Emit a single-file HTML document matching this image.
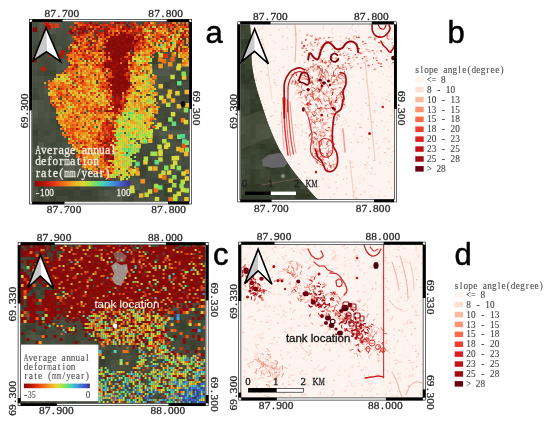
<!DOCTYPE html>
<html><head><meta charset="utf-8"><title>Figure</title>
<style>html,body{margin:0;padding:0;background:#fff;overflow:hidden;width:550px;height:425px;} svg{display:block}</style></head>
<body><svg width="550" height="425" viewBox="0 0 550 425">
<rect width="550" height="425" fill="#fff"/>
<filter id="blur" x="-5%" y="-5%" width="110%" height="110%"><feGaussianBlur stdDeviation="0.9"/></filter>
<clipPath id="ca"><rect x="32.1" y="22.0" width="157.2" height="179.5"/></clipPath>
<g clip-path="url(#ca)">
<rect x="32.1" y="22.0" width="157.2" height="179.5" fill="#474d3f"/>
<path stroke="#474d3f" stroke-width="6" d="M32.1 25h6M80.1 25h6M98.1 25h6M110.1 25h6M134.1 25h6M170.1 25h6M188.1 25h1.2M68.1 31h6M98.1 31h6M128.1 31h6M182.1 31h6M44.1 37h6M62.1 37h6M98.1 37h18M146.1 37h6M32.1 43h6M56.1 43h12M92.1 43h6M158.1 43h6M44.1 49h6M74.1 49h6M98.1 49h6M158.1 49h6M44.1 55h6M110.1 55h6M158.1 55h12M38.1 61h6M50.1 61h6M80.1 61h6M182.1 61h6M38.1 67h6M50.1 67h6M86.1 67h6M128.1 67h6M152.1 67h6M182.1 67h6M32.1 73h6M62.1 73h6M74.1 73h6M98.1 73h12M122.1 73h6M182.1 73h6M44.1 79h18M68.1 79h12M110.1 79h12M134.1 79h6M32.1 85h12M68.1 85h6M86.1 85h6M104.1 85h6M122.1 85h6M170.1 85h6M62.1 91h6M74.1 91h6M86.1 91h12M110.1 91h6M128.1 91h6M146.1 91h6M164.1 91h12M38.1 97h6M68.1 97h12M86.1 97h6M116.1 97h6M128.1 97h6M170.1 97h6M68.1 103h18M98.1 103h6M116.1 103h6M152.1 103h6M182.1 103h6M56.1 109h6M74.1 109h6M104.1 109h6M134.1 109h6M146.1 109h12M104.1 115h12M146.1 115h6M158.1 115h6M176.1 115h12M38.1 121h6M110.1 121h6M38.1 127h18M146.1 127h12M170.1 127h19.2M38.1 133h6M56.1 133h12M38.1 139h6M62.1 139h12M80.1 139h6M92.1 139h12M116.1 139h6M128.1 139h24M44.1 145h6M56.1 145h6M74.1 145h6M134.1 145h6M146.1 145h6M188.1 145h1.2M38.1 151h12M74.1 151h6M92.1 151h6M122.1 151h6M164.1 151h6M182.1 151h7.2M56.1 157h6M74.1 157h6M98.1 157h6M170.1 157h6M182.1 157h6M32.1 163h12M50.1 163h6M68.1 163h6M116.1 163h12M164.1 163h6M182.1 163h6M44.1 169h6M62.1 169h6M86.1 169h6M98.1 169h6M110.1 169h6M122.1 169h6M146.1 169h6M158.1 169h6M188.1 169h1.2M44.1 175h6M62.1 175h12M80.1 175h6M146.1 175h12M182.1 175h6M38.1 181h6M50.1 181h6M62.1 181h6M74.1 181h6M86.1 181h6M98.1 181h6M110.1 181h6M164.1 181h6M182.1 181h7.2M50.1 187h6M80.1 187h6M110.1 187h6M146.1 187h6M170.1 187h6M122.1 193h12M176.1 193h6M32.1 199h6M44.1 199h6M98.1 199h6M122.1 199h6M182.1 199h6" opacity="0.8"/>
<path stroke="#565c4e" stroke-width="6" d="M38.1 25h6M50.1 25h12M152.1 25h6M50.1 31h6M128.1 49h6M146.1 49h12M56.1 55h6M140.1 55h12M56.1 61h6M68.1 61h6M128.1 61h6M164.1 61h6M62.1 67h6M164.1 67h6M152.1 73h18M146.1 79h12M140.1 85h18M44.1 91h6M32.1 103h6M92.1 103h6M32.1 109h6M80.1 109h18M32.1 115h6M92.1 115h6M122.1 115h12M134.1 121h6M152.1 121h6M98.1 127h6M116.1 127h6M128.1 127h6M116.1 133h6M158.1 133h31.2M182.1 139h6M38.1 145h6M182.1 145h6M32.1 169h6M92.1 169h6M92.1 175h6M56.1 181h6M116.1 187h6M134.1 187h6M104.1 193h6M116.1 193h6M188.1 193h1.2M110.1 199h12" opacity="0.8"/>
<path stroke="#515749" stroke-width="6" d="M44.1 25h6M68.1 25h6M116.1 25h12M158.1 25h12M176.1 25h12M38.1 31h6M104.1 31h6M38.1 37h6M68.1 37h6M188.1 37h1.2M56.1 49h6M86.1 49h12M134.1 49h12M50.1 55h6M86.1 55h12M128.1 55h6M62.1 61h6M98.1 61h6M140.1 61h6M170.1 61h6M188.1 61h1.2M56.1 67h6M92.1 67h6M104.1 67h6M134.1 67h6M158.1 67h6M170.1 67h6M188.1 67h1.2M86.1 73h6M140.1 73h12M188.1 73h1.2M104.1 79h6M80.1 85h6M128.1 85h12M188.1 85h1.2M152.1 91h6M92.1 97h6M104.1 97h6M38.1 103h6M86.1 103h6M164.1 103h6M38.1 109h6M98.1 109h6M170.1 109h12M188.1 109h1.2M44.1 115h6M86.1 115h6M140.1 115h6M116.1 121h6M122.1 127h6M134.1 127h6M98.1 133h6M110.1 133h6M128.1 133h6M122.1 139h6M164.1 139h6M188.1 139h1.2M68.1 145h6M92.1 157h6M68.1 169h6M116.1 169h6M152.1 169h6M164.1 169h18M38.1 175h6M80.1 181h6M122.1 181h24M122.1 187h6M182.1 187h6M32.1 193h6M110.1 193h6M140.1 193h6M146.1 199h12M170.1 199h6" opacity="0.8"/>
<path stroke="#4c5244" stroke-width="6" d="M62.1 25h6M92.1 25h6M104.1 25h6M128.1 25h6M32.1 31h6M44.1 31h6M56.1 31h12M110.1 31h12M152.1 31h6M32.1 37h6M56.1 37h6M152.1 37h6M38.1 43h6M68.1 43h6M104.1 43h6M134.1 43h12M152.1 43h6M188.1 43h1.2M38.1 49h6M50.1 49h6M80.1 49h6M62.1 55h6M74.1 55h12M98.1 55h12M134.1 55h6M188.1 55h1.2M32.1 61h6M74.1 61h6M86.1 61h12M104.1 61h6M134.1 61h6M146.1 61h6M32.1 67h6M68.1 67h18M98.1 67h6M110.1 67h6M122.1 67h6M140.1 67h6M56.1 73h6M68.1 73h6M80.1 73h6M110.1 73h12M170.1 73h6M32.1 79h12M62.1 79h6M80.1 79h6M122.1 79h6M140.1 79h6M158.1 79h12M188.1 79h1.2M44.1 85h12M74.1 85h6M158.1 85h6M182.1 85h6M38.1 91h6M50.1 91h6M80.1 91h6M104.1 91h6M158.1 91h6M44.1 97h18M98.1 97h6M110.1 97h6M158.1 97h12M44.1 103h6M104.1 103h6M158.1 103h6M170.1 103h12M188.1 103h1.2M44.1 109h6M122.1 109h12M182.1 109h6M38.1 115h6M50.1 115h6M80.1 115h6M98.1 115h6M134.1 115h6M188.1 115h1.2M32.1 121h6M44.1 121h6M80.1 121h6M104.1 121h6M122.1 121h12M140.1 121h12M104.1 127h12M158.1 127h12M50.1 133h6M104.1 133h6M122.1 133h6M146.1 133h12M44.1 139h12M158.1 139h6M170.1 139h6M62.1 145h6M80.1 145h24M116.1 145h6M164.1 145h18M32.1 151h6M56.1 151h18M80.1 151h12M116.1 151h6M170.1 151h12M44.1 157h12M62.1 157h12M86.1 157h6M110.1 157h18M152.1 157h6M176.1 157h6M44.1 163h6M62.1 163h6M86.1 163h12M134.1 163h6M158.1 163h6M170.1 163h12M38.1 169h6M128.1 169h6M32.1 175h6M122.1 175h12M158.1 175h18M32.1 181h6M116.1 181h6M32.1 187h6M128.1 187h6M140.1 187h6M188.1 187h1.2M98.1 193h6M146.1 193h6M182.1 193h6M104.1 199h6M134.1 199h12M176.1 199h6M188.1 199h1.2" opacity="0.8"/>
<path stroke="#42483a" stroke-width="6" d="M74.1 25h6M86.1 25h6M74.1 31h6M134.1 31h6M146.1 31h6M158.1 31h24M188.1 31h1.2M50.1 37h6M74.1 37h12M116.1 37h6M158.1 37h6M176.1 37h6M44.1 43h12M74.1 43h12M110.1 43h12M146.1 43h6M62.1 49h12M104.1 49h12M170.1 49h18M32.1 55h12M68.1 55h6M122.1 55h6M170.1 55h18M44.1 61h6M158.1 61h6M44.1 67h6M116.1 67h6M146.1 67h6M176.1 67h6M38.1 73h6M92.1 73h6M128.1 73h12M86.1 79h6M98.1 79h6M128.1 79h6M176.1 79h6M56.1 85h6M32.1 91h6M56.1 91h6M68.1 91h6M98.1 91h6M116.1 91h6M134.1 91h12M176.1 91h13.2M62.1 97h6M122.1 97h6M146.1 97h6M176.1 97h6M62.1 103h6M122.1 103h12M50.1 109h6M116.1 109h6M140.1 109h6M158.1 109h12M116.1 115h6M164.1 115h12M50.1 121h6M68.1 121h12M86.1 121h18M158.1 121h6M176.1 121h6M188.1 121h1.2M32.1 127h6M74.1 127h24M140.1 127h6M44.1 133h6M92.1 133h6M134.1 133h6M32.1 139h6M56.1 139h6M104.1 139h12M152.1 139h6M176.1 139h6M32.1 145h6M50.1 145h6M122.1 145h6M140.1 145h6M152.1 145h12M50.1 151h6M110.1 151h6M128.1 151h36M80.1 157h6M104.1 157h6M134.1 157h6M146.1 157h6M158.1 157h12M188.1 157h1.2M56.1 163h6M80.1 163h6M98.1 163h6M128.1 163h6M152.1 163h6M80.1 169h6M134.1 169h6M182.1 169h6M50.1 175h12M74.1 175h6M86.1 175h6M110.1 175h12M134.1 175h6M176.1 175h6M188.1 175h1.2M44.1 181h6M92.1 181h6M146.1 181h6M170.1 181h12M44.1 187h6M56.1 187h6M68.1 187h6M86.1 187h24M152.1 187h12M176.1 187h6M74.1 193h6M92.1 193h6M134.1 193h6M152.1 193h12M170.1 193h6M56.1 199h12M158.1 199h6" opacity="0.8"/>
<path stroke="#383e30" stroke-width="6" d="M140.1 25h6M80.1 31h6M92.1 31h6M122.1 31h6M122.1 37h18M164.1 37h6M182.1 37h6M170.1 43h6M116.1 49h6M164.1 49h6M116.1 55h6M116.1 61h6M152.1 61h6M92.1 79h6M92.1 85h6M110.1 85h12M164.1 85h6M134.1 97h12M188.1 97h1.2M146.1 103h6M62.1 109h6M110.1 109h6M56.1 115h6M68.1 115h6M56.1 121h12M182.1 121h6M68.1 127h6M32.1 133h6M68.1 133h18M74.1 139h6M104.1 145h12M104.1 151h6M128.1 157h6M56.1 169h6M74.1 169h6M140.1 169h6M104.1 175h6M104.1 181h6M38.1 187h6M74.1 187h6M164.1 187h6M38.1 193h6M56.1 193h18M80.1 193h12M164.1 193h6M50.1 199h6M68.1 199h6" opacity="0.8"/>
<path stroke="#3d4335" stroke-width="6" d="M146.1 25h6M86.1 31h6M140.1 31h6M86.1 37h12M140.1 37h6M170.1 37h6M86.1 43h6M98.1 43h6M122.1 43h12M164.1 43h6M176.1 43h12M32.1 49h6M122.1 49h6M188.1 49h1.2M152.1 55h6M110.1 61h6M122.1 61h6M176.1 61h6M44.1 73h12M176.1 73h6M170.1 79h6M182.1 79h6M62.1 85h6M98.1 85h6M176.1 85h6M122.1 91h6M32.1 97h6M80.1 97h6M152.1 97h6M182.1 97h6M50.1 103h12M110.1 103h6M134.1 103h12M68.1 109h6M62.1 115h6M74.1 115h6M152.1 115h6M164.1 121h12M56.1 127h12M86.1 133h6M140.1 133h6M86.1 139h6M128.1 145h6M98.1 151h6M32.1 157h12M140.1 157h6M74.1 163h6M104.1 163h12M140.1 163h12M188.1 163h1.2M50.1 169h6M104.1 169h6M98.1 175h6M140.1 175h6M68.1 181h6M152.1 181h12M62.1 187h6M44.1 193h12M38.1 199h6M74.1 199h24M128.1 199h6M164.1 199h6" opacity="0.8"/>
<ellipse cx="75" cy="168" rx="16" ry="8" fill="#6a6e60" opacity="0.5" transform="rotate(-20 75 168)"/>

<path stroke="#c31b09" stroke-width="4.5" d="M44.3 24.25h4.5M71.3 63.85h4.5M41.2 69.05h4.5"/>
<path stroke="#e23a0f" stroke-width="4.5" d="M48.7 25.75h4.5M54.4 25.65h4.5"/>
<path stroke="#d8300d" stroke-width="4.5" d="M77.3 24.25h4.5M72.4 47.15h4.5M163.7 55.75h4.5"/>
<path stroke="#860908" stroke-width="4.5" d="M32.6 29.85h4.5M69.4 32.05h4.5"/>
<path stroke="#ab1308" stroke-width="4.5" d="M46.2 27.25h4.5M77.7 38.15h4.5"/>
<path stroke="#b81608" stroke-width="4.5" d="M60.2 52.25h4.5M58.3 56.05h4.5M67.7 75.05h4.5"/>
<path stroke="#eb5413" stroke-width="4.5" d="M150.2 50.55h4.5M184.8 50.95h4.5M181.6 145.75h4.5"/>
<path stroke="#ed6315" stroke-width="4.5" d="M152.1 50.35h4.5M170.3 59.35h4.5"/>
<path stroke="#ce260b" stroke-width="4.5" d="M48.7 54.65h4.5"/>
<path stroke="#e8c530" stroke-width="4.5" d="M158.7 55.25h4.5M184.7 64.35h4.5M181.9 77.45h4.5M158.4 86.25h4.5M166.6 96.35h4.5M176.7 106.25h4.5M158.5 176.05h4.5M168.5 180.75h4.5M184.2 199.25h4.5"/>
<path stroke="#f07f1a" stroke-width="4.5" d="M171.6 54.45h4.5M157.9 59.55h4.5M180.8 120.25h4.5M134.4 169.65h4.5"/>
<path stroke="#920c08" stroke-width="4.5" d="M32.3 60.25h4.5M65.1 79.65h4.5"/>
<path stroke="#ef7117" stroke-width="4.5" d="M161.8 61.35h4.5M152.3 77.25h4.5M131.8 141.05h4.5M162 177.45h4.5M153.7 190.25h4.5M168.3 199.25h4.5"/>
<path stroke="#9f0f08" stroke-width="4.5" d="M69.4 64.35h4.5"/>
<path stroke="#f09c22" stroke-width="4.5" d="M158.4 66.05h4.5M150.5 82.35h4.5M132 149.95h4.5M184.8 171.65h4.5"/>
<path stroke="#f08e1e" stroke-width="4.5" d="M167.9 64.25h4.5M181.9 64.35h4.5M140.4 181.15h4.5"/>
<path stroke="#e3d235" stroke-width="4.5" d="M176.9 65.75h4.5M175.2 93.25h4.5M157.2 124.65h4.5M183.7 122.05h4.5M163.9 146.65h4.5M158.3 153.95h4.5M143.2 162.35h4.5M184.8 178.45h4.5M167.6 189.95h4.5"/>
<path stroke="#c6dd3d" stroke-width="4.5" d="M147.8 70.55h4.5M170.3 76.95h4.5M149.8 110.75h4.5M154.6 126.95h4.5M148.2 136.35h4.5M157.3 146.75h4.5M158.2 159.55h4.5M170.4 166.75h4.5M161.2 172.65h4.5M130.3 190.95h4.5M180.5 190.05h4.5M144.4 194.85h4.5M173 196.55h4.5M154.8 199.25h4.5"/>
<path stroke="#d7da3a" stroke-width="4.5" d="M176.2 68.35h4.5M159 97.65h4.5M170.8 114.15h4.5M148.6 131.15h4.5M165.7 144.65h4.5M158.3 151.55h4.5M171.5 158.15h4.5M174.8 158.05h4.5M172.9 163.05h4.5M148.1 168.55h4.5M131.6 171.35h4.5M166.8 172.45h4.5M181.3 173.55h4.5M129.7 187.65h4.5M147.8 191.55h4.5M176.5 193.75h4.5"/>
<path stroke="#86e05c" stroke-width="4.5" d="M181.4 73.65h4.5M183.7 110.25h4.5M168.1 119.55h4.5M184.8 142.75h4.5M164 167.65h4.5M176.6 168.05h4.5M172.1 177.35h4.5"/>
<path stroke="#60db85" stroke-width="4.5" d="M177 83.25h4.5M171.7 123.65h4.5M182 141.45h4.5M135.2 163.95h4.5M154.5 162.35h4.5"/>
<path stroke="#edb82b" stroke-width="4.5" d="M167.7 91.85h4.5M184.5 91.95h4.5M184.5 105.25h4.5M140.1 141.15h4.5M147.9 140.85h4.5M136.4 146.15h4.5M176.1 148.95h4.5M183.9 153.95h4.5M138.9 195.55h4.5"/>
<path stroke="#f0ab26" stroke-width="4.5" d="M161.7 101.25h4.5M170.7 100.55h4.5M168.4 136.65h4.5M179.6 150.25h4.5M153.1 168.55h4.5M135.4 173.45h4.5"/>
<path stroke="#b4e042" stroke-width="4.5" d="M166 104.85h4.5M153.7 108.65h4.5M162.5 128.85h4.5M141.1 136.35h4.5M162.1 141.25h4.5M143.6 158.85h4.5M180.5 181.85h4.5M184.8 190.45h4.5M173 198.85h4.5"/>
<path stroke="#6fe069" stroke-width="4.5" d="M177 136.65h4.5M143.1 141.25h4.5M158 187.45h4.5"/>
<path stroke="#51d6a2" stroke-width="4.5" d="M180.6 136.35h4.5"/>
<path stroke="#9de04f" stroke-width="4.5" d="M134.9 150.15h4.5M184.8 149.75h4.5M150.3 153.65h4.5M153 153.65h4.5M153.9 186.05h4.5M172 185.35h4.5M179.3 185.95h4.5"/>
<path stroke="#f07f1a" stroke-width="2" d="M74.1 23h2M172.1 23h2M176.1 25h2M136.1 27h2M164.1 29h2M108.1 31h2M130.1 31h2M142.1 31h2M172.1 31h2M90.1 33h2M118.1 33h2M154.1 33h2M158.1 33h4M174.1 33h2M184.1 35h2M90.1 39h2M94.1 41h2M106.1 41h2M140.1 41h2M154.1 41h2M186.1 41h2M92.1 45h2M140.1 45h2M152.1 45h2M86.1 47h2M142.1 47h2M80.1 49h2M96.1 49h2M146.1 49h2M144.1 51h2M166.1 51h2M178.1 51h2M80.1 53h2M96.1 53h4M102.1 53h2M136.1 53h4M178.1 53h2M184.1 53h2M68.1 55h6M142.1 55h2M72.1 57h2M80.1 57h2M96.1 57h2M108.1 57h2M152.1 57h2M92.1 59h2M140.1 59h2M144.1 59h2M186.1 59h2M78.1 61h2M184.1 61h2M134.1 63h2M72.1 65h2M78.1 67h2M88.1 67h2M92.1 67h2M106.1 69h2M100.1 73h2M76.1 75h2M106.1 75h2M94.1 77h2M84.1 79h2M88.1 79h2M100.1 79h2M72.1 81h2M100.1 81h2M142.1 83h2M152.1 83h2M52.1 85h2M58.1 85h4M64.1 85h2M68.1 85h2M72.1 85h2M98.1 85h2M66.1 87h4M82.1 87h2M92.1 87h2M52.1 89h2M56.1 89h2M64.1 89h2M84.1 89h2M54.1 91h2M76.1 91h2M84.1 91h4M100.1 91h2M130.1 91h2M144.1 91h2M56.1 93h2M72.1 93h2M156.1 93h2M68.1 95h2M86.1 95h2M134.1 95h2M150.1 95h2M52.1 97h2M56.1 97h2M100.1 97h2M122.1 97h2M80.1 99h2M90.1 99h2M108.1 99h2M64.1 101h2M82.1 101h2M100.1 101h2M94.1 103h2M104.1 103h2M156.1 103h2M66.1 105h2M84.1 105h4M140.1 105h2M152.1 105h2M94.1 107h2M104.1 107h2M128.1 107h2M146.1 107h2M150.1 107h4M66.1 109h2M118.1 109h2M140.1 109h4M80.1 111h2M60.1 113h2M108.1 113h2M62.1 115h2M62.1 117h2M88.1 117h2M96.1 117h2M64.1 119h2M60.1 121h2M88.1 121h2M58.1 123h2M70.1 123h4M78.1 123h4M80.1 125h2M96.1 125h2M62.1 127h2M66.1 127h2M90.1 127h2M100.1 127h2M90.1 129h6M68.1 131h2M76.1 131h2M66.1 133h2M78.1 133h2M90.1 135h2M96.1 135h2M84.1 139h2M70.1 141h2M96.1 141h2M74.1 143h2M82.1 143h2M100.1 143h2M90.1 145h2M98.1 151h2M98.1 153h2M102.1 155h2M88.1 159h6M80.1 161h2M90.1 161h2M100.1 163h2M82.1 167h2M88.1 167h2M100.1 167h2M96.1 169h2M104.1 169h2M128.1 169h2M100.1 171h2M110.1 171h2M106.1 175h2"/>
<path stroke="#ef7117" stroke-width="2" d="M76.1 23h2M148.1 25h2M164.1 27h2M170.1 29h2M112.1 31h2M124.1 31h2M166.1 31h2M112.1 33h2M148.1 33h2M168.1 33h2M178.1 33h2M150.1 35h2M154.1 35h2M166.1 35h2M80.1 37h2M92.1 37h2M108.1 37h2M98.1 39h2M152.1 39h2M166.1 39h2M150.1 41h2M84.1 43h2M98.1 43h2M152.1 43h2M188.1 45h1.2M82.1 47h2M96.1 47h2M102.1 47h2M178.1 47h2M74.1 49h2M92.1 49h2M72.1 51h2M78.1 51h2M88.1 51h2M142.1 51h2M72.1 53h2M90.1 53h2M152.1 53h2M182.1 53h2M90.1 55h2M94.1 55h2M146.1 55h2M150.1 55h2M68.1 57h4M78.1 57h2M98.1 57h2M134.1 57h2M184.1 57h2M188.1 57h1.2M68.1 59h2M74.1 59h2M78.1 59h2M102.1 59h2M182.1 59h2M120.1 63h2M130.1 63h2M144.1 63h2M184.1 63h2M142.1 65h2M80.1 69h4M94.1 69h2M130.1 69h2M136.1 69h2M140.1 69h2M64.1 71h2M68.1 71h2M72.1 71h6M86.1 71h2M90.1 71h2M148.1 71h2M62.1 73h2M72.1 73h4M80.1 73h2M94.1 73h2M102.1 73h4M142.1 73h2M72.1 77h2M88.1 77h2M94.1 79h2M104.1 79h2M48.1 81h2M80.1 81h2M90.1 81h2M102.1 81h2M50.1 83h4M90.1 83h2M54.1 85h2M86.1 85h2M92.1 85h2M74.1 87h2M96.1 87h2M72.1 89h2M82.1 89h2M150.1 89h2M58.1 91h4M106.1 91h2M148.1 91h2M92.1 93h2M106.1 93h2M58.1 95h2M90.1 95h4M110.1 95h2M156.1 95h2M54.1 97h2M62.1 97h2M88.1 97h2M134.1 97h2M52.1 99h2M76.1 99h2M82.1 99h2M138.1 99h2M74.1 101h4M90.1 101h2M58.1 103h2M74.1 103h2M96.1 103h2M108.1 103h2M94.1 105h2M110.1 107h2M158.1 107h2M58.1 109h2M58.1 111h2M72.1 111h2M134.1 111h2M86.1 113h2M96.1 113h2M154.1 113h2M76.1 115h2M92.1 115h2M104.1 115h2M72.1 117h4M92.1 117h2M102.1 117h2M68.1 119h2M86.1 119h2M104.1 119h2M150.1 119h2M78.1 121h2M64.1 123h2M68.1 123h2M76.1 123h2M70.1 125h2M74.1 125h2M90.1 125h2M72.1 127h4M68.1 129h2M64.1 131h2M80.1 131h2M94.1 131h2M98.1 131h2M96.1 133h2M66.1 135h4M92.1 135h2M100.1 135h2M64.1 137h2M80.1 137h2M86.1 137h2M100.1 137h2M76.1 139h2M70.1 143h2M88.1 143h2M96.1 143h4M78.1 145h2M78.1 147h2M96.1 147h2M86.1 149h2M92.1 149h2M70.1 153h2M88.1 153h2M100.1 153h2M100.1 155h2M82.1 157h2M80.1 159h2M98.1 159h2M94.1 161h4M88.1 163h2M92.1 163h2M94.1 167h2M104.1 167h2M110.1 167h2M100.1 169h2M106.1 169h2M110.1 169h2M102.1 171h2M130.1 175h2"/>
<path stroke="#e23a0f" stroke-width="2" d="M78.1 23h2M82.1 23h2M110.1 23h2M146.1 23h2M82.1 25h4M88.1 25h2M100.1 25h2M120.1 25h4M136.1 25h2M140.1 25h2M174.1 25h2M182.1 25h2M70.1 27h2M74.1 27h2M94.1 27h2M138.1 27h4M162.1 27h2M114.1 29h2M154.1 29h2M76.1 31h2M88.1 31h2M118.1 31h2M188.1 31h1.2M88.1 33h2M92.1 33h2M108.1 33h2M128.1 33h2M138.1 33h2M156.1 33h2M170.1 33h2M182.1 33h2M76.1 35h2M92.1 35h2M110.1 35h2M144.1 35h2M156.1 35h2M160.1 35h2M84.1 37h2M90.1 37h2M186.1 37h2M136.1 39h2M140.1 39h2M144.1 39h2M170.1 39h2M82.1 41h2M102.1 41h2M156.1 41h2M166.1 41h2M72.1 43h2M86.1 43h2M140.1 43h2M144.1 43h2M84.1 45h2M80.1 47h2M134.1 47h2M182.1 49h2M96.1 51h2M134.1 51h2M138.1 51h2M184.1 51h2M84.1 53h2M104.1 53h2M78.1 55h2M86.1 55h2M92.1 55h2M82.1 57h6M90.1 57h2M74.1 61h2M94.1 63h2M98.1 63h2M132.1 63h2M92.1 65h2M132.1 69h2M90.1 73h2M72.1 75h2M126.1 75h2M82.1 77h2M112.1 77h2M72.1 79h2M66.1 81h2M106.1 85h2M48.1 87h2M104.1 87h2M60.1 89h2M128.1 89h2M98.1 91h2M102.1 91h2M58.1 93h4M78.1 93h2M126.1 93h2M140.1 93h2M56.1 95h2M60.1 95h2M126.1 95h2M50.1 97h2M74.1 97h2M70.1 101h2M92.1 101h2M96.1 105h2M56.1 107h2M62.1 107h2M84.1 107h2M154.1 107h2M82.1 109h2M86.1 109h2M96.1 109h2M122.1 109h2M92.1 111h4M120.1 113h2M108.1 115h2M120.1 115h2M112.1 117h2M74.1 119h2M108.1 121h2M112.1 123h2M84.1 125h2M102.1 125h4M106.1 127h2M72.1 129h2M104.1 131h2M88.1 133h2M108.1 133h2M102.1 135h2M72.1 139h2M108.1 139h2M88.1 141h2M116.1 141h2M72.1 143h2M92.1 145h2M94.1 151h4M100.1 151h2M96.1 153h2M106.1 161h2M82.1 163h2M112.1 169h2M92.1 173h2M104.1 173h2M108.1 179h2"/>
<path stroke="#ce260b" stroke-width="2" d="M86.1 23h2M92.1 23h2M96.1 23h2M132.1 23h2M164.1 23h2M102.1 25h2M110.1 25h2M130.1 25h2M110.1 27h2M118.1 27h2M186.1 27h2M72.1 29h2M100.1 29h2M118.1 29h4M138.1 31h2M84.1 33h2M144.1 33h2M80.1 35h4M108.1 35h2M76.1 37h2M164.1 37h2M184.1 37h2M94.1 39h2M94.1 43h2M136.1 43h4M178.1 43h2M94.1 45h2M170.1 45h2M148.1 47h2M180.1 47h2M76.1 53h2M150.1 53h2M130.1 55h2M88.1 57h2M66.1 59h2M94.1 59h2M120.1 59h2M110.1 61h2M102.1 63h2M70.1 65h2M128.1 65h2M144.1 65h2M130.1 67h2M124.1 69h2M104.1 71h2M80.1 77h2M126.1 79h2M74.1 81h2M44.1 87h2M54.1 87h2M106.1 87h4M66.1 91h2M90.1 93h2M108.1 93h2M96.1 97h2M110.1 99h2M60.1 103h2M86.1 103h2M122.1 103h2M122.1 105h2M94.1 113h2M70.1 117h2M114.1 117h2M102.1 123h2M112.1 125h2M102.1 127h2M108.1 127h4M106.1 129h4M98.1 133h2M112.1 135h2M68.1 137h2M108.1 137h4M104.1 141h2M114.1 141h2M84.1 143h2M102.1 145h2M106.1 145h2M108.1 147h2M80.1 149h2M102.1 149h4M110.1 149h2M106.1 151h2M80.1 163h2M106.1 163h2M110.1 173h2"/>
<path stroke="#860908" stroke-width="2" d="M90.1 23h2M118.1 23h2M96.1 25h2M126.1 25h2M132.1 25h2M128.1 27h2M80.1 29h2M84.1 29h2M88.1 29h2M122.1 29h2M82.1 31h2M78.1 33h2M104.1 33h2M120.1 33h2M124.1 33h2M106.1 35h2M120.1 35h6M128.1 35h2M118.1 37h2M122.1 37h4M128.1 37h6M180.1 37h2M114.1 39h2M120.1 39h2M126.1 39h8M138.1 39h2M104.1 41h2M108.1 41h2M112.1 41h4M118.1 41h2M124.1 41h8M134.1 41h4M106.1 43h4M112.1 43h6M120.1 43h4M126.1 43h2M130.1 43h2M134.1 43h2M106.1 45h10M120.1 45h4M106.1 47h4M112.1 47h2M116.1 47h4M124.1 47h2M132.1 47h2M106.1 49h2M110.1 49h14M126.1 49h4M132.1 49h2M100.1 51h2M106.1 51h4M114.1 51h6M124.1 51h4M132.1 51h2M106.1 53h2M110.1 53h2M114.1 53h2M118.1 53h8M130.1 53h2M106.1 55h2M112.1 55h8M122.1 55h2M132.1 55h2M110.1 57h12M130.1 57h2M70.1 59h2M112.1 59h4M118.1 59h2M122.1 59h4M118.1 61h4M126.1 61h2M104.1 63h2M110.1 63h2M114.1 63h2M124.1 63h4M104.1 65h6M118.1 65h2M122.1 65h6M104.1 67h8M120.1 67h2M124.1 67h4M116.1 69h2M120.1 69h4M108.1 71h2M118.1 71h4M126.1 71h2M118.1 73h2M122.1 73h2M116.1 75h4M106.1 77h2M116.1 77h10M114.1 79h2M118.1 79h8M108.1 81h2M112.1 81h2M116.1 81h4M122.1 81h6M110.1 83h4M116.1 83h14M108.1 85h2M118.1 85h2M124.1 85h6M114.1 87h2M118.1 87h2M124.1 87h2M110.1 89h2M114.1 89h2M118.1 89h2M126.1 89h2M116.1 91h2M122.1 91h2M112.1 93h2M116.1 93h2M120.1 93h2M124.1 93h2M114.1 95h2M120.1 97h2M118.1 105h2M120.1 107h2M106.1 111h2M116.1 111h2M110.1 139h2M108.1 151h2M108.1 155h2M112.1 159h2"/>
<path stroke="#c31b09" stroke-width="2" d="M104.1 23h2M120.1 23h2M170.1 23h2M90.1 25h2M108.1 25h2M114.1 25h2M146.1 25h2M160.1 25h2M166.1 25h2M92.1 27h2M112.1 27h2M124.1 27h2M168.1 27h2M126.1 29h2M134.1 29h2M80.1 31h2M96.1 31h2M132.1 31h2M68.1 33h2M76.1 33h2M98.1 33h4M130.1 33h4M172.1 33h2M132.1 35h2M78.1 37h2M126.1 37h2M138.1 37h2M156.1 39h2M164.1 39h2M90.1 41h2M96.1 41h2M138.1 41h2M104.1 43h2M142.1 43h2M102.1 45h2M134.1 45h2M148.1 45h2M88.1 47h2M138.1 47h2M144.1 47h2M88.1 49h2M136.1 49h4M152.1 51h2M176.1 51h2M68.1 53h2M88.1 53h2M92.1 57h2M128.1 57h2M90.1 59h2M106.1 59h2M128.1 59h2M92.1 61h2M74.1 65h4M102.1 65h2M128.1 75h2M126.1 77h2M128.1 79h2M82.1 81h2M106.1 89h2M108.1 91h2M98.1 95h2M106.1 97h2M116.1 99h2M88.1 129h2M102.1 129h2M110.1 129h2M104.1 137h2M112.1 137h2M96.1 139h4M104.1 139h2M114.1 139h2M98.1 141h2M98.1 145h2M114.1 145h2M84.1 147h2M110.1 147h2M106.1 149h2M110.1 151h2M104.1 153h2M80.1 157h2M100.1 157h2M104.1 157h2M108.1 173h2"/>
<path stroke="#ed6315" stroke-width="2" d="M112.1 23h2M182.1 23h2M78.1 25h4M164.1 25h2M186.1 25h2M98.1 27h2M170.1 27h2M182.1 27h2M74.1 29h2M166.1 29h2M176.1 29h2M142.1 33h2M146.1 33h2M86.1 35h6M162.1 35h2M180.1 35h2M82.1 37h2M86.1 37h2M98.1 37h2M148.1 37h2M166.1 37h2M74.1 39h4M88.1 39h2M104.1 39h2M150.1 39h2M162.1 39h2M176.1 41h2M182.1 41h2M188.1 41h1.2M78.1 43h2M102.1 43h2M146.1 43h2M158.1 43h2M82.1 45h2M68.1 47h2M98.1 47h2M104.1 47h2M144.1 49h2M148.1 49h2M156.1 49h2M160.1 49h2M82.1 51h2M182.1 51h2M88.1 55h2M102.1 55h2M128.1 55h2M104.1 57h2M126.1 57h2M74.1 63h2M88.1 63h2M80.1 65h4M94.1 65h2M134.1 65h2M136.1 67h2M76.1 69h2M84.1 69h2M100.1 69h2M100.1 71h2M108.1 73h2M136.1 73h2M88.1 75h2M78.1 79h2M82.1 79h2M90.1 79h2M74.1 83h2M84.1 83h2M98.1 83h2M106.1 83h2M50.1 85h2M90.1 85h2M100.1 85h2M62.1 87h4M80.1 87h2M74.1 89h2M102.1 89h2M108.1 89h2M130.1 89h2M80.1 91h2M126.1 91h2M66.1 93h2M82.1 93h2M152.1 93h2M64.1 95h2M106.1 95h2M66.1 97h2M136.1 97h2M144.1 97h2M62.1 101h2M84.1 101h2M122.1 101h2M138.1 101h2M72.1 103h2M76.1 103h4M88.1 103h2M52.1 105h2M62.1 105h2M70.1 105h2M58.1 107h4M78.1 107h6M90.1 107h2M76.1 109h4M90.1 109h2M82.1 111h2M102.1 111h2M154.1 111h2M98.1 113h2M102.1 113h2M68.1 115h2M96.1 115h2M56.1 117h2M68.1 117h2M90.1 119h2M94.1 119h2M100.1 119h2M64.1 121h2M104.1 121h2M90.1 123h2M66.1 125h2M92.1 125h2M100.1 125h2M70.1 127h2M74.1 129h2M74.1 131h2M84.1 131h4M94.1 133h2M102.1 133h2M106.1 133h2M62.1 135h4M70.1 137h2M94.1 137h2M78.1 139h2M102.1 139h2M94.1 141h2M78.1 143h2M92.1 143h2M76.1 145h2M84.1 145h2M94.1 145h2M72.1 147h2M76.1 147h2M78.1 149h2M94.1 149h2M86.1 151h2M92.1 151h2M116.1 151h2M76.1 155h2M84.1 155h2M90.1 155h2M76.1 157h2M102.1 159h2M84.1 163h2M98.1 163h2M104.1 163h2M82.1 165h2M92.1 165h2M98.1 165h4M84.1 169h2M92.1 169h2M98.1 173h2M102.1 175h2"/>
<path stroke="#920c08" stroke-width="2" d="M114.1 23h4M148.1 23h2M184.1 25h2M84.1 27h2M100.1 27h2M128.1 29h2M74.1 31h2M106.1 31h2M82.1 33h2M110.1 33h2M116.1 33h2M134.1 35h2M142.1 35h2M182.1 35h2M110.1 37h8M120.1 37h2M108.1 39h6M116.1 39h4M122.1 39h4M142.1 39h2M110.1 41h2M116.1 41h2M120.1 41h2M132.1 41h2M74.1 43h2M90.1 43h2M110.1 43h2M118.1 43h2M124.1 43h2M128.1 43h2M104.1 45h2M116.1 45h4M126.1 45h4M132.1 45h2M110.1 47h2M114.1 47h2M120.1 47h4M126.1 47h6M104.1 49h2M108.1 49h2M124.1 49h2M130.1 49h2M84.1 51h2M98.1 51h2M110.1 51h2M120.1 51h4M128.1 51h2M112.1 53h2M116.1 53h2M104.1 55h2M120.1 55h2M124.1 55h2M106.1 57h2M122.1 57h2M116.1 59h2M106.1 61h4M112.1 61h6M108.1 63h2M112.1 63h2M118.1 63h2M122.1 63h2M110.1 65h4M116.1 67h4M122.1 67h2M102.1 69h2M110.1 69h6M118.1 69h2M112.1 71h2M122.1 71h4M112.1 73h6M120.1 73h2M124.1 73h2M112.1 75h4M120.1 75h4M114.1 77h2M128.1 77h2M108.1 79h2M112.1 79h2M116.1 79h2M110.1 81h2M114.1 81h2M120.1 81h2M114.1 83h2M134.1 83h2M112.1 85h6M120.1 85h4M110.1 87h4M116.1 87h2M120.1 87h4M126.1 87h2M116.1 89h2M120.1 89h4M114.1 91h2M118.1 91h4M124.1 91h2M114.1 93h2M118.1 93h2M118.1 95h4M114.1 97h2M120.1 99h2M126.1 101h2M114.1 105h2M114.1 107h6M120.1 109h2M100.1 141h2M106.1 155h2M112.1 157h2M110.1 159h2M108.1 165h2"/>
<path stroke="#ab1308" stroke-width="2" d="M122.1 23h2M94.1 25h2M82.1 29h2M90.1 29h2M98.1 29h2M106.1 29h4M132.1 29h2M152.1 29h2M172.1 29h2M170.1 31h2M184.1 31h2M80.1 33h2M122.1 33h2M130.1 35h2M104.1 37h2M136.1 37h2M80.1 39h2M76.1 45h2M86.1 45h2M94.1 49h2M70.1 51h2M180.1 51h2M84.1 59h2M130.1 59h2M100.1 61h2M96.1 65h2M102.1 87h2M116.1 95h2M112.1 99h2M118.1 99h2M112.1 101h2M118.1 101h2M114.1 103h6M110.1 105h4M114.1 109h2M108.1 111h2M112.1 111h4M114.1 113h2M106.1 121h2M106.1 125h2M112.1 127h2M112.1 129h2M98.1 135h2M106.1 141h4M112.1 143h2M100.1 145h2M106.1 147h2M112.1 149h2M104.1 151h2M106.1 153h2M110.1 153h4M108.1 157h4M110.1 163h2"/>
<path stroke="#9f0f08" stroke-width="2" d="M124.1 23h2M128.1 23h2M74.1 25h2M172.1 25h2M122.1 27h2M126.1 27h2M144.1 27h2M76.1 29h4M104.1 29h2M104.1 31h2M126.1 31h2M96.1 33h2M114.1 33h2M74.1 35h2M104.1 35h2M114.1 35h2M126.1 35h2M96.1 37h2M178.1 39h2M122.1 41h2M180.1 41h2M76.1 43h2M124.1 45h2M130.1 45h2M90.1 49h2M176.1 49h2M104.1 51h2M112.1 51h2M108.1 55h4M126.1 55h2M124.1 61h2M130.1 61h2M106.1 63h2M116.1 63h2M114.1 65h4M120.1 65h2M130.1 65h2M112.1 67h4M126.1 69h2M114.1 71h4M104.1 75h2M110.1 79h2M106.1 81h2M128.1 87h2M112.1 89h2M124.1 89h2M112.1 91h2M112.1 95h2M118.1 97h2M114.1 99h2M114.1 101h2M110.1 103h2M116.1 105h2M112.1 109h2M110.1 111h2M118.1 113h2M104.1 143h2M108.1 145h2M104.1 147h2M104.1 155h2M106.1 157h2M108.1 163h2"/>
<path stroke="#e94611" stroke-width="2" d="M134.1 23h2M154.1 23h2M106.1 25h2M150.1 25h2M168.1 25h2M78.1 27h2M96.1 27h2M176.1 27h2M184.1 27h2M110.1 29h4M136.1 29h2M148.1 29h2M128.1 31h2M186.1 31h2M84.1 35h2M96.1 35h2M100.1 35h2M140.1 35h2M158.1 35h2M186.1 35h2M106.1 37h2M156.1 37h4M174.1 37h2M82.1 39h2M102.1 39h2M134.1 39h2M158.1 39h2M188.1 39h1.2M76.1 41h2M144.1 41h2M168.1 41h2M178.1 41h2M176.1 43h2M180.1 43h4M88.1 45h2M146.1 45h2M182.1 45h2M136.1 47h2M166.1 47h2M68.1 49h2M84.1 49h2M100.1 49h2M134.1 49h2M186.1 49h2M76.1 51h2M162.1 51h2M70.1 53h2M82.1 53h2M124.1 57h2M96.1 59h2M84.1 65h2M132.1 65h2M98.1 67h2M132.1 67h2M66.1 69h2M70.1 69h2M92.1 69h2M108.1 69h2M66.1 71h2M80.1 71h2M126.1 73h2M108.1 75h4M98.1 77h2M110.1 77h2M80.1 79h2M98.1 79h2M102.1 79h2M82.1 83h2M108.1 83h2M76.1 85h2M102.1 85h2M58.1 87h2M100.1 87h2M50.1 89h2M62.1 89h2M70.1 89h2M88.1 89h2M82.1 91h2M94.1 93h2M104.1 93h2M110.1 93h2M62.1 95h2M70.1 95h2M64.1 97h2M68.1 97h2M80.1 97h2M124.1 97h2M50.1 99h2M72.1 99h2M122.1 99h2M72.1 101h2M64.1 103h2M60.1 105h2M86.1 107h2M102.1 107h2M98.1 109h2M106.1 109h2M76.1 111h2M88.1 111h4M118.1 111h2M82.1 113h2M94.1 117h2M78.1 119h2M92.1 119h2M66.1 121h2M98.1 121h2M94.1 123h2M114.1 123h2M108.1 125h4M92.1 127h2M104.1 127h2M62.1 129h2M66.1 129h2M70.1 129h2M78.1 129h2M66.1 131h2M72.1 131h2M90.1 131h2M68.1 133h2M90.1 133h4M100.1 133h2M72.1 135h2M78.1 135h2M108.1 135h2M106.1 137h2M112.1 139h2M82.1 141h2M86.1 147h2M100.1 147h2M72.1 149h2M98.1 149h4M108.1 149h2M88.1 151h2M102.1 151h2M100.1 161h2M96.1 165h2M104.1 165h2M96.1 171h2M108.1 171h2M104.1 177h4"/>
<path stroke="#d8300d" stroke-width="2" d="M144.1 23h2M160.1 23h2M104.1 25h2M134.1 25h2M144.1 25h2M158.1 25h2M162.1 25h2M170.1 25h2M178.1 25h2M86.1 27h4M102.1 27h2M108.1 27h2M132.1 27h2M86.1 29h2M102.1 29h2M130.1 29h2M150.1 29h2M160.1 29h2M72.1 31h2M110.1 31h2M134.1 31h4M154.1 31h2M102.1 33h2M126.1 33h2M150.1 33h2M164.1 33h2M168.1 35h2M142.1 41h2M152.1 41h2M88.1 43h2M96.1 43h2M132.1 43h2M162.1 43h2M92.1 47h2M86.1 49h2M140.1 49h2M174.1 49h2M94.1 51h2M154.1 51h2M126.1 53h2M84.1 55h2M98.1 55h4M86.1 59h2M110.1 59h2M82.1 61h2M104.1 61h2M98.1 65h4M74.1 67h2M100.1 67h2M104.1 69h2M110.1 71h2M128.1 73h2M124.1 75h2M128.1 81h2M80.1 83h2M100.1 83h2M104.1 83h2M76.1 87h2M66.1 89h2M68.1 93h2M66.1 99h2M84.1 99h2M108.1 101h2M120.1 101h2M112.1 103h2M120.1 103h2M54.1 105h2M106.1 105h2M54.1 107h2M100.1 107h2M106.1 107h2M122.1 107h4M104.1 109h2M100.1 111h2M72.1 113h2M80.1 113h2M100.1 113h2M116.1 113h2M106.1 119h2M84.1 123h2M104.1 123h2M76.1 125h2M102.1 131h2M110.1 131h2M104.1 133h2M112.1 133h4M104.1 135h2M72.1 137h2M98.1 137h2M92.1 139h2M102.1 141h2M108.1 143h4M112.1 145h2M82.1 147h2M94.1 147h2M98.1 147h2M96.1 149h2M108.1 153h2M110.1 155h2M108.1 169h2M98.1 171h2M104.1 171h2M102.1 173h2"/>
<path stroke="#edb82b" stroke-width="2" d="M150.1 23h2M154.1 27h2M156.1 29h2M186.1 29h2M116.1 31h2M160.1 31h2M160.1 39h2M180.1 39h2M170.1 41h2M164.1 43h2M70.1 45h2M78.1 45h2M156.1 47h2M164.1 47h2M184.1 47h2M166.1 49h2M170.1 49h2M146.1 51h2M150.1 51h2M164.1 51h2M100.1 53h2M142.1 53h2M180.1 53h2M96.1 55h2M188.1 55h1.2M94.1 57h2M182.1 57h2M98.1 59h2M98.1 61h2M136.1 63h2M138.1 65h2M142.1 67h2M146.1 67h2M148.1 69h4M78.1 71h2M84.1 71h2M134.1 71h2M144.1 71h2M60.1 75h6M68.1 75h2M82.1 75h2M132.1 75h2M60.1 81h2M104.1 81h2M136.1 81h2M148.1 81h2M58.1 83h2M64.1 83h2M94.1 83h2M132.1 83h2M94.1 85h2M134.1 85h2M146.1 85h2M130.1 87h2M146.1 87h2M150.1 87h2M54.1 89h2M144.1 89h2M148.1 89h2M70.1 91h2M96.1 91h2M146.1 91h2M74.1 93h2M98.1 93h2M144.1 93h2M48.1 95h2M76.1 95h2M154.1 95h2M78.1 97h2M64.1 99h2M92.1 99h2M132.1 99h2M142.1 99h2M148.1 99h2M58.1 101h2M140.1 101h2M154.1 101h2M66.1 103h2M136.1 103h2M152.1 103h2M76.1 105h2M128.1 105h2M72.1 107h4M112.1 107h2M68.1 109h2M66.1 111h2M128.1 111h2M138.1 111h2M76.1 113h2M88.1 113h2M92.1 113h2M134.1 113h2M140.1 113h2M148.1 113h2M94.1 115h2M106.1 115h2M112.1 115h2M108.1 117h2M118.1 117h2M144.1 117h2M60.1 119h4M88.1 119h2M122.1 119h2M148.1 119h2M80.1 121h2M86.1 121h2M90.1 121h2M142.1 121h2M146.1 121h2M82.1 123h2M100.1 123h2M146.1 123h6M62.1 125h4M98.1 127h2M124.1 127h4M64.1 129h2M88.1 131h2M92.1 131h2M96.1 131h2M138.1 131h2M86.1 133h2M138.1 133h2M84.1 135h2M94.1 135h2M124.1 135h2M76.1 137h2M120.1 137h2M124.1 137h2M80.1 139h2M138.1 139h2M126.1 141h2M94.1 143h2M82.1 145h2M80.1 147h2M114.1 147h2M74.1 149h2M118.1 149h2M78.1 153h2M114.1 153h2M114.1 157h2M124.1 157h2M94.1 159h2M122.1 161h2M126.1 161h2M96.1 163h2M122.1 163h2M118.1 165h2M106.1 167h4M120.1 167h2M124.1 167h2M90.1 169h2M130.1 171h2M124.1 173h2M112.1 177h2M120.1 181h2"/>
<path stroke="#f09c22" stroke-width="2" d="M152.1 23h2M90.1 27h2M120.1 27h2M142.1 27h2M148.1 27h2M162.1 29h2M144.1 31h2M158.1 31h2M182.1 31h2M170.1 35h2M150.1 37h2M176.1 37h4M84.1 39h2M100.1 39h2M78.1 41h2M84.1 41h2M162.1 41h2M82.1 43h2M168.1 43h2M186.1 43h2M74.1 45h2M162.1 45h2M154.1 47h2M158.1 47h2M174.1 47h2M182.1 47h2M186.1 47h2M154.1 49h2M188.1 49h1.2M86.1 51h2M148.1 51h2M156.1 51h2M78.1 53h2M92.1 53h2M134.1 53h2M144.1 53h2M148.1 53h2M186.1 53h2M182.1 55h4M76.1 57h2M100.1 57h2M138.1 57h2M82.1 59h2M68.1 61h2M80.1 61h2M94.1 61h2M146.1 61h2M100.1 63h2M144.1 67h2M78.1 69h2M86.1 69h2M88.1 71h2M94.1 71h2M86.1 73h2M96.1 73h2M138.1 73h2M58.1 75h2M66.1 75h2M100.1 75h4M134.1 75h2M140.1 75h4M64.1 77h2M92.1 77h2M96.1 77h2M148.1 77h2M96.1 79h2M132.1 79h2M68.1 81h2M78.1 81h2M84.1 81h2M138.1 81h2M44.1 83h2M86.1 83h4M136.1 83h2M56.1 85h2M78.1 85h4M132.1 85h2M136.1 85h2M140.1 85h2M150.1 85h2M50.1 87h2M90.1 87h2M134.1 87h2M148.1 87h2M68.1 89h2M64.1 91h2M88.1 91h2M110.1 91h2M52.1 93h4M86.1 93h2M100.1 93h2M146.1 93h2M104.1 97h2M128.1 97h2M138.1 97h2M74.1 99h2M134.1 99h2M54.1 101h4M88.1 101h2M132.1 101h2M70.1 103h2M84.1 103h2M90.1 103h2M102.1 103h2M126.1 103h2M138.1 103h2M138.1 105h2M88.1 107h2M62.1 109h2M70.1 109h2M74.1 109h2M84.1 109h2M92.1 109h2M102.1 109h2M152.1 109h2M68.1 111h2M78.1 111h2M84.1 111h2M124.1 111h2M140.1 111h4M64.1 113h2M70.1 113h2M74.1 113h2M138.1 113h2M142.1 113h4M156.1 113h2M58.1 115h2M72.1 115h2M82.1 115h2M102.1 115h2M144.1 115h2M90.1 117h2M152.1 117h2M72.1 119h2M146.1 119h2M154.1 119h2M62.1 121h2M68.1 121h4M130.1 121h2M144.1 121h2M148.1 121h2M60.1 123h2M66.1 123h2M88.1 123h2M82.1 125h2M146.1 125h2M128.1 127h2M146.1 127h2M60.1 129h2M82.1 129h2M100.1 131h2M62.1 133h2M76.1 133h2M82.1 135h2M136.1 135h2M78.1 137h2M88.1 137h2M102.1 137h2M70.1 139h2M82.1 139h2M100.1 139h2M76.1 141h2M92.1 141h2M68.1 143h2M86.1 145h2M116.1 145h2M114.1 151h2M80.1 153h2M86.1 153h2M92.1 153h2M102.1 153h2M96.1 155h2M84.1 157h2M116.1 157h2M112.1 161h2M94.1 163h2M112.1 163h2M88.1 165h4M102.1 165h2M110.1 165h2M90.1 167h2M98.1 167h2M94.1 169h2M130.1 169h2M112.1 173h2M118.1 175h2M108.1 177h2"/>
<path stroke="#f08e1e" stroke-width="2" d="M174.1 23h2M178.1 23h2M186.1 23h2M178.1 27h2M146.1 29h2M174.1 29h2M184.1 29h2M92.1 31h2M162.1 31h2M174.1 31h2M178.1 31h2M138.1 35h2M152.1 35h2M164.1 35h2M188.1 35h1.2M74.1 37h2M146.1 39h2M154.1 39h2M174.1 39h2M146.1 41h2M148.1 43h2M166.1 43h2M100.1 45h2M144.1 45h2M76.1 47h2M152.1 47h2M170.1 47h2M76.1 49h2M150.1 49h2M74.1 53h2M94.1 53h2M140.1 55h2M148.1 55h2M180.1 55h2M186.1 55h2M144.1 57h2M180.1 57h2M72.1 59h2M76.1 59h2M108.1 59h2M148.1 59h2M128.1 61h2M188.1 61h1.2M76.1 63h4M84.1 63h2M90.1 63h2M146.1 63h2M186.1 63h2M78.1 65h2M90.1 65h2M136.1 65h2M148.1 65h2M70.1 67h2M84.1 67h2M140.1 67h2M150.1 67h2M88.1 69h2M98.1 69h2M134.1 69h2M144.1 69h2M82.1 71h2M92.1 71h2M84.1 73h2M88.1 73h2M98.1 73h2M144.1 73h2M74.1 75h2M78.1 75h2M86.1 75h2M90.1 75h2M96.1 75h2M130.1 75h2M138.1 75h2M56.1 77h2M84.1 77h2M130.1 77h2M76.1 79h2M86.1 79h2M52.1 81h2M58.1 81h2M98.1 81h2M150.1 81h2M54.1 83h4M138.1 83h2M66.1 85h2M88.1 85h2M110.1 85h2M70.1 87h2M86.1 87h2M86.1 89h2M90.1 89h2M94.1 89h2M128.1 91h2M134.1 91h2M62.1 93h4M74.1 95h2M128.1 95h2M70.1 97h2M84.1 97h2M126.1 97h2M152.1 97h2M54.1 99h2M62.1 99h2M68.1 99h4M104.1 99h2M152.1 99h2M50.1 101h2M60.1 101h2M80.1 101h2M86.1 101h2M98.1 101h2M130.1 101h2M54.1 103h2M82.1 103h2M100.1 103h2M134.1 103h2M140.1 103h2M144.1 103h2M80.1 105h2M88.1 105h2M92.1 105h2M98.1 105h2M126.1 105h2M134.1 105h2M146.1 105h2M150.1 105h2M64.1 107h2M76.1 107h2M98.1 107h2M140.1 107h2M56.1 109h2M60.1 109h2M144.1 109h2M154.1 109h2M56.1 111h2M62.1 111h2M96.1 111h2M122.1 111h2M152.1 111h2M156.1 111h2M112.1 113h2M66.1 115h2M78.1 115h2M98.1 115h4M110.1 115h2M58.1 117h2M80.1 117h4M98.1 117h4M110.1 117h2M150.1 117h2M66.1 119h2M76.1 119h2M80.1 119h2M102.1 119h2M58.1 121h2M82.1 121h4M100.1 121h2M62.1 123h2M74.1 123h2M98.1 123h2M116.1 123h2M68.1 125h2M78.1 125h2M64.1 127h2M76.1 127h6M84.1 127h4M96.1 129h2M78.1 131h2M80.1 133h6M132.1 133h2M70.1 135h2M74.1 135h2M86.1 135h2M92.1 137h2M88.1 139h2M86.1 141h2M90.1 143h2M88.1 145h2M88.1 147h4M112.1 147h2M90.1 149h2M80.1 151h4M90.1 151h2M82.1 153h2M122.1 153h2M82.1 155h2M86.1 155h2M78.1 157h2M88.1 157h6M98.1 157h2M100.1 159h2M98.1 161h2M102.1 161h2M86.1 163h2M84.1 165h4M86.1 167h2M92.1 167h2M128.1 167h2M92.1 171h2M112.1 171h2M106.1 173h2M104.1 175h2M108.1 175h2"/>
<path stroke="#b81608" stroke-width="2" d="M86.1 25h2M92.1 25h2M80.1 27h4M106.1 27h2M114.1 27h2M150.1 27h2M156.1 27h2M188.1 27h1.2M96.1 29h2M124.1 29h2M138.1 29h4M90.1 31h2M94.1 31h2M120.1 31h2M140.1 31h2M106.1 33h2M136.1 33h2M184.1 33h2M98.1 35h2M118.1 35h2M100.1 37h2M140.1 37h4M160.1 37h2M182.1 37h2M92.1 39h2M106.1 39h2M74.1 41h2M80.1 43h2M136.1 45h2M142.1 45h2M176.1 45h2M94.1 47h2M150.1 47h2M78.1 49h2M74.1 51h2M80.1 51h2M82.1 55h2M126.1 59h2M122.1 61h2M72.1 69h2M102.1 71h2M128.1 71h2M130.1 85h2M72.1 87h2M132.1 87h2M128.1 93h2M124.1 95h2M116.1 97h2M58.1 99h2M124.1 99h2M116.1 101h2M124.1 101h2M120.1 105h2M108.1 107h2M94.1 109h2M100.1 109h2M116.1 109h2M98.1 119h2M114.1 119h2M106.1 123h4M76.1 129h2M108.1 131h2M110.1 133h2M110.1 135h2M106.1 139h2M110.1 141h2M80.1 143h2M102.1 143h2M80.1 155h2M104.1 159h2M108.1 159h2M104.1 161h2M112.1 165h2"/>
<path stroke="#eb5413" stroke-width="2" d="M116.1 25h2M152.1 25h4M116.1 27h2M146.1 27h2M158.1 27h2M172.1 27h2M180.1 27h2M94.1 29h2M116.1 29h2M142.1 29h2M158.1 29h2M178.1 29h2M114.1 31h2M122.1 31h2M102.1 35h2M112.1 35h2M116.1 35h2M136.1 35h2M146.1 35h2M174.1 35h2M72.1 37h2M102.1 37h2M134.1 37h2M154.1 37h2M78.1 39h2M168.1 39h2M80.1 41h2M86.1 41h2M100.1 41h2M72.1 45h2M80.1 45h2M98.1 45h2M138.1 45h2M166.1 45h2M90.1 47h2M140.1 47h2M168.1 47h2M72.1 49h2M82.1 49h2M98.1 49h2M142.1 49h2M90.1 51h2M102.1 51h2M136.1 51h2M158.1 51h2M108.1 53h2M66.1 55h2M74.1 55h4M80.1 55h2M134.1 55h2M144.1 55h2M74.1 57h2M102.1 57h2M88.1 59h2M104.1 59h2M72.1 61h2M76.1 61h2M90.1 61h2M96.1 61h2M86.1 63h2M182.1 63h2M146.1 65h2M72.1 67h2M94.1 67h4M102.1 67h2M138.1 67h2M68.1 69h2M74.1 69h2M128.1 69h2M138.1 69h2M70.1 71h2M138.1 71h2M66.1 73h2M70.1 73h2M92.1 73h2M110.1 73h2M134.1 73h2M140.1 73h2M80.1 75h2M98.1 75h2M68.1 77h4M78.1 77h2M86.1 77h2M104.1 77h2M108.1 77h2M70.1 79h2M74.1 79h2M106.1 79h2M76.1 81h2M48.1 83h2M60.1 83h4M78.1 83h2M102.1 83h2M62.1 85h2M70.1 85h2M82.1 85h4M104.1 85h2M52.1 87h2M60.1 87h2M98.1 87h2M100.1 89h2M104.1 89h2M134.1 89h2M56.1 91h2M78.1 91h2M84.1 93h2M130.1 93h2M122.1 95h2M58.1 97h2M72.1 97h2M108.1 97h4M106.1 99h2M68.1 101h2M50.1 103h2M56.1 103h2M80.1 103h2M74.1 105h2M78.1 105h2M92.1 107h2M96.1 107h2M144.1 107h2M72.1 109h2M120.1 111h2M90.1 113h2M106.1 113h2M110.1 113h2M74.1 115h2M86.1 115h2M114.1 115h4M78.1 117h2M84.1 117h2M96.1 119h2M110.1 119h2M116.1 119h2M152.1 119h2M72.1 121h4M112.1 121h2M150.1 121h2M72.1 125h2M116.1 125h2M150.1 125h2M88.1 127h2M116.1 127h2M152.1 127h4M100.1 129h2M104.1 129h2M148.1 129h2M70.1 131h2M82.1 131h2M106.1 131h2M70.1 133h4M74.1 137h2M90.1 137h2M96.1 137h2M114.1 137h2M74.1 139h2M94.1 139h2M68.1 141h2M74.1 141h2M78.1 141h4M84.1 141h2M86.1 143h2M74.1 145h2M96.1 145h2M104.1 145h2M92.1 147h2M102.1 147h2M82.1 149h4M84.1 153h2M78.1 155h2M102.1 157h2M82.1 159h2M82.1 161h2M86.1 161h4M92.1 161h2M102.1 163h2M106.1 165h2M102.1 169h2M94.1 171h2M118.1 177h2"/>
<path stroke="#9de04f" stroke-width="2" d="M152.1 27h2M144.1 29h2M146.1 31h2M172.1 35h2M158.1 53h2M74.1 85h2M144.1 87h2M152.1 91h2M150.1 101h2M98.1 103h2M142.1 103h2M68.1 107h2M126.1 109h2M60.1 111h2M138.1 115h2M130.1 117h2M126.1 119h2M138.1 119h2M122.1 121h2M126.1 125h2M138.1 125h2M94.1 127h2M120.1 129h2M142.1 131h2M118.1 133h2M136.1 133h2M148.1 133h2M116.1 135h2M132.1 135h2M138.1 135h2M128.1 137h2M114.1 143h4M122.1 143h2M128.1 145h2M134.1 147h2M126.1 151h2M130.1 151h2M132.1 153h2M96.1 157h2M126.1 157h2M134.1 157h2M122.1 159h2M130.1 159h2M116.1 161h2M124.1 163h2M124.1 165h2M128.1 165h2M134.1 167h2M126.1 169h2M116.1 175h2M114.1 177h2M124.1 177h2"/>
<path stroke="#c6dd3d" stroke-width="2" d="M160.1 27h2M180.1 31h2M166.1 33h2M178.1 35h2M172.1 39h2M148.1 41h2M146.1 47h2M172.1 47h2M84.1 61h2M136.1 61h2M182.1 61h2M150.1 65h2M142.1 69h2M66.1 77h2M136.1 77h2M58.1 79h2M64.1 79h2M144.1 79h2M70.1 81h2M92.1 83h2M132.1 93h4M72.1 95h2M136.1 95h2M98.1 97h2M152.1 101h2M70.1 107h2M150.1 109h2M130.1 111h2M126.1 113h2M146.1 113h2M60.1 115h2M118.1 115h2M126.1 115h2M142.1 115h2M150.1 115h2M122.1 117h6M132.1 117h4M120.1 119h2M136.1 119h2M96.1 121h2M118.1 121h2M134.1 121h2M138.1 121h2M122.1 123h2M152.1 123h2M88.1 125h2M122.1 125h2M128.1 125h4M144.1 125h2M134.1 127h2M148.1 127h2M126.1 129h2M130.1 129h2M138.1 129h2M142.1 129h2M128.1 131h2M140.1 131h2M148.1 131h2M126.1 133h2M142.1 133h2M146.1 133h2M150.1 133h2M122.1 135h2M130.1 135h2M146.1 135h2M150.1 135h2M118.1 137h2M132.1 137h2M138.1 137h4M136.1 139h2M144.1 139h2M136.1 145h4M118.1 147h4M76.1 149h2M118.1 151h4M124.1 153h2M118.1 155h4M108.1 161h2M130.1 161h2M114.1 163h4M120.1 165h2M112.1 167h2M118.1 171h2M120.1 173h2M110.1 175h4M126.1 175h2M110.1 177h2M122.1 179h2"/>
<path stroke="#e3d235" stroke-width="2" d="M180.1 29h2M156.1 31h2M176.1 35h2M144.1 37h2M168.1 37h2M172.1 37h2M168.1 45h2M162.1 49h4M170.1 51h2M188.1 51h1.2M174.1 53h2M132.1 57h2M140.1 57h2M146.1 57h2M132.1 59h6M144.1 61h2M148.1 61h2M150.1 71h2M84.1 75h2M144.1 75h2M60.1 77h4M100.1 77h2M134.1 77h2M138.1 77h4M144.1 77h2M56.1 79h2M62.1 79h2M56.1 81h2M62.1 81h4M88.1 81h2M92.1 81h2M134.1 81h2M144.1 81h2M146.1 83h2M96.1 85h2M144.1 85h2M78.1 87h2M136.1 87h2M140.1 87h2M154.1 89h2M50.1 91h2M92.1 91h2M76.1 93h2M80.1 93h2M88.1 93h2M148.1 93h2M54.1 95h2M88.1 95h2M96.1 95h2M132.1 95h2M142.1 95h2M102.1 97h2M146.1 97h2M56.1 99h2M88.1 99h2M130.1 99h2M144.1 99h4M154.1 99h2M94.1 101h2M102.1 101h2M62.1 103h2M128.1 103h2M146.1 103h2M58.1 105h2M136.1 105h2M108.1 109h4M134.1 109h2M148.1 111h2M78.1 113h2M150.1 113h2M136.1 115h2M148.1 117h2M82.1 119h2M134.1 119h2M120.1 121h2M124.1 123h2M128.1 123h2M132.1 125h2M148.1 125h2M118.1 127h2M130.1 127h4M146.1 129h2M118.1 131h4M124.1 131h2M134.1 131h2M146.1 131h2M122.1 133h2M134.1 133h2M88.1 135h2M134.1 135h2M82.1 137h2M148.1 137h2M116.1 139h2M122.1 139h2M112.1 141h2M120.1 141h2M132.1 141h2M120.1 143h2M126.1 143h2M132.1 143h2M72.1 145h2M120.1 145h2M116.1 147h2M120.1 149h2M112.1 151h2M98.1 155h2M122.1 157h2M118.1 159h2M110.1 161h2M120.1 161h2M128.1 161h2M120.1 163h2M126.1 163h2M114.1 165h4M130.1 165h2M122.1 167h2M88.1 169h2M116.1 169h2M120.1 169h6M114.1 171h2M114.1 173h2M118.1 173h2M124.1 175h2M120.1 179h2"/>
<path stroke="#f0ab26" stroke-width="2" d="M188.1 29h1.2M150.1 31h2M164.1 31h2M186.1 33h2M186.1 39h2M92.1 41h2M98.1 41h2M172.1 41h2M100.1 43h2M150.1 43h2M156.1 43h2M160.1 43h2M96.1 45h2M172.1 45h2M180.1 45h2M72.1 47h2M84.1 47h2M178.1 49h2M140.1 51h2M128.1 53h2M146.1 53h2M142.1 57h2M186.1 57h2M146.1 59h2M70.1 61h2M102.1 61h2M132.1 61h2M186.1 61h2M70.1 63h2M80.1 63h2M96.1 63h2M142.1 63h2M88.1 65h2M68.1 67h2M82.1 67h2M86.1 67h2M128.1 67h2M134.1 67h2M90.1 69h2M96.1 69h2M146.1 69h2M136.1 71h2M68.1 73h2M82.1 73h2M132.1 73h2M148.1 73h2M70.1 75h2M92.1 75h2M148.1 75h2M74.1 77h2M90.1 77h2M102.1 77h2M138.1 79h2M148.1 79h4M54.1 81h2M146.1 81h2M70.1 83h2M76.1 83h2M140.1 83h2M48.1 85h2M138.1 85h2M56.1 87h2M84.1 87h2M88.1 87h2M142.1 87h2M48.1 89h2M76.1 89h2M98.1 89h2M132.1 89h2M152.1 89h2M52.1 91h2M62.1 91h2M72.1 91h4M132.1 91h2M142.1 91h2M122.1 93h2M138.1 93h2M142.1 93h2M154.1 93h2M50.1 95h4M78.1 95h4M104.1 95h2M108.1 95h2M130.1 95h2M140.1 95h2M86.1 97h2M92.1 97h2M130.1 97h4M150.1 97h2M78.1 99h2M94.1 99h2M98.1 99h4M104.1 101h2M110.1 101h2M146.1 101h2M92.1 103h2M106.1 103h2M132.1 103h2M56.1 105h2M64.1 105h2M104.1 105h2M124.1 105h2M132.1 105h2M144.1 105h2M66.1 107h2M134.1 107h4M142.1 107h2M156.1 107h2M64.1 109h2M80.1 109h2M88.1 109h2M130.1 109h2M74.1 111h2M126.1 111h2M56.1 113h2M68.1 113h2M104.1 113h2M136.1 113h2M64.1 115h2M70.1 115h2M80.1 115h2M84.1 115h2M88.1 115h2M66.1 117h2M86.1 117h2M104.1 117h2M120.1 117h2M56.1 119h4M70.1 119h2M84.1 119h2M92.1 121h2M110.1 121h2M114.1 121h2M126.1 121h2M132.1 121h2M86.1 123h2M132.1 123h6M60.1 125h2M86.1 125h2M94.1 125h2M124.1 125h2M114.1 127h2M80.1 129h2M86.1 129h2M116.1 129h2M140.1 129h2M112.1 131h4M74.1 133h2M80.1 135h2M72.1 141h2M90.1 141h2M128.1 143h2M80.1 145h2M74.1 147h2M126.1 147h2M76.1 151h2M84.1 151h2M120.1 153h2M88.1 155h2M94.1 155h2M116.1 155h2M84.1 159h4M114.1 159h4M84.1 161h2M118.1 161h2M90.1 163h2M102.1 167h2M114.1 167h2M114.1 169h2M106.1 171h2M88.1 173h2M96.1 173h2M128.1 175h2"/>
<path stroke="#d7da3a" stroke-width="2" d="M148.1 31h2M162.1 33h2M148.1 35h2M146.1 37h2M176.1 39h2M158.1 41h2M174.1 43h2M150.1 45h2M156.1 45h2M174.1 45h2M74.1 47h2M172.1 49h2M140.1 53h2M178.1 55h2M138.1 59h2M184.1 59h2M138.1 61h4M82.1 63h2M90.1 67h2M96.1 71h2M130.1 71h2M140.1 71h2M142.1 77h2M68.1 79h2M136.1 79h2M140.1 79h2M142.1 85h2M96.1 89h2M138.1 89h4M68.1 91h2M94.1 91h2M140.1 91h2M48.1 93h2M96.1 93h2M82.1 95h2M96.1 99h2M128.1 99h2M106.1 101h2M128.1 101h2M142.1 101h2M154.1 105h2M132.1 107h2M138.1 109h2M148.1 109h2M70.1 111h2M130.1 115h2M148.1 115h2M60.1 117h2M116.1 117h2M132.1 119h2M136.1 121h2M140.1 121h2M92.1 123h2M120.1 123h2M126.1 123h2M140.1 123h2M120.1 125h2M134.1 125h2M142.1 125h2M98.1 129h2M128.1 129h2M136.1 131h2M144.1 131h2M150.1 131h2M140.1 135h2M122.1 137h2M126.1 137h2M130.1 137h2M134.1 137h2M120.1 139h2M124.1 139h2M118.1 141h2M124.1 141h2M140.1 141h2M130.1 143h2M110.1 145h2M122.1 145h2M132.1 147h2M136.1 147h2M114.1 149h4M78.1 151h2M116.1 153h2M134.1 153h2M130.1 155h2M118.1 157h2M128.1 157h2M120.1 159h2M124.1 159h2M114.1 161h2M122.1 173h2M126.1 173h2M130.1 173h2M126.1 179h2"/>
<path stroke="#e8c530" stroke-width="2" d="M174.1 41h2M162.1 47h2M158.1 49h2M86.1 53h2M136.1 55h2M178.1 57h2M88.1 61h2M72.1 63h2M92.1 63h2M128.1 63h2M138.1 63h4M80.1 67h2M148.1 67h2M98.1 71h2M106.1 71h2M132.1 71h2M78.1 73h2M150.1 73h2M56.1 75h2M132.1 77h2M146.1 77h2M54.1 79h2M66.1 79h2M92.1 79h2M130.1 79h2M134.1 79h2M142.1 79h2M86.1 81h2M94.1 81h2M130.1 81h4M140.1 81h2M66.1 83h4M144.1 83h2M94.1 87h2M138.1 87h2M152.1 87h2M78.1 89h4M92.1 89h2M136.1 89h2M142.1 89h2M146.1 89h2M90.1 91h2M50.1 93h2M70.1 93h2M102.1 93h2M136.1 93h2M150.1 93h2M84.1 95h2M94.1 95h2M100.1 95h4M138.1 95h2M144.1 95h2M76.1 97h2M82.1 97h2M90.1 97h2M94.1 97h2M86.1 99h2M102.1 99h2M126.1 99h2M136.1 99h2M140.1 99h2M52.1 101h2M66.1 101h2M96.1 101h2M136.1 101h2M130.1 103h2M68.1 105h2M72.1 105h2M82.1 105h2M90.1 105h2M100.1 105h4M108.1 105h2M130.1 105h2M142.1 105h2M148.1 105h2M130.1 107h2M138.1 107h2M124.1 109h2M128.1 109h2M150.1 111h2M66.1 113h2M90.1 115h2M146.1 115h2M152.1 115h2M64.1 117h2M106.1 117h2M138.1 117h2M146.1 117h2M142.1 119h4M76.1 121h2M102.1 121h2M128.1 121h2M96.1 123h2M130.1 123h2M142.1 123h2M98.1 125h2M118.1 125h2M136.1 125h2M140.1 125h2M68.1 127h2M120.1 127h2M136.1 127h4M142.1 127h4M84.1 129h2M124.1 129h2M144.1 129h2M122.1 131h2M126.1 131h2M130.1 131h2M130.1 133h2M144.1 133h2M76.1 135h2M120.1 135h2M84.1 137h2M86.1 139h2M90.1 139h2M126.1 139h2M140.1 139h2M122.1 141h2M130.1 141h2M124.1 143h2M126.1 145h2M122.1 147h2M88.1 149h2M134.1 149h2M94.1 153h2M118.1 153h2M92.1 155h2M86.1 157h2M94.1 157h2M120.1 157h2M126.1 159h2M118.1 163h2M94.1 165h2M126.1 165h2M84.1 167h2M116.1 167h4M120.1 171h4M128.1 171h2M100.1 173h2M116.1 173h2M132.1 173h2M120.1 177h2"/>
<path stroke="#51d6a2" stroke-width="2" d="M172.1 43h2M160.1 45h2M136.1 149h2M124.1 155h2"/>
<path stroke="#86e05c" stroke-width="2" d="M164.1 45h2M142.1 61h2M146.1 75h2M150.1 91h2M152.1 95h2M148.1 101h2M132.1 109h2M128.1 115h2M128.1 117h2M108.1 119h2M140.1 119h2M128.1 133h2M114.1 135h2M126.1 135h2M142.1 135h4M146.1 137h2M134.1 141h2M136.1 143h2M124.1 145h2M130.1 147h2M126.1 149h2M130.1 149h4M132.1 151h2M128.1 153h4M96.1 159h2M124.1 161h2M132.1 161h2M130.1 163h2M116.1 171h2M114.1 175h2"/>
<path stroke="#6fe069" stroke-width="2" d="M160.1 47h2M146.1 79h2M136.1 109h2M122.1 113h2M130.1 113h4M140.1 115h2M136.1 117h2M122.1 129h2M120.1 133h2M118.1 135h2M128.1 135h2M136.1 137h2M118.1 139h2M128.1 141h2M124.1 149h2M124.1 151h2"/>
<path stroke="#b4e042" stroke-width="2" d="M136.1 57h2M148.1 57h2M142.1 59h2M150.1 59h2M150.1 61h2M152.1 75h2M60.1 79h2M148.1 85h2M104.1 91h2M142.1 97h2M148.1 97h2M150.1 99h2M144.1 101h2M68.1 103h2M148.1 103h4M126.1 107h2M132.1 111h2M144.1 111h2M58.1 113h2M62.1 113h2M124.1 113h2M122.1 115h2M132.1 115h4M140.1 117h4M118.1 119h2M124.1 119h2M130.1 119h2M118.1 123h2M138.1 123h2M114.1 125h2M140.1 127h2M118.1 129h2M132.1 129h2M136.1 129h2M116.1 131h2M132.1 131h2M116.1 133h2M140.1 133h2M148.1 135h2M116.1 137h2M142.1 137h2M68.1 139h2M128.1 139h2M118.1 143h2M118.1 145h2M132.1 145h4M124.1 147h2M128.1 147h2M122.1 151h2M114.1 155h2M122.1 155h2M128.1 159h2M134.1 161h2M128.1 163h2M122.1 165h2M126.1 167h2M124.1 171h2M122.1 175h2M132.1 175h2M122.1 177h2M128.1 177h2"/>
<path stroke="#60db85" stroke-width="2" d="M148.1 83h2M128.1 113h2M116.1 121h2M124.1 121h2M134.1 129h2M132.1 139h2M122.1 149h2M128.1 149h2M126.1 155h4"/>
<path stroke="#41d0be" stroke-width="2" d="M130.1 145h2M128.1 151h2"/>
<ellipse cx="183" cy="104" rx="2.5" ry="3" fill="#111"/>
</g>
<linearGradient id="ga" x1="0" x2="1" y1="0" y2="0"><stop offset="0.0" stop-color="#860908"/><stop offset="0.12" stop-color="#c01808"/><stop offset="0.22" stop-color="#e84010"/><stop offset="0.32" stop-color="#f07818"/><stop offset="0.42" stop-color="#f0b028"/><stop offset="0.5" stop-color="#e0d838"/><stop offset="0.56" stop-color="#b8e040"/><stop offset="0.64" stop-color="#70e068"/><stop offset="0.72" stop-color="#40d0c0"/><stop offset="0.8" stop-color="#40a0e0"/><stop offset="0.9" stop-color="#4060d0"/><stop offset="1.0" stop-color="#403088"/></linearGradient>
<rect x="34.6" y="181" width="95.6" height="5.4" fill="url(#ga)"/>
<text x="35.16 40.96 46.89 53.37 58.49 64.16 70.09 77.08 81.69 87.36 93.16 98.96 104.89 111.71" y="153.8" font-family="'Liberation Serif', serif" font-size="12.2" fill="#ecebe4" stroke="#ecebe4" stroke-width="0.3"><tspan textLength="5.68" lengthAdjust="spacingAndGlyphs">A</tspan><tspan textLength="5.68" lengthAdjust="spacingAndGlyphs">v</tspan>era<tspan textLength="5.68" lengthAdjust="spacingAndGlyphs">g</tspan>e a<tspan textLength="5.68" lengthAdjust="spacingAndGlyphs">n</tspan><tspan textLength="5.68" lengthAdjust="spacingAndGlyphs">n</tspan><tspan textLength="5.68" lengthAdjust="spacingAndGlyphs">u</tspan>al</text>
<text x="35.16 41.09 47.57 52.56 59.17 64.16 70.09 76.91 82.71 87.36 93.16" y="164.8" font-family="'Liberation Serif', serif" font-size="12.2" fill="#ecebe4" stroke="#ecebe4" stroke-width="0.3"><tspan textLength="5.68" lengthAdjust="spacingAndGlyphs">d</tspan>ef<tspan textLength="5.68" lengthAdjust="spacingAndGlyphs">o</tspan>r<tspan textLength="5.68" lengthAdjust="spacingAndGlyphs">m</tspan>ati<tspan textLength="5.68" lengthAdjust="spacingAndGlyphs">o</tspan><tspan textLength="5.68" lengthAdjust="spacingAndGlyphs">n</tspan></text>
<text x="35.97 41.09 47.91 52.69 59.17 64.16 69.96 76.91 81.56 87.49 93.29 99.77 105.57" y="176.5" font-family="'Liberation Serif', serif" font-size="12.2" fill="#ecebe4" stroke="#ecebe4" stroke-width="0.3">rate(<tspan textLength="5.68" lengthAdjust="spacingAndGlyphs">m</tspan><tspan textLength="5.68" lengthAdjust="spacingAndGlyphs">m</tspan>/<tspan textLength="5.68" lengthAdjust="spacingAndGlyphs">y</tspan>ear)</text>
<text x="35.69 39.95 44.65 49.35" y="196" font-family="'Liberation Serif', serif" font-size="11.2" fill="#ecebe4" stroke="#ecebe4" stroke-width="0.3">-<tspan textLength="4.61" lengthAdjust="spacingAndGlyphs">1</tspan><tspan textLength="4.61" lengthAdjust="spacingAndGlyphs">0</tspan><tspan textLength="4.61" lengthAdjust="spacingAndGlyphs">0</tspan></text>
<text x="116.55 121.25 125.95" y="196" font-family="'Liberation Serif', serif" font-size="11.2" fill="#ecebe4" stroke="#ecebe4" stroke-width="0.3"><tspan textLength="4.61" lengthAdjust="spacingAndGlyphs">1</tspan><tspan textLength="4.61" lengthAdjust="spacingAndGlyphs">0</tspan><tspan textLength="4.61" lengthAdjust="spacingAndGlyphs">0</tspan></text>
<clipPath id="cb"><rect x="240.2" y="24.3" width="153.8" height="175.2"/></clipPath>
<clipPath id="cbw"><path d="M250,24.3C250.2,27.1 251.0,34.6 251.3,41C251.6,47.4 251.1,55.5 251.8,62.8C252.5,70.1 253.9,77.3 255.7,84.6C257.4,91.9 260.0,99.4 262.3,106.5C264.6,113.6 266.6,120.1 269.5,127.3C272.4,134.5 275.5,142.2 279.6,149.7C283.7,157.1 288.4,164.6 294,172C299.6,179.4 308.9,189.8 313,194.4C317.1,199.0 317.6,198.7 318.5,199.5 L240.2,199.5 L240.2,24.3Z"/></clipPath>
<g clip-path="url(#cb)">
<rect x="240.2" y="24.3" width="153.8" height="175.2" fill="#fdf4f0"/>
<path stroke="#fadcd0" stroke-width="1.2" d="M253.4 65.8h1.5M264.8 153.0h1.3M319.7 99.7h1.5M389.9 76.6h1.9M285.1 176.9h1.1M326.6 94.3h1.0M266.2 193.3h1.5M388.7 148.4h1.5M348.8 33.4h1.6M296.8 127.6h1.6M321.4 60.3h1.3M354.6 190.2h1.7M302.4 140.9h1.0M384.3 46.4h1.3M302.5 70.8h1.6M322.8 174.6h1.6M260.9 133.8h1.0M270.7 129.5h1.4M243.5 140.5h1.0M247.7 94.2h1.4M340.3 32.7h1.1M286.9 69.6h1.5M352.6 76.1h1.2M357.0 111.1h1.3M387.6 97.3h1.4M379.3 113.0h1.8M351.0 77.2h0.9M253.5 163.3h0.9M385.6 161.3h1.2M352.9 134.4h1.7M248.7 44.7h1.7M292.3 98.0h1.7M298.6 31.4h1.8M365.0 131.6h1.7M247.3 47.5h1.7M348.8 85.3h0.8M280.6 187.4h0.9M325.3 183.7h1.1M351.0 34.9h1.5M248.7 65.5h1.7M374.4 112.7h1.2M262.8 55.9h1.4M240.8 162.6h0.9M246.3 193.6h1.9M287.4 155.2h1.4M249.1 178.6h1.6M249.9 28.8h1.2M265.4 108.0h1.0M240.4 98.2h1.4M367.6 183.1h1.0M318.4 113.2h1.2M287.2 39.9h1.8M384.9 138.0h2.0M313.6 116.1h1.2M382.4 42.4h1.0M332.9 112.9h0.9M339.3 61.4h1.3M339.8 129.4h1.1M261.8 140.4h1.7M285.7 176.7h1.1M283.2 160.7h1.6M264.0 104.3h1.6M341.6 84.1h1.8M365.9 137.8h1.4M246.1 90.8h1.3M327.2 124.4h0.8M263.3 107.4h1.9M313.1 67.6h1.3M298.7 142.1h0.9M286.5 104.8h1.2M373.9 174.1h1.5M373.0 65.3h1.7M309.3 46.6h1.6M244.4 78.1h1.1M343.8 149.4h1.5M260.0 79.1h2.0M321.8 179.3h1.5M292.1 152.9h1.5M322.2 117.3h1.0M300.8 191.0h1.2M354.2 129.8h1.3M297.6 145.6h1.8M306.3 58.4h1.1M254.9 99.1h1.6M248.3 27.8h1.2M352.0 29.8h1.3M368.1 132.9h0.9M247.6 71.6h1.4M331.2 199.1h1.1M273.6 151.4h1.9M346.4 195.0h1.8M331.7 33.4h1.7M376.2 39.0h1.0M393.4 36.8h0.9M380.8 47.0h1.7M348.3 112.0h1.7M309.8 77.6h1.6M245.1 24.6h1.8M386.2 122.2h2.0M339.9 82.5h0.8M262.4 96.7h1.7M333.1 82.2h1.1M343.1 50.3h1.1M309.8 136.1h1.9M375.6 44.3h0.9M308.6 180.5h1.0M252.5 47.3h0.9M294.1 59.1h1.1M358.2 25.6h1.1M263.7 192.9h1.9M304.8 76.3h1.2M255.0 68.4h0.9M285.9 100.6h1.8M376.5 140.9h1.4M364.8 191.8h1.3M286.8 49.3h1.9M306.9 68.2h1.6M342.2 176.4h0.9M347.6 73.8h1.3M370.8 167.5h1.8M369.9 43.0h1.9M295.7 126.1h1.6M260.9 149.7h1.5M381.2 98.1h1.6M260.4 156.3h1.5M242.8 168.3h1.6M379.2 28.9h0.8M366.2 128.2h1.2M325.2 173.4h0.8M270.6 69.6h1.4M385.8 104.3h0.9M369.5 115.3h1.2M287.6 76.9h1.1M363.4 180.4h1.7M369.9 24.4h1.8M374.0 46.4h0.9M368.9 59.2h2.0M245.7 104.4h1.0M268.2 122.5h1.1M254.4 42.2h1.5M286.9 178.4h0.9M253.5 121.7h0.8M287.3 77.4h1.3M387.5 140.8h1.6M368.0 105.3h1.0M302.1 195.6h0.9M390.7 47.2h1.5M270.4 87.8h1.8M362.4 140.8h1.7M246.9 67.1h2.0M247.4 36.9h0.9M385.4 92.5h0.9M388.5 66.2h2.0M252.9 166.0h0.8M386.3 34.4h1.3M267.0 43.9h1.2M281.2 113.6h1.9M293.3 145.9h0.9M270.4 157.3h1.5M273.3 102.6h1.9M379.4 87.7h1.7M318.4 114.6h1.2M336.0 190.0h1.0M322.5 140.8h2.0M258.7 181.7h2.0M389.8 106.1h1.5M281.4 37.3h1.6M249.6 125.2h1.2M299.2 60.0h1.0M267.3 75.1h1.2M359.6 124.9h1.7M378.0 195.7h1.4M350.3 68.0h1.7M280.0 94.6h1.8M343.3 117.6h1.5M342.6 121.3h1.3M273.2 185.0h1.0M340.3 146.8h0.9M320.4 86.1h1.2M242.8 148.0h0.8M252.6 32.5h2.0M385.2 139.5h1.0M357.4 104.0h0.9M338.9 139.4h1.8M240.2 103.7h1.6M248.9 163.7h1.8M385.3 59.8h1.1M260.9 121.3h1.0M346.8 139.8h1.6M303.0 143.5h1.5M254.0 75.3h0.8M263.3 176.6h1.4M365.0 46.4h1.9M255.4 39.0h1.9M386.0 137.5h1.0M275.6 131.5h1.3M341.9 150.8h1.3M386.3 148.2h1.6"/>
<path stroke="#f6c0b0" stroke-width="1.2" d="M254.7 100.2h1.4M353.7 191.8h1.6M345.2 168.0h1.7M248.5 89.0h0.9M285.8 110.6h1.8M316.4 46.3h1.4M365.3 168.0h1.1M256.3 101.8h1.6M343.0 179.3h1.0M322.8 178.7h0.9M330.7 54.8h1.9M323.0 25.9h0.9M360.8 114.8h1.0M252.2 176.1h2.0M261.1 44.5h1.9M307.2 122.8h1.1M376.6 61.5h1.0M304.0 149.2h1.7M371.3 197.5h1.1M366.4 61.0h1.4M364.4 164.8h1.9M320.2 91.5h1.8M373.7 110.7h1.7M346.5 178.6h1.1M385.4 32.3h1.2M352.0 24.8h1.3M301.9 131.8h0.8M363.7 192.2h0.9M269.8 176.2h1.6M321.8 116.3h2.0M264.1 110.6h1.2M277.4 137.3h0.9M298.0 163.9h2.0M300.2 92.5h1.3M393.9 56.6h1.4M360.8 136.4h1.4M371.4 168.3h1.5M368.5 148.1h1.5M392.7 151.7h1.0M367.3 105.3h1.8M370.9 82.5h1.4M261.2 129.0h0.8M393.7 175.0h0.9M382.1 103.0h1.7M245.3 111.1h1.4M260.5 71.7h1.5M383.7 126.7h0.8M255.2 80.4h1.7M287.8 141.4h1.8M374.3 38.0h1.9M276.9 148.9h0.8M254.7 183.5h1.2M286.5 89.0h1.3M370.6 173.1h1.1M391.4 82.9h0.9M391.0 188.1h0.9M341.6 131.3h1.2M259.5 144.5h1.2M336.3 174.9h1.8M306.7 181.7h1.0M273.6 177.6h0.9M358.1 123.9h1.0M377.0 28.8h1.2M362.2 79.1h1.7M315.5 144.1h1.5M295.2 182.1h1.9M295.5 34.3h1.3M290.3 72.5h1.5M253.3 104.6h1.9M326.4 119.8h1.2M375.1 103.1h1.6M360.3 127.4h1.6M385.2 99.7h2.0M287.2 37.8h1.0M253.3 162.6h0.9M270.3 116.6h1.4M288.2 186.2h1.7M269.6 35.1h1.6M271.5 115.5h1.5M248.8 189.9h1.0M253.2 95.8h1.8M260.6 39.5h1.4M345.5 166.4h1.3M332.8 161.3h1.2M349.9 28.5h1.1M250.7 77.9h1.0M259.5 29.6h1.0M348.2 126.1h1.4M340.4 75.6h1.6M328.6 129.8h1.8M390.9 63.9h2.0M391.4 155.6h1.0M273.8 82.8h1.9M259.4 178.6h1.9M322.7 125.1h1.7M280.9 107.9h1.3M331.9 28.6h1.1M243.0 114.3h0.8M256.5 102.7h1.9M286.9 47.0h1.0M277.9 103.5h1.1M388.4 101.1h2.0M349.9 111.0h1.1M371.6 121.9h2.0M256.4 95.4h1.0M381.2 120.8h1.5M326.8 50.4h0.9M261.5 55.9h0.9M282.2 49.3h1.4M345.7 55.1h1.3M317.8 87.9h1.9M275.5 85.3h1.2M322.8 28.0h1.2M334.0 60.3h1.6M266.6 74.7h1.5M310.3 124.5h1.1M325.9 89.9h0.8M361.2 63.3h0.8M371.6 94.0h1.1M276.1 158.4h1.7M294.6 124.7h1.5M332.6 141.5h1.0M273.7 195.9h1.8M387.0 34.8h1.5M317.3 43.9h1.9M299.4 30.2h1.1M323.2 169.9h1.1M384.2 152.7h1.9M352.1 167.0h1.9M256.1 170.3h0.9M341.4 96.8h1.0M353.6 56.0h1.7M363.2 178.1h1.1M248.9 27.6h1.4M316.1 135.3h0.8M248.9 60.2h1.8M365.0 103.1h1.6M391.7 146.6h0.9M311.5 45.8h0.8M367.6 157.2h1.5M246.6 86.9h1.3M258.4 30.8h0.8M357.5 142.4h1.6M334.8 148.8h1.4M277.7 124.5h1.9M327.3 105.2h1.6M306.4 177.6h1.4M369.9 195.5h1.2M355.6 198.2h1.9M390.0 162.5h1.5M317.4 101.8h1.2M254.3 86.3h1.6M319.8 166.8h1.8M324.0 103.6h1.5M349.7 67.9h1.2M373.3 160.5h1.9M355.0 31.0h1.3M305.1 132.6h1.9M266.8 165.8h2.0M392.5 110.7h1.0M261.8 28.0h1.7M246.2 175.8h1.9M255.7 78.7h1.0M327.9 75.8h1.4M282.3 36.2h1.3M372.0 186.5h0.8M281.1 167.5h1.8M368.0 139.3h1.3M286.6 26.8h1.2M359.2 127.3h1.8M376.0 125.9h1.1M251.9 35.4h1.0M388.5 141.8h1.2M274.4 170.8h1.0M253.9 109.1h1.0"/>
<path stroke="#fbe4da" stroke-width="1.2" d="M347.3 75.6h0.8M330.2 106.9h1.7M341.8 187.5h1.0M337.1 76.5h1.7M375.3 42.2h1.8M300.8 108.3h1.6M327.4 185.7h1.8M359.3 93.3h0.8M293.9 85.3h0.9M324.3 185.7h1.5M314.3 84.3h1.5M289.1 132.7h1.5M253.8 53.9h1.4M383.5 67.0h1.0M283.2 83.8h1.4M287.6 89.5h1.4M308.4 177.2h2.0M345.7 122.6h1.9M301.9 71.7h1.6M265.0 109.7h1.6M309.6 136.2h1.2M318.9 83.2h1.9M269.0 50.3h0.8M261.6 163.6h2.0M305.9 189.3h0.9M344.4 134.4h1.0M290.1 45.9h1.5M320.5 39.0h1.5M285.4 89.3h1.2M281.2 170.4h1.0M272.2 149.4h1.2M390.1 180.9h1.1M297.2 110.6h1.0M247.2 56.2h1.8M348.2 91.5h1.4M344.7 123.7h0.9M246.2 57.2h1.7M280.7 177.7h1.7M348.8 162.3h1.2M360.5 175.7h1.4M337.0 70.2h0.9M339.2 35.7h1.8M273.5 42.9h1.9M258.8 155.0h1.0M283.2 74.3h1.3M258.9 97.3h1.6M259.4 111.6h1.2M252.7 96.2h1.2M264.9 155.0h1.2M297.6 141.4h1.4M263.5 100.8h1.0M388.9 80.3h1.8M339.3 135.7h1.7M258.3 137.6h1.3M385.7 36.8h1.7M300.5 105.3h1.2M362.8 34.0h1.9M373.3 96.9h1.8M269.5 133.4h1.7M340.4 186.0h1.5M307.6 76.4h1.6M316.4 91.1h1.4M255.8 34.4h1.5M313.2 136.4h1.6M367.3 119.5h1.6M253.9 60.4h2.0M287.5 106.8h1.3M252.7 177.4h1.5M298.9 69.0h1.6M390.6 177.8h0.9M249.2 158.1h1.1M293.7 42.5h1.2M242.6 199.2h1.2M363.8 51.5h1.9M274.5 42.6h1.7M328.8 183.0h1.4M333.0 109.7h0.9M335.4 144.1h1.3M336.1 92.1h1.4M382.1 104.5h1.4M303.8 171.7h1.7M331.9 172.6h1.1M321.8 158.7h1.1M327.8 179.7h1.9M317.2 118.3h1.6M330.7 104.4h1.9M328.5 104.1h1.0M314.9 191.7h1.8M323.5 103.5h1.7M287.4 56.4h1.9M323.1 97.1h1.2M389.2 68.2h1.7M365.8 173.6h1.7M338.1 120.0h1.1M377.7 132.0h1.5M328.6 102.9h1.1M266.6 185.3h1.9M367.7 171.5h1.9M305.3 192.6h1.4M310.7 195.1h1.2M252.0 186.7h1.4M323.8 151.9h1.4M253.0 65.0h1.0M322.0 93.4h0.9M377.1 50.0h1.7M384.2 26.9h1.5M364.9 28.5h1.8M345.4 91.4h1.2M310.0 161.4h1.2M315.9 51.5h1.4M282.6 166.4h1.8M316.8 198.3h1.5M292.6 175.4h0.8M312.6 65.8h1.0M369.3 77.1h1.0M390.2 31.9h1.5M337.4 57.5h1.1M294.8 93.4h1.5M339.2 134.7h0.9M393.8 91.2h1.8M252.0 60.2h0.9M273.4 48.6h1.8M378.6 72.6h1.4M340.4 151.0h1.8M361.2 142.7h1.7M266.5 153.6h1.1M242.5 80.0h1.6M262.4 99.4h1.0M373.4 45.0h1.2M309.2 124.7h0.8M295.5 168.4h1.0M353.8 90.4h0.9M299.5 189.9h0.9M381.8 175.5h1.0M261.6 52.3h1.1M251.9 62.1h1.2M280.7 98.3h0.9M350.5 172.2h1.3M298.2 124.3h1.1M241.0 81.8h1.4M248.1 33.0h0.8M246.6 151.1h1.8M350.7 151.6h1.0M265.9 98.1h1.1M323.6 194.0h1.4M329.4 196.9h1.7M359.7 65.3h1.2M296.6 46.2h1.1M362.7 194.7h0.8M301.6 37.7h0.9M279.9 188.4h1.6M269.4 133.1h1.5M339.1 166.2h1.9M352.6 151.1h1.1M327.3 177.7h1.9M290.0 74.5h1.8M322.7 60.5h1.0M348.8 129.5h0.9M276.5 73.4h1.6M331.4 152.8h1.8M346.8 54.2h1.1M352.3 105.1h1.5M344.1 45.9h1.5M297.5 148.8h1.7M355.6 129.4h1.3M345.6 182.9h1.8"/>
<path stroke="#f8d0c2" stroke-width="1.2" d="M244.9 148.2h0.9M273.8 169.7h1.6M267.9 155.1h1.7M333.5 194.3h1.7M270.0 61.8h1.0M320.6 121.5h1.0M298.7 183.6h1.3M304.1 172.7h1.6M240.4 83.9h1.7M345.3 120.2h1.5M342.7 81.0h1.5M361.1 108.4h0.8M300.3 86.8h1.7M351.1 26.4h1.3M335.0 182.3h1.9M340.5 125.5h1.6M316.9 131.1h1.0M317.3 186.6h1.9M355.0 35.5h1.1M338.1 152.9h1.5M275.5 57.1h0.8M368.7 97.2h1.1M379.2 147.1h1.2M337.6 157.5h2.0M282.1 127.2h1.4M267.8 179.1h1.1M331.2 143.1h1.8M301.1 124.7h1.5M378.9 190.8h0.9M330.8 30.8h1.1M340.0 45.2h1.4M297.0 116.3h0.9M257.7 141.5h1.9M384.3 196.1h1.3M279.1 165.3h1.0M378.2 152.9h0.8M318.1 99.7h1.0M307.7 137.7h1.2M387.6 148.8h1.6M275.5 111.7h0.9M264.9 126.7h1.4M349.9 162.5h0.8M273.4 74.0h1.4M327.6 37.2h1.1M375.0 48.1h0.8M366.0 80.8h1.0M268.2 72.1h0.8M318.9 189.9h1.1M373.5 97.0h2.0M375.4 143.5h1.6M290.4 154.0h1.6M244.3 178.8h0.9M388.4 94.3h1.5M251.2 76.7h1.0M355.8 188.1h1.4M392.8 84.9h1.3M290.7 153.6h1.3M391.4 25.0h0.9M309.0 157.0h1.5M376.7 57.1h1.3M368.4 52.1h1.9M273.6 79.9h1.5M339.8 36.9h0.9M356.2 140.0h1.4M360.0 194.5h2.0M341.0 79.5h1.3M367.1 119.0h1.6M289.4 153.4h1.3M299.7 191.9h1.7M253.5 113.0h1.8M263.2 132.9h1.7M373.2 52.7h1.7M308.7 184.2h1.3M359.1 182.7h1.4M346.2 68.2h1.2M356.3 48.4h1.0M283.0 66.9h2.0M246.5 68.5h1.2M319.7 61.9h1.4M328.3 187.6h2.0M289.2 198.0h1.1M359.1 83.1h0.8M314.8 90.5h1.0M339.3 40.9h2.0M369.2 185.5h1.8M382.3 74.0h1.3M365.2 98.4h1.6M318.3 162.8h1.9M386.9 129.8h1.9M387.6 181.8h1.9M278.9 70.3h1.2M284.9 91.7h1.8M240.3 190.4h1.7M351.1 162.6h1.7M248.8 161.5h1.2M246.9 86.2h1.5M245.2 112.0h1.8M283.5 54.5h0.8M383.6 138.9h1.4M240.7 157.6h1.2M309.2 73.4h1.2M352.8 196.0h1.2M254.5 139.3h1.3M274.4 193.9h1.9M350.5 62.9h1.9M250.1 76.4h1.0M281.1 131.3h1.2M254.0 170.4h1.6M307.4 33.7h1.6M278.3 29.8h1.7M265.4 118.6h1.7M285.6 163.1h0.9M327.3 101.1h1.9M324.4 77.1h1.6M249.1 125.7h1.4M327.3 67.6h1.4M336.4 187.9h2.0M301.5 130.3h1.7M300.5 135.7h1.9M366.9 162.7h1.3M338.3 70.9h1.4M324.1 38.1h0.9M314.9 163.5h0.8M294.1 35.4h1.3M324.6 45.6h1.8M280.2 121.8h1.5M284.3 131.4h1.7M251.3 46.8h1.2M306.5 105.5h1.0M336.8 123.0h2.0M390.6 115.5h1.9M272.7 40.2h0.9M379.1 163.2h1.6M299.2 62.9h1.1M260.5 100.5h1.8M388.0 30.4h1.2M393.3 73.0h1.1M295.2 99.8h1.6M367.2 165.9h0.9M393.7 68.9h1.7M248.0 87.7h2.0M246.4 68.0h1.4M344.9 194.1h2.0M273.6 61.0h1.8M291.7 143.3h1.3M349.7 142.6h2.0M377.0 148.6h1.5M243.6 132.0h0.9M290.9 47.5h1.8M387.8 165.1h1.4M295.8 82.2h1.6M295.2 132.3h1.0M375.7 64.0h1.7M386.9 76.3h1.1M251.0 38.3h1.0M247.5 55.2h1.6M306.8 89.1h1.6M240.5 45.5h1.1M281.5 67.8h1.3M333.9 99.8h0.8M344.8 107.5h1.1"/>
<path fill="none" stroke="#f0a090" stroke-width="1.2" stroke-linecap="round" stroke-linejoin="round" opacity="0.7" d="M295,24C295.2,26.7 296.0,33.7 296,40C296.0,46.3 295.2,58.3 295,62"/>
<path fill="none" stroke="#f09080" stroke-width="1.6" stroke-linecap="round" stroke-linejoin="round" opacity="0.8" d="M343,129C343.2,130.8 343.7,136.2 344,140C344.3,143.8 344.8,150.0 345,152"/>
<path fill="none" stroke="#f4b0a0" stroke-width="1.2" stroke-linecap="round" stroke-linejoin="round" opacity="0.6" d="M365,60C365.5,65.0 366.8,78.3 368,90C369.2,101.7 370.8,118.3 372,130C373.2,141.7 374.5,155.0 375,160"/>
<path fill="none" stroke="#f4b8a8" stroke-width="1.2" stroke-linecap="round" stroke-linejoin="round" opacity="0.6" d="M350,160C350.3,163.3 351.3,173.7 352,180C352.7,186.3 353.7,195.0 354,198"/>
<path fill="none" stroke="#f6c0b0" stroke-width="1.0" stroke-linecap="round" stroke-linejoin="round" opacity="0.5" d="M262,35C263.0,40.8 266.3,59.2 268,70C269.7,80.8 271.3,95.0 272,100"/>
<path fill="none" stroke="#f4b8a8" stroke-width="0.7" stroke-linecap="round" d="M342.2 100.8q2.2 0.4 2.8 1.0M328.8 161.6q0.4 0.5 1.0 1.2M339.1 97.7q-2.8 0.1 -2.6 1.6M333.8 65.1q1.7 -0.3 2.4 1.4M313.7 126.8q-0.2 1.5 0.4 1.5M335.1 108.6q-1.7 2.9 -3.4 0.6M328.0 122.4q-2.0 -0.6 -1.9 0.7M315.4 108.5q-1.0 2.1 1.7 1.4M332.5 113.9q0.1 2.9 1.1 4.0M319.8 69.5q0.1 0.1 0.1 1.5M330.0 91.7q1.9 2.0 2.1 1.8M336.1 98.6q0.8 2.8 1.4 4.1"/>
<path fill="none" stroke="#f4b8a8" stroke-width="1.0" stroke-linecap="round" d="M301.1 77.7q1.4 0.4 0.5 2.2M320.6 114.4q1.3 4.1 -1.0 3.9M311.3 99.1q2.3 1.6 1.7 1.9M317.6 84.9q-0.7 0.3 -0.7 3.5M342.4 82.9q-0.4 1.8 -1.6 1.1M343.8 98.6q-3.3 0.4 -2.2 2.4M308.9 104.6q0.6 2.5 -0.6 3.3M330.3 152.1q-0.1 0.2 1.1 2.5M340.7 72.1q0.3 3.1 -1.3 3.9M312.6 111.3q-1.6 1.9 1.2 3.9M326.1 133.6q-0.7 1.1 -1.1 2.6M337.1 73.1q1.4 1.4 0.7 2.0M313.1 95.8q-1.5 -0.0 -1.0 1.3M323.4 163.0q0.0 0.7 2.3 3.0M326.4 150.8q-0.6 0.8 2.6 0.6M299.7 90.1q-2.7 -1.1 -4.0 1.2M340.2 94.0q-0.9 0.7 -2.3 1.6M321.3 137.2q-0.3 -0.9 -1.6 0.4M329.0 138.1q0.2 1.9 -0.2 2.5M308.5 71.9q-2.2 0.1 -4.4 0.6M316.0 125.4q-0.8 0.2 -1.6 2.2M314.4 147.5q-0.9 0.6 0.3 3.5"/>
<path fill="none" stroke="#f0a090" stroke-width="0.8" stroke-linecap="round" d="M313.6 127.2q-0.4 2.1 -0.7 2.0M316.5 78.5q0.4 0.6 -1.4 2.1M314.4 138.1q-2.4 -1.7 -3.3 1.6M320.5 122.2q-0.1 1.2 0.5 1.9M320.1 106.9q0.4 -0.7 -0.7 3.0M327.2 147.0q0.7 2.2 -4.1 1.3M325.1 121.7q2.6 1.0 1.1 2.3M314.3 146.9q1.7 1.6 -1.0 3.8M321.7 131.0q-0.6 0.5 -1.6 1.3"/>
<path fill="none" stroke="#d84838" stroke-width="0.5" stroke-linecap="round" d="M317.6 139.1q-3.7 -1.5 -3.6 0.5M298.1 85.0q2.2 0.9 1.1 2.5M307.5 78.6q-1.3 0.2 0.6 2.8M316.8 142.3q-0.0 -1.5 -0.5 3.8M328.2 73.1q-0.6 2.7 0.8 3.1M320.1 65.2q0.9 0.5 -0.9 1.4M342.8 80.8q0.9 2.5 1.7 2.3M322.5 92.7q0.1 0.4 1.2 1.2M316.7 114.0q1.5 0.4 1.7 1.1M328.4 142.6q-0.7 0.7 -2.2 2.3"/>
<path fill="none" stroke="#c02020" stroke-width="0.9" stroke-linecap="round" d="M312.5 113.8q0.6 0.1 1.6 2.4M327.0 104.8q-0.9 1.5 -1.6 1.2M331.0 150.7q-1.5 0.4 -2.5 2.2M324.1 123.0q-0.2 2.1 -1.1 2.0M319.7 89.2q-0.5 2.1 -0.5 2.5M321.4 143.8q-2.5 2.3 -2.3 2.6M301.8 91.6q-3.1 0.3 -3.9 1.7M317.6 108.4q4.8 0.3 2.9 1.9M314.2 93.8q-6.6 0.8 -4.4 0.4M333.7 71.7q-0.3 1.2 -0.5 4.2M317.8 160.0q0.4 1.1 2.5 2.3M332.2 107.1q0.1 0.8 -2.3 1.3M315.8 115.0q-1.7 0.3 -1.9 0.9M320.5 151.7q0.6 1.6 2.8 2.1M311.3 82.0q-0.3 0.4 1.0 1.3M310.7 95.8q2.2 -0.3 2.7 2.2"/>
<path fill="none" stroke="#f4b8a8" stroke-width="0.6" stroke-linecap="round" d="M320.6 121.1q1.2 1.3 -0.7 1.6M316.6 131.4q-1.6 0.3 -2.5 1.5M294.1 79.3q-1.6 0.8 -0.9 2.6M319.5 103.1q-1.2 0.2 2.2 3.5M322.1 135.7q-2.2 -0.9 -2.3 0.3M320.7 88.5q0.9 -0.2 2.7 0.2M327.8 145.4q0.3 2.3 1.4 3.3M311.9 149.7q0.7 0.8 2.0 2.1M297.4 93.3q-2.3 0.6 -2.6 1.2M315.9 103.0q0.7 1.2 1.4 2.3M328.8 64.9q-2.1 5.7 -1.9 3.7M294.8 82.9q1.4 0.7 2.9 2.1"/>
<path fill="none" stroke="#c02020" stroke-width="1.0" stroke-linecap="round" d="M332.9 92.3q-0.2 4.0 -1.1 3.3M343.7 104.3q0.5 -0.2 1.4 1.0M320.5 148.7q-0.9 0.5 0.0 3.9M322.0 107.7q-2.5 -0.2 -3.2 1.0M331.9 101.1q-0.5 2.0 -1.1 3.0M318.7 66.2q0.6 1.4 0.3 2.5M332.5 140.8q-0.4 4.3 2.2 3.3M318.2 88.3q1.9 2.3 0.9 4.1M330.1 164.9q1.1 0.5 0.8 3.0M327.7 153.3q-0.1 2.1 0.4 4.0M336.6 97.1q0.7 3.3 -0.2 4.1M342.7 92.6q-0.9 -0.4 -2.3 0.1M311.2 78.4q-1.7 1.8 -3.7 1.2M320.1 135.7q1.8 -0.1 1.6 0.1"/>
<path fill="none" stroke="#e87060" stroke-width="0.7" stroke-linecap="round" d="M299.1 76.5q-0.9 3.2 2.5 1.5M318.1 97.2q-0.1 1.7 -0.6 4.1M314.0 120.1q1.3 1.5 1.5 3.1M328.2 140.1q0.7 0.8 0.4 1.7M330.0 145.3q-2.1 -0.9 -2.2 1.3M323.4 155.0q-0.1 0.5 -2.6 1.1M330.1 136.0q2.8 1.2 3.4 0.3M320.9 143.3q2.0 3.0 1.7 2.4M324.3 156.5q-3.4 0.2 -2.3 1.2M324.7 72.3q-0.1 0.6 0.4 3.0M313.1 137.4q-1.8 0.9 -3.3 2.4M309.0 68.1q-0.6 0.6 -2.1 1.3M340.5 93.8q-0.6 -1.8 -3.0 1.9M313.0 84.4q-0.0 0.5 -1.7 1.5M312.3 153.7q-0.0 1.0 -0.6 1.8M323.0 92.9q0.6 1.4 1.4 1.8M320.3 72.5q-0.9 3.0 -0.5 2.8M328.6 148.7q-1.1 2.9 -0.0 3.9M313.5 66.6q-1.0 2.2 -3.6 1.2M336.9 102.4q-2.5 -0.4 -3.7 0.4"/>
<path fill="none" stroke="#f0a090" stroke-width="1.1" stroke-linecap="round" d="M308.7 90.9q-1.1 1.4 -0.8 2.1M345.1 80.8q-0.7 -0.2 1.0 3.8M344.1 88.3q-0.0 0.6 -1.5 1.1"/>
<path fill="none" stroke="#d84838" stroke-width="0.6" stroke-linecap="round" d="M316.1 159.2q-1.2 1.8 0.6 3.3M332.3 104.8q2.7 -0.5 3.2 3.2M316.9 148.4q-1.0 -0.5 -2.4 1.3M322.6 72.5q2.2 1.2 2.4 2.9M343.3 101.0q-0.3 1.0 0.8 3.1M320.7 99.0q-0.5 -0.8 -2.8 0.2M332.2 84.0q0.8 -0.4 3.1 0.7M312.1 132.4q-2.0 1.7 -2.0 1.6M307.9 82.8q0.6 1.0 1.4 1.0M344.3 95.6q0.4 2.0 -2.8 2.3M309.2 93.5q-0.4 2.5 -2.5 1.0M309.2 119.3q0.8 0.1 3.1 0.3M334.1 81.8q-0.7 0.2 -2.8 2.2M342.0 91.0q-1.0 1.0 -1.8 2.4M301.4 85.8q-0.6 3.0 1.5 4.0M310.3 123.5q-0.7 1.4 -1.4 3.6"/>
<path fill="none" stroke="#e87060" stroke-width="0.8" stroke-linecap="round" d="M328.3 65.8q-0.6 1.5 0.7 1.9M322.9 131.0q1.3 1.8 1.7 2.4M317.3 100.0q-0.3 0.7 -2.2 0.0M301.4 82.8q0.2 2.6 1.3 2.3M309.0 111.2q-0.1 0.5 2.5 1.3M338.3 83.0q-0.2 1.4 -0.4 1.7M341.9 67.1q-1.1 3.1 2.6 2.3M312.9 142.1q-0.9 0.8 -1.2 2.9M311.9 81.8q-0.2 1.3 -1.4 1.7M304.4 75.1q-4.8 0.3 -3.8 0.5M319.9 99.5q-1.7 0.3 -1.4 2.2M295.1 82.4q4.4 0.8 1.6 4.1M315.8 139.6q1.6 1.0 2.9 2.0M307.2 105.2q0.4 -0.0 1.6 0.3M337.1 114.8q1.9 -0.1 2.3 0.2M306.7 78.9q-5.6 -0.2 -4.0 0.7M310.6 126.7q-0.2 2.0 -0.4 2.1"/>
<path fill="none" stroke="#d84838" stroke-width="0.8" stroke-linecap="round" d="M331.9 135.3q-0.9 0.7 -2.4 1.0M299.2 82.9q-1.2 1.7 -2.6 0.0M314.5 121.8q-0.5 2.4 0.6 2.8M334.4 111.1q0.2 -0.2 1.8 0.4M320.0 164.5q0.5 0.3 2.4 0.7M325.3 76.6q-0.6 2.1 1.1 3.5M324.5 156.2q-1.7 1.5 -2.1 3.2M338.3 77.1q1.4 0.3 1.9 1.2M341.5 91.1q-1.9 1.1 -1.4 3.4M336.0 88.9q-0.6 0.0 -3.3 0.7M327.1 91.0q0.6 2.6 -2.5 3.4M304.6 78.5q0.7 1.5 2.4 0.2M305.9 98.2q0.5 0.6 0.5 2.1M316.1 104.1q0.5 1.1 1.7 3.2"/>
<path fill="none" stroke="#e87060" stroke-width="0.9" stroke-linecap="round" d="M333.4 164.4q0.5 2.8 0.9 3.7M318.4 156.9q0.9 1.0 2.3 0.3M316.2 109.6q-1.6 3.2 -2.5 2.7M337.3 115.3q2.8 0.4 2.7 1.3M331.6 77.4q-0.0 0.1 -0.6 3.8M331.3 129.2q-1.1 -0.0 -0.3 2.2M311.9 152.0q0.5 0.8 0.5 1.7M325.4 131.9q0.2 -0.4 -3.4 1.0M318.8 68.6q-0.5 0.5 -2.9 0.8M328.6 97.1q-1.3 2.5 1.7 4.1M314.1 111.5q1.1 -0.2 0.8 1.6M343.7 91.8q-1.0 1.1 -0.0 2.0M318.6 80.9q-0.7 2.1 -1.2 1.7M312.2 141.5q0.6 0.4 2.1 0.5M335.0 80.0q-1.5 1.0 -2.5 2.3M321.1 109.5q-0.1 3.2 -2.1 2.7M318.5 121.0q-4.3 0.2 -4.3 0.3"/>
<path fill="none" stroke="#d84838" stroke-width="1.0" stroke-linecap="round" d="M320.8 68.6q-0.1 1.3 0.1 2.2M337.5 67.8q-0.9 -0.2 -3.0 2.5M327.7 140.8q-1.6 1.1 -0.5 4.1M332.4 113.2q1.2 1.3 3.3 1.2M330.1 103.0q-0.3 0.8 0.4 1.9M309.0 69.3q-3.7 2.8 -3.3 0.1M322.1 61.1q-0.9 0.8 -1.2 1.1M311.8 120.8q0.0 1.2 1.7 1.7M320.8 81.5q-0.3 -0.1 1.0 3.8M327.8 114.2q-0.8 -0.5 0.1 2.7M320.8 119.2q1.7 1.2 -1.4 2.3M301.6 91.5q-0.8 2.2 -1.0 3.7M331.2 101.9q-0.4 0.9 0.0 4.2M325.2 62.3q0.4 -0.5 1.5 0.5M333.0 146.2q-1.1 0.8 -1.2 1.3M328.1 155.9q-0.3 1.9 0.1 2.7"/>
<path fill="none" stroke="#f0a090" stroke-width="0.6" stroke-linecap="round" d="M331.1 136.4q1.7 1.6 3.7 0.9M340.6 107.9q0.4 1.1 3.0 0.3M320.0 129.6q-0.7 -1.5 -3.2 1.1M328.3 62.1q1.1 0.0 1.8 0.6M327.3 160.7q0.7 2.3 1.8 1.9M341.2 109.7q-1.5 1.7 -3.1 2.8M308.4 67.0q-0.4 1.2 -3.0 1.2M333.2 101.1q0.0 1.0 0.2 2.0M306.9 88.8q2.2 -0.5 3.0 1.5M316.9 79.4q-0.6 1.1 -0.2 2.0M324.2 111.4q-1.6 -0.6 -1.5 1.0M315.7 89.5q3.2 1.4 2.0 3.1M324.2 163.1q0.5 0.8 -0.5 2.0M319.7 99.1q0.9 1.7 2.0 2.4M335.3 73.9q0.2 3.0 -3.4 2.6M344.1 78.8q-2.3 -1.7 -4.1 0.2"/>
<path fill="none" stroke="#f0a090" stroke-width="1.0" stroke-linecap="round" d="M332.4 108.2q0.7 0.7 1.6 0.3M321.8 126.7q1.2 1.7 0.1 2.5M310.6 80.5q3.6 1.1 3.1 0.8M314.8 127.7q2.1 0.8 3.3 0.0M314.7 99.1q0.6 -1.1 2.3 0.4M312.0 91.9q-0.6 0.8 -0.0 2.5M331.4 97.6q0.0 1.3 2.5 3.0M320.4 65.2q0.3 0.9 1.9 1.9M313.4 145.5q1.1 -0.4 0.5 2.0M319.2 94.4q2.4 1.5 -1.6 3.4M293.7 81.6q-1.9 1.0 -1.8 1.2M332.7 164.3q1.7 0.3 4.5 0.4M338.6 67.9q1.4 0.3 1.6 1.0"/>
<path fill="none" stroke="#f0a090" stroke-width="0.9" stroke-linecap="round" d="M293.5 74.5q-1.7 2.4 1.7 3.5M300.9 77.4q-0.4 0.0 -1.9 2.1M310.8 109.0q0.4 1.3 -1.8 3.4M318.3 91.2q-1.5 -0.5 -2.8 0.6M331.9 150.4q-2.4 3.2 -0.3 3.9M321.1 117.7q-0.3 0.2 1.9 1.1M336.1 94.8q1.3 2.2 1.0 2.7M326.1 94.9q-0.8 0.3 -2.3 1.8M301.0 101.8q3.8 2.2 3.6 2.6M333.2 121.1q-1.6 0.5 -1.2 1.7M324.8 93.1q-1.9 1.2 -1.8 1.0M302.6 77.2q0.6 -0.6 2.6 1.4"/>
<path fill="none" stroke="#f4b8a8" stroke-width="1.1" stroke-linecap="round" d="M323.5 124.7q-1.3 1.1 -0.4 2.5M331.9 117.6q-3.1 -0.0 -4.1 1.3M329.0 96.1q-0.3 -0.6 -2.9 1.0M342.4 80.8q-1.8 5.0 -3.0 2.1M318.8 68.4q-1.7 0.1 -2.5 2.5M330.6 151.5q2.0 2.4 4.2 1.5"/>
<path fill="none" stroke="#f4b8a8" stroke-width="0.8" stroke-linecap="round" d="M317.7 81.4q-1.9 -0.1 -2.5 0.0M338.4 105.2q1.1 1.0 3.0 0.6M312.9 95.1q2.4 -0.3 3.8 0.7M303.8 75.4q-0.7 1.2 -1.4 2.5M323.7 77.2q-2.8 -1.1 -4.4 0.3M312.9 118.6q0.1 0.3 1.1 1.2M328.3 129.1q-0.3 1.2 -0.0 2.8M324.4 75.9q1.0 -0.0 1.7 1.6M334.9 158.7q0.1 0.5 -1.5 2.7M326.5 109.9q-0.0 1.6 2.8 3.6M330.1 109.4q0.6 0.1 2.3 1.7M325.4 95.1q-0.3 0.5 3.5 2.4M320.1 109.0q-1.8 3.0 -1.1 4.0M304.5 94.3q2.0 1.4 1.8 1.1M324.8 128.7q-2.4 -1.4 -3.7 2.3"/>
<path fill="none" stroke="#f0a090" stroke-width="0.7" stroke-linecap="round" d="M331.2 152.9q-0.6 0.9 -0.3 2.3M317.8 140.9q-0.6 0.4 -1.4 1.0M321.0 61.2q-2.4 1.9 -2.5 1.9M319.2 59.5q1.0 -0.3 1.6 2.7M323.9 108.0q-2.2 0.9 0.4 2.6M302.7 96.7q-3.4 1.4 -1.7 2.3M326.4 72.0q1.5 0.4 2.4 1.3M313.5 142.4q-0.0 1.0 1.1 2.5M300.4 97.3q-2.7 0.0 -2.5 1.5M310.8 137.9q0.2 0.4 -0.4 1.8M307.0 89.5q2.6 2.4 -1.0 3.7M319.3 87.9q0.1 -0.8 -3.3 0.8M307.9 106.2q0.7 -0.8 2.4 0.6M312.9 119.4q0.8 0.4 -4.0 1.3M308.9 86.1q-0.8 -2.2 -3.8 0.2M329.2 62.3q0.6 0.4 2.2 1.7M339.1 97.0q-0.2 1.5 -3.9 1.8M318.3 129.9q-1.9 2.0 -1.8 1.9M330.9 90.4q0.1 2.7 -1.5 2.8"/>
<path fill="none" stroke="#d84838" stroke-width="0.9" stroke-linecap="round" d="M314.7 153.4q2.2 -0.4 1.0 2.9M317.8 138.1q-0.3 2.4 -2.4 0.7M334.8 82.0q-0.4 0.2 -2.1 1.0M341.4 73.9q1.3 3.0 2.9 2.8M327.2 168.0q0.7 2.1 0.6 3.1M293.7 73.8q-0.3 0.7 -2.5 1.4M329.8 84.9q-1.5 2.2 -1.6 3.1M321.7 85.9q-0.7 -0.1 -0.9 3.5M326.5 152.8q0.7 2.4 -0.0 2.9M342.7 102.8q0.5 1.6 -0.4 3.9M313.7 137.4q0.3 -0.9 2.4 1.2M317.9 149.7q0.5 1.2 0.2 2.3M324.9 134.9q-0.8 2.5 -1.9 1.5"/>
<path fill="none" stroke="#d84838" stroke-width="0.7" stroke-linecap="round" d="M339.1 87.4q3.0 0.0 2.8 0.6M331.7 92.6q1.3 -0.4 2.2 0.4M325.5 129.6q1.4 2.0 2.5 1.2M316.8 64.1q-1.6 -0.4 -2.7 1.6M316.8 117.1q0.9 0.8 -0.7 2.9M323.6 159.3q-0.9 2.6 -2.6 1.9M331.9 164.9q-1.3 1.6 -1.0 2.1M325.1 130.0q2.7 -0.1 2.7 0.8M331.5 90.8q0.4 0.7 1.6 0.2M321.8 142.2q-1.3 0.2 -1.7 0.6M338.8 74.4q0.8 -1.1 3.6 1.0M314.0 111.0q-0.4 -0.2 3.0 2.5M330.7 75.3q0.4 1.2 4.1 1.3M304.9 104.8q1.7 -0.5 3.7 0.7M311.7 115.9q-1.0 1.8 -1.3 2.4M316.0 104.1q0.6 1.2 -0.2 1.7M321.4 87.8q1.0 3.0 -2.4 1.9"/>
<path fill="none" stroke="#c02020" stroke-width="0.7" stroke-linecap="round" d="M339.4 74.0q0.4 -0.7 -1.7 2.8M314.1 69.8q-1.1 1.2 -0.4 1.7M328.8 100.5q1.2 -0.3 1.2 3.5M324.1 161.9q2.2 0.8 2.1 2.2M317.4 78.2q-0.9 1.1 -0.0 2.7M333.5 75.2q1.6 -0.1 2.7 0.6M322.2 80.3q0.1 0.3 -1.9 3.6M304.7 95.1q-0.3 -0.2 0.8 2.4M307.6 107.3q1.3 3.4 1.8 3.1M324.8 108.5q1.7 1.1 3.7 0.1M308.4 79.6q0.6 -1.6 1.9 3.6M315.1 90.5q-0.7 0.3 -1.8 1.4M330.2 62.4q-0.2 1.1 0.0 1.9M331.2 88.5q1.3 -0.3 1.9 1.5"/>
<path fill="none" stroke="#e87060" stroke-width="1.0" stroke-linecap="round" d="M305.9 112.2q2.8 2.5 1.8 2.9M307.9 111.4q-0.1 1.1 0.1 3.9M334.4 79.4q0.4 -1.1 3.2 1.0M329.4 163.5q0.1 1.5 -0.4 2.5M332.7 124.3q2.8 0.9 2.9 0.6M331.0 138.0q0.4 2.9 1.4 3.6M301.8 72.5q-0.0 1.0 -1.1 1.2M313.2 148.0q0.7 1.1 1.2 1.1M311.0 88.1q0.5 -2.0 4.3 0.9M323.6 98.3q0.5 4.2 1.9 3.4M329.6 98.7q-0.1 3.0 -3.1 1.8M323.8 124.2q0.8 0.2 1.7 0.0"/>
<path fill="none" stroke="#e87060" stroke-width="0.6" stroke-linecap="round" d="M309.7 104.7q-0.3 1.3 -1.6 1.2M309.3 102.4q1.0 1.0 2.8 2.5M342.6 78.0q-1.7 1.1 -4.4 0.2M311.4 92.2q0.5 -0.3 2.6 2.4M320.0 133.3q0.1 0.9 -2.2 3.2M308.5 74.9q1.9 1.2 2.6 1.9M311.2 140.0q2.5 3.8 0.7 3.4M311.2 121.7q-0.4 2.8 0.5 3.5M324.7 105.7q0.7 -0.3 0.6 3.1M318.8 152.1q0.4 1.9 -0.2 4.2M314.7 155.9q0.3 2.8 -0.3 2.5M318.1 100.1q0.6 -0.4 1.3 0.8M318.3 132.2q3.7 -3.3 2.5 3.6M320.0 142.2q3.6 -3.4 4.1 0.7"/>
<path fill="none" stroke="#f0a090" stroke-width="0.5" stroke-linecap="round" d="M343.8 81.1q2.5 1.8 3.6 1.1M340.3 88.4q-1.6 1.6 -3.7 0.7M331.2 105.8q-0.4 1.5 -2.5 1.2M320.4 159.2q0.1 -1.0 1.6 0.6M312.2 124.1q-1.4 1.3 -1.2 3.2"/>
<path fill="none" stroke="#c02020" stroke-width="0.6" stroke-linecap="round" d="M323.1 91.7q0.7 2.5 0.3 2.9M320.5 156.3q2.3 -1.7 3.9 0.7M336.6 116.9q1.6 2.1 0.2 3.4M337.0 65.8q2.2 -0.0 1.9 1.3M336.6 77.2q0.9 4.5 0.4 3.2M326.8 70.1q-1.6 0.0 -2.5 2.6M292.9 80.5q-2.1 3.3 -1.3 3.8M309.5 102.4q-3.7 -0.4 -3.1 2.1M340.2 95.5q1.7 2.4 1.8 2.2M342.5 94.1q-1.9 1.3 -2.3 0.8M344.5 77.1q0.5 2.1 1.8 2.8"/>
<path fill="none" stroke="#c02020" stroke-width="0.5" stroke-linecap="round" d="M295.0 79.8q0.7 0.9 1.7 2.6M322.3 77.1q0.5 2.5 0.4 3.2M321.6 141.5q-0.5 3.2 0.5 3.9M320.5 107.1q1.4 0.9 2.3 1.9"/>
<path fill="none" stroke="#c02020" stroke-width="0.8" stroke-linecap="round" d="M321.9 76.1q2.3 -1.0 2.1 1.1M318.1 159.4q-2.0 1.1 -0.9 4.1M304.1 75.2q-0.3 1.7 3.6 1.9M311.9 81.6q0.0 1.6 1.6 2.6M302.7 90.2q3.2 0.7 2.9 0.7M344.5 71.3q-0.1 1.1 -0.6 2.0M311.0 81.1q-0.2 1.2 -0.6 2.2M323.0 119.1q0.1 1.2 -0.7 1.9M322.2 68.1q0.4 0.9 0.2 3.4M319.0 89.7q0.8 0.5 2.1 1.0M297.6 80.1q2.2 -0.7 3.2 2.3M345.2 85.3q0.1 0.5 -0.7 1.6M310.7 129.4q0.4 1.6 1.3 2.3M312.6 140.0q1.9 1.8 1.0 3.3M321.7 59.8q0.8 0.1 1.2 2.7M307.7 95.3q-2.1 1.7 -1.0 2.8"/>
<path fill="none" stroke="#c02020" stroke-width="1.1" stroke-linecap="round" d="M313.8 132.1q0.2 -0.2 2.8 2.3M311.0 104.4q-4.2 -1.8 -3.7 0.5M335.6 100.5q-0.4 0.1 -0.3 1.7"/>
<path fill="none" stroke="#d84838" stroke-width="1.1" stroke-linecap="round" d="M294.6 72.1q1.9 0.7 1.9 3.7M310.7 133.6q-1.5 1.6 -1.5 2.5M329.8 127.7q-1.4 -1.0 -1.7 0.0M310.0 100.0q0.5 1.1 -0.3 1.8M295.2 81.3q1.0 2.4 -0.5 2.9M317.7 151.1q-1.0 -0.2 0.0 4.1"/>
<path fill="none" stroke="#f4b8a8" stroke-width="0.5" stroke-linecap="round" d="M326.0 73.0q0.7 1.0 0.9 1.7M320.0 68.0q0.5 -1.1 3.0 0.3M332.6 65.4q-0.1 -0.1 -1.6 1.8M301.5 70.2q0.4 2.6 0.6 2.5M327.2 75.1q2.0 4.5 2.0 3.9M342.7 93.4q-3.3 1.5 -2.7 3.0"/>
<path fill="none" stroke="#e87060" stroke-width="0.5" stroke-linecap="round" d="M323.9 108.0q1.6 1.6 2.7 0.5M324.6 163.5q0.7 1.2 -0.9 1.9M327.7 77.8q0.6 0.8 1.9 1.8"/>
<path fill="none" stroke="#e87060" stroke-width="1.1" stroke-linecap="round" d="M303.7 71.9q1.7 3.9 1.4 3.6M326.8 83.9q1.0 1.9 1.3 2.7M312.5 76.7q-0.3 0.5 0.1 1.6M325.3 69.6q2.1 1.2 2.4 3.1M318.8 142.2q1.4 2.5 1.6 3.9M311.5 131.2q-0.3 1.1 0.7 3.5M319.3 71.6q0.2 2.3 -0.7 4.4M306.5 71.9q1.8 0.3 2.4 0.1M330.7 113.5q2.4 1.2 3.1 0.6M318.3 118.4q-1.8 1.8 -1.4 1.2M317.2 87.7q-0.7 1.2 -1.1 1.7"/>
<path fill="none" stroke="#f4b8a8" stroke-width="0.9" stroke-linecap="round" d="M340.3 97.4q-1.8 1.3 -2.4 1.1M320.7 122.4q5.7 0.4 1.7 4.1M321.3 135.8q1.8 2.4 -1.7 3.2M335.7 163.8q1.1 1.1 1.7 0.9M343.2 89.2q1.6 1.2 3.0 1.1M337.8 81.3q0.9 0.8 -0.5 3.0"/>
<path stroke="#f0a090" stroke-width="1.2" d="M381.8 45.0h2.0M373.6 69.6h2.2M373.5 37.8h2.0M363.2 63.0h1.2M368.0 37.6h1.1M373.5 53.9h1.8M331.1 60.7h1.6M314.6 39.7h1.2M353.0 37.1h1.3M319.9 59.1h1.4M342.2 66.6h1.4M311.1 55.9h1.3M381.2 52.1h1.2M366.2 49.6h2.4M325.1 41.1h2.1M391.7 45.4h2.0M374.4 68.9h1.9M307.5 61.2h1.3M393.5 66.5h1.2M309.6 43.2h2.0M359.1 52.7h2.1M349.1 65.6h2.4M366.0 56.8h1.0M365.8 61.0h2.4M311.9 69.9h1.8M310.3 44.6h2.2M331.6 43.9h1.3M322.1 63.0h1.5M344.4 67.0h2.0M313.1 65.6h2.2M323.1 38.3h1.8M323.4 59.2h1.4M373.4 37.5h1.2M316.2 58.8h1.3M346.8 54.3h1.6M329.9 57.4h1.1M323.6 44.6h0.8M338.4 48.3h0.9M313.8 68.1h1.9M317.5 43.0h2.2M367.7 51.5h2.2M388.9 39.0h1.7M320.3 47.3h2.2M391.7 42.6h1.6M331.9 67.6h1.2M314.9 37.8h0.9M345.0 58.3h0.8M320.5 46.2h1.2"/>
<path stroke="#f4b8a8" stroke-width="1.2" d="M367.3 67.0h2.2M386.8 38.1h1.8M356.9 55.0h2.1M332.2 58.4h1.5M361.5 52.0h1.9M303.7 62.4h2.2M336.9 52.5h1.7M353.1 60.0h2.0M352.0 57.7h2.0M376.1 51.6h1.1M312.8 49.8h1.7M364.7 49.2h2.1M312.4 46.3h2.1M368.3 51.3h2.4M387.3 35.8h2.3M309.9 45.0h1.3M318.4 49.6h1.9M309.6 36.0h1.4M392.0 42.4h1.2M317.5 53.6h1.6M331.1 37.5h2.3M344.2 63.3h1.0M353.4 38.9h2.0M339.9 53.7h1.4M365.4 59.0h1.6M360.2 45.0h1.2M304.3 45.6h1.5M358.1 36.3h2.1M362.1 44.5h2.2M310.5 42.2h1.0M391.0 38.9h2.1M382.6 42.3h1.9M325.2 60.7h1.3M301.4 55.4h1.6M342.4 42.4h1.4M353.6 35.9h1.5M344.5 52.1h1.3M387.5 56.2h1.1M332.0 41.4h1.3M321.4 44.9h1.8M346.2 47.6h1.6M309.9 57.8h1.4M323.4 44.0h1.3"/>
<path stroke="#d84838" stroke-width="1.2" d="M386.3 35.9h1.6M392.4 62.5h1.9M385.8 59.8h1.7M321.3 48.2h1.8M330.2 41.6h1.8M358.6 52.9h1.7M312.1 60.6h2.1M301.4 41.8h1.1M354.7 54.6h1.3M346.1 69.2h1.0M389.6 52.5h2.2M338.6 68.1h2.2M330.4 57.6h2.1M310.5 66.7h1.0M348.0 48.6h2.3M339.3 54.8h2.0M380.0 50.9h2.1M324.8 62.0h1.6M304.9 40.2h1.3M327.1 66.2h2.1M361.9 41.6h1.8M390.0 50.9h0.9M375.5 58.2h1.0M357.4 37.6h2.3M305.6 48.6h1.1M347.3 59.9h1.4M379.9 63.9h1.9M314.6 40.0h2.0M355.8 37.2h1.2M317.0 67.9h2.3M316.9 66.3h2.4M305.8 50.5h1.9M303.8 52.2h1.5M321.8 60.5h1.2M378.2 42.7h2.1M304.9 39.8h1.9M374.0 39.2h1.4M337.2 60.8h1.4M357.9 48.7h2.1M315.6 39.1h1.9M363.5 56.8h1.9M367.6 65.3h2.0M334.1 48.5h2.0M325.0 63.7h0.8M364.4 43.5h2.0M380.3 66.5h1.9M301.9 48.1h1.7M377.7 63.1h1.9M393.1 48.4h0.9M312.4 64.0h1.4M373.0 57.9h1.1M324.1 62.6h1.6M337.5 65.9h1.4M356.1 44.8h0.9M338.2 51.7h1.1M374.8 39.9h0.8M361.8 58.7h1.5"/>
<path stroke="#e87060" stroke-width="1.2" d="M306.1 35.2h2.1M328.1 60.9h1.2M344.9 62.8h1.1M305.9 39.4h1.0M355.9 44.4h2.0M355.7 57.3h2.0M301.4 48.2h0.9M311.8 66.7h2.1M329.3 42.6h1.6M357.2 63.8h1.4M311.7 49.8h1.8M331.3 49.0h1.9M350.6 67.6h1.3M324.9 62.9h1.2M348.0 58.6h2.1M347.7 56.9h2.1M371.7 50.7h2.1M322.4 47.2h1.0M350.1 50.3h1.7M387.8 39.3h0.9M347.4 41.9h1.7M342.9 53.2h1.1M328.5 61.2h1.7M338.5 50.9h1.6M352.5 66.6h0.8M348.1 38.9h2.0M345.6 38.2h1.2M319.2 54.6h2.2M316.8 44.7h1.3M378.9 35.0h1.3M341.7 64.8h2.0M386.5 38.2h1.5M329.5 65.2h0.9M306.9 45.1h1.1M369.2 37.1h2.1M360.0 53.7h2.1M335.3 58.4h1.9M334.0 51.3h1.2M300.9 43.3h1.6M372.0 64.5h1.0M375.9 60.4h1.9M342.3 67.5h2.0M313.7 42.5h2.1M360.1 67.9h1.8M323.3 51.5h1.3M328.0 37.7h2.1M317.6 39.9h1.4M347.6 63.7h2.2M310.6 36.2h2.2M330.4 54.9h0.9M318.7 38.1h2.3M343.5 55.7h1.5"/>
<path fill="none" stroke="#d02828" stroke-width="1.5" stroke-linecap="round" stroke-linejoin="round" opacity="0.9" d="M283,98C283.2,100.8 283.6,108.8 284,115C284.4,121.2 284.8,128.3 285.5,135C286.2,141.7 287.6,151.7 288,155"/>
<path fill="none" stroke="#e04838" stroke-width="1.0" stroke-linecap="round" stroke-linejoin="round" opacity="0.8" d="M285.5,98C285.7,101.3 286.1,111.3 286.5,118C286.9,124.7 287.3,131.7 288,138C288.7,144.3 290.1,153.0 290.5,156"/>
<path fill="none" stroke="#d83830" stroke-width="1.3" stroke-linecap="round" stroke-linejoin="round" opacity="0.85" d="M287.5,100C287.8,103.3 288.4,113.3 289,120C289.6,126.7 290.2,134.3 291,140C291.8,145.7 293.1,151.7 293.5,154"/>
<path fill="none" stroke="#e86050" stroke-width="1.0" stroke-linecap="round" stroke-linejoin="round" opacity="0.7" d="M290,102C290.3,105.8 291.2,117.8 292,125C292.8,132.2 293.8,140.3 294.5,145C295.2,149.7 295.8,151.7 296,153"/>
<path fill="none" stroke="#ec7060" stroke-width="0.9" stroke-linecap="round" stroke-linejoin="round" opacity="0.6" d="M281.5,112C281.7,115.0 282.1,123.7 282.5,130C282.9,136.3 283.8,146.7 284,150"/>
<path fill="none" stroke="#a80c10" stroke-width="1.7" stroke-linecap="round" stroke-linejoin="round" opacity="1" d="M284.5,118C284.4,114.2 284.2,101.0 284.2,95C284.2,89.0 283.8,85.7 284.7,82C285.6,78.3 287.7,74.9 289.4,72.7C291.1,70.5 293.1,69.7 295,68.9C296.9,68.1 299.1,67.8 300.7,68C302.3,68.2 303.9,69.5 304.5,69.8"/>
<path fill="none" stroke="#c01818" stroke-width="1.1" stroke-linecap="round" stroke-linejoin="round" opacity="1" d="M287.8,112C287.8,109.2 287.9,99.7 288,95C288.1,90.3 287.6,87.4 288.5,84C289.4,80.6 291.5,76.5 293.2,74.5C294.9,72.5 297.3,72.1 298.8,71.7C300.3,71.3 301.5,72.0 302,72"/>
<path fill="none" stroke="#800010" stroke-width="1.7" stroke-linecap="round" stroke-linejoin="round" opacity="1" d="M298.8,80.2C299.3,79.1 300.5,74.9 301.6,73.6C302.7,72.3 304.3,72.3 305.4,72.6C306.5,72.9 307.6,73.9 308.2,75.5C308.8,77.1 309.3,80.4 309.2,82C309.1,83.6 308.2,84.7 307.3,84.9C306.4,85.1 304.8,83.5 303.5,83C302.2,82.5 300.6,82.5 299.8,82C299.0,81.5 299.0,80.5 298.8,80.2"/>
<path fill="none" stroke="#9a0a10" stroke-width="2.0" stroke-linecap="round" stroke-linejoin="round" opacity="1" d="M308.2,59.5C308.4,58.5 308.7,54.8 309.2,53.8C309.7,52.8 310.2,53.2 311,53.8C311.8,54.4 312.8,56.6 313.9,57.6C315.0,58.6 316.7,59.8 317.6,59.5C318.5,59.2 318.9,57.4 319.5,55.7C320.1,54.0 320.4,51.1 321.4,49.1C322.3,47.1 323.9,44.6 325.2,43.5C326.5,42.4 327.8,42.2 329,42.5C330.2,42.8 331.4,44.3 332.7,45.4C333.9,46.5 334.9,48.6 336.5,49.1C338.1,49.6 340.5,49.1 342.1,48.2C343.7,47.3 344.6,44.6 345.9,43.5C347.2,42.4 348.3,41.8 349.7,41.6C351.1,41.4 353.1,41.7 354.4,42.5C355.6,43.3 356.6,44.7 357.2,46.3C357.8,47.9 358.0,51.0 358.1,52"/>
<path fill="none" stroke="#700010" stroke-width="1.8" stroke-linecap="round" stroke-linejoin="round" opacity="1" d="M337.5,55C336.9,54.8 335.1,53.2 334,53.5C332.9,53.8 331.4,55.3 331,56.5C330.6,57.7 330.8,59.6 331.5,60.5C332.2,61.4 334.4,62.0 335.5,61.8C336.6,61.5 337.9,59.5 338.4,59"/>
<path fill="none" stroke="#a80c10" stroke-width="1.7" stroke-linecap="round" stroke-linejoin="round" opacity="1" d="M340.2,72.6C341.0,72.9 344.1,72.6 345,74.5C345.9,76.4 346.2,81.2 345.9,84C345.6,86.8 343.3,89.0 343,91.5C342.7,94.0 344.0,97.6 344,99C344.0,100.4 343.4,98.4 342.9,100C342.4,101.6 342.4,106.5 341.1,108.8C339.8,111.1 336.3,111.8 335,114.1C333.7,116.4 333.6,119.4 333.2,122.9C332.8,126.4 332.3,131.5 332.3,135.3C332.3,139.1 332.5,143.0 333.2,145.9C333.9,148.8 336.0,150.3 336.7,152.9C337.4,155.5 337.8,159.2 337.6,161.7C337.5,164.2 336.8,166.3 335.8,167.9C334.8,169.5 333.0,171.0 331.4,171.4C329.8,171.8 327.4,171.5 326.1,170.5C324.8,169.5 324.4,167.1 323.5,165.3C322.6,163.6 321.9,161.5 320.9,160C319.9,158.5 318.2,158.2 317.3,156.4C316.4,154.6 315.9,150.6 315.6,149.4"/>
<path fill="none" stroke="#d03030" stroke-width="1.1" stroke-linecap="round" stroke-linejoin="round" opacity="1" d="M308.5,117.6C309.1,120.5 311.7,130.0 312,135.3C312.3,140.6 310.2,145.9 310.3,149.4C310.4,152.9 311.7,154.6 312.9,156.4C314.1,158.2 316.6,159.4 317.3,160"/>
<path fill="none" stroke="#d03838" stroke-width="1.0" stroke-linecap="round" stroke-linejoin="round" opacity="1" d="M304,107.5C304.3,108.2 305.2,110.3 306,112C306.8,113.7 308.1,116.7 308.5,117.6"/>
<path fill="none" stroke="#c82020" stroke-width="1.1" stroke-linecap="round" stroke-linejoin="round" opacity="1" d="M319,142C319.8,141.4 322.0,138.7 324,138.5C326.0,138.3 329.5,139.4 331,141C332.5,142.6 333.0,145.7 333,148C333.0,150.3 332.3,153.5 331,155C329.7,156.5 326.8,157.5 325,157C323.2,156.5 321.0,154.5 320,152C319.0,149.5 319.2,143.7 319,142"/>
<path fill="none" stroke="#a80c10" stroke-width="1.6" stroke-linecap="round" stroke-linejoin="round" opacity="1" d="M372,24C372.1,25.2 371.8,29.0 372.5,31C373.2,33.0 374.4,35.0 376,36C377.6,37.0 380.2,37.3 382,37C383.8,36.7 385.7,35.3 387,34C388.3,32.7 389.7,30.5 390,29C390.3,27.5 389.2,25.7 389,25"/>
<path fill="none" stroke="#b81418" stroke-width="1.2" stroke-linecap="round" stroke-linejoin="round" opacity="1" d="M378,24C378.3,24.7 379.0,27.2 380,28C381.0,28.8 383.0,29.5 384,29C385.0,28.5 385.7,25.7 386,25"/>
<path fill="none" stroke="#b01010" stroke-width="1.4" stroke-linecap="round" stroke-linejoin="round" opacity="1" d="M380.9,41C381.2,41.7 382.1,43.8 383,45C383.9,46.2 385.3,47.3 386.5,48.5C387.7,49.7 389.1,52.5 390.3,52.2C391.6,51.9 393.4,47.5 394,46.6"/>
<path fill="none" stroke="#d84040" stroke-width="1.0" stroke-linecap="round" stroke-linejoin="round" opacity="1" d="M318,66C318.7,67.0 321.7,70.0 322,72C322.3,74.0 320.3,77.0 320,78"/>
<path fill="none" stroke="#e05048" stroke-width="1.0" stroke-linecap="round" stroke-linejoin="round" opacity="1" d="M312,90C312.3,91.7 313.0,98.7 314,100C315.0,101.3 316.7,97.3 318,98C319.3,98.7 321.3,103.0 322,104"/>
<ellipse cx="308.2" cy="89.6" rx="1.6" ry="1.6" fill="#700010"/>
<ellipse cx="303.3" cy="109.5" rx="1.3" ry="2.2" fill="#800010"/>
<ellipse cx="321.7" cy="115" rx="1.3" ry="1.3" fill="#900010"/>
<ellipse cx="333.2" cy="108" rx="1.5" ry="1.5" fill="#800010"/>
<ellipse cx="320" cy="80" rx="1.8" ry="1.6" fill="#700010"/>
<ellipse cx="324" cy="83" rx="2" ry="1.8" fill="#600010"/>
<ellipse cx="328.5" cy="81" rx="1.6" ry="1.6" fill="#700010"/>
<ellipse cx="322" cy="86" rx="1.5" ry="1.5" fill="#900010"/>
<ellipse cx="330" cy="85" rx="1.3" ry="1.3" fill="#800010"/>
<ellipse cx="334.6" cy="109.4" rx="1.3" ry="1.3" fill="#800010"/>
<ellipse cx="393" cy="58" rx="1.8" ry="2.2" fill="#500008"/>
<ellipse cx="369.6" cy="133.6" rx="1.5" ry="1.5" fill="#c02020"/>
<ellipse cx="382.8" cy="107" rx="1.3" ry="1.3" fill="#c02020"/>
<ellipse cx="304" cy="46" rx="1.2" ry="1.2" fill="#e04040"/>
<ellipse cx="316" cy="172" rx="1.2" ry="1.6" fill="#c01818"/>
<ellipse cx="300" cy="188" rx="1" ry="1" fill="#d83030"/>
<g clip-path="url(#cbw)">
<rect x="240" y="24" width="80" height="176" fill="#3b4331"/>
<path stroke="#3b4331" stroke-width="5" d="M240.2 26.8h5M285.2 26.8h5M250.2 31.8h5M295.2 31.8h10M245.2 36.8h5M305.2 41.8h5M245.2 46.8h15M265.2 46.8h5M300.2 46.8h5M255.2 51.8h5M295.2 51.8h5M315.2 51.8h4.8M250.2 56.8h15M290.2 56.8h5M245.2 61.8h5M255.2 61.8h5M275.2 61.8h5M285.2 61.8h5M305.2 61.8h5M245.2 66.8h5M270.2 66.8h10M300.2 66.8h10M270.2 71.8h10M290.2 71.8h5M300.2 71.8h5M255.2 76.8h5M265.2 76.8h5M290.2 76.8h5M260.2 81.8h5M270.2 81.8h5M300.2 81.8h10M315.2 81.8h4.8M240.2 86.8h5M255.2 86.8h10M275.2 86.8h5M295.2 86.8h5M250.2 91.8h15M285.2 91.8h5M295.2 91.8h5M305.2 91.8h14.8M250.2 96.8h5M270.2 96.8h5M305.2 96.8h5M315.2 96.8h4.8M255.2 101.8h5M265.2 101.8h5M315.2 101.8h4.8M240.2 106.8h5M290.2 106.8h5M285.2 111.8h5M315.2 111.8h4.8M260.2 121.8h5M240.2 126.8h10M275.2 126.8h5M240.2 131.8h5M280.2 131.8h5M305.2 131.8h5M305.2 136.8h5M250.2 141.8h20M290.2 141.8h5M250.2 146.8h5M270.2 146.8h5M240.2 151.8h10M260.2 151.8h5M300.2 151.8h10M315.2 151.8h4.8M250.2 156.8h5M260.2 156.8h5M275.2 156.8h5M305.2 156.8h5M250.2 161.8h5M265.2 161.8h5M285.2 161.8h10M310.2 161.8h9.8M280.2 166.8h5M295.2 166.8h5M305.2 166.8h5M245.2 171.8h5M255.2 171.8h5M280.2 171.8h5M315.2 171.8h4.8M255.2 176.8h5M270.2 176.8h10M285.2 176.8h5M305.2 176.8h5M245.2 181.8h5M255.2 181.8h15M275.2 181.8h10M295.2 181.8h5M305.2 181.8h5M240.2 186.8h5M270.2 186.8h5M280.2 186.8h10M270.2 191.8h5M305.2 191.8h5M315.2 191.8h4.8M275.2 196.8h5M310.2 196.8h9.8M290.2 201.8h10M305.2 201.8h5" opacity="0.85"/>
<path stroke="#404836" stroke-width="5" d="M245.2 26.8h5M265.2 26.8h5M275.2 26.8h5M240.2 31.8h10M280.2 31.8h10M265.2 36.8h5M280.2 36.8h5M315.2 36.8h4.8M270.2 41.8h5M310.2 41.8h5M260.2 46.8h5M280.2 46.8h5M310.2 46.8h5M240.2 51.8h5M280.2 51.8h15M305.2 51.8h10M270.2 56.8h5M240.2 61.8h5M250.2 61.8h5M280.2 61.8h5M315.2 61.8h4.8M250.2 66.8h5M285.2 66.8h5M305.2 71.8h14.8M260.2 76.8h5M270.2 76.8h5M300.2 76.8h5M255.2 81.8h5M265.2 81.8h5M305.2 86.8h5M245.2 91.8h5M270.2 91.8h5M290.2 91.8h5M300.2 91.8h5M260.2 96.8h5M275.2 96.8h5M295.2 96.8h10M310.2 96.8h5M245.2 101.8h5M275.2 101.8h5M290.2 101.8h15M245.2 106.8h5M270.2 106.8h10M305.2 106.8h10M240.2 111.8h10M265.2 111.8h10M280.2 111.8h5M240.2 116.8h5M275.2 116.8h5M285.2 116.8h5M240.2 121.8h5M270.2 121.8h5M285.2 121.8h5M255.2 126.8h20M280.2 126.8h10M295.2 126.8h5M305.2 126.8h5M255.2 131.8h5M265.2 131.8h5M275.2 131.8h5M285.2 131.8h15M255.2 136.8h5M275.2 136.8h5M285.2 136.8h5M295.2 136.8h5M270.2 141.8h10M295.2 141.8h5M305.2 141.8h5M250.2 151.8h10M240.2 156.8h10M255.2 156.8h5M310.2 156.8h9.8M300.2 161.8h5M245.2 166.8h10M265.2 171.8h5M295.2 171.8h5M305.2 171.8h5M245.2 176.8h5M265.2 176.8h5M280.2 176.8h5M290.2 176.8h10M310.2 176.8h5M285.2 181.8h10M310.2 181.8h9.8M275.2 186.8h5M290.2 186.8h5M305.2 186.8h5M315.2 186.8h4.8M240.2 191.8h5M275.2 191.8h10M290.2 191.8h5M250.2 201.8h5M285.2 201.8h5" opacity="0.85"/>
<path stroke="#48503e" stroke-width="5" d="M250.2 26.8h5M270.2 26.8h5M270.2 31.8h10M270.2 36.8h10M290.2 36.8h15M290.2 41.8h10M290.2 46.8h5M245.2 51.8h5M290.2 61.8h5M310.2 66.8h9.8M290.2 96.8h5M300.2 126.8h5M260.2 131.8h5M300.2 131.8h5M265.2 136.8h10M300.2 136.8h5M300.2 146.8h5M240.2 161.8h5M260.2 161.8h5M255.2 166.8h10M290.2 166.8h5M240.2 171.8h5M300.2 186.8h5M285.2 191.8h5M290.2 196.8h5M280.2 201.8h5" opacity="0.85"/>
<path stroke="#363e2c" stroke-width="5" d="M255.2 26.8h5M280.2 26.8h5M290.2 26.8h5M310.2 26.8h5M265.2 31.8h5M305.2 31.8h10M310.2 36.8h5M260.2 41.8h10M240.2 46.8h5M305.2 46.8h5M275.2 51.8h5M275.2 56.8h5M285.2 56.8h5M300.2 56.8h5M310.2 56.8h5M270.2 61.8h5M295.2 61.8h10M255.2 66.8h5M280.2 66.8h5M290.2 66.8h5M240.2 71.8h10M255.2 71.8h5M280.2 71.8h10M295.2 71.8h5M245.2 76.8h5M285.2 76.8h5M295.2 76.8h5M305.2 76.8h5M250.2 81.8h5M275.2 81.8h5M285.2 81.8h10M245.2 86.8h10M265.2 86.8h10M280.2 86.8h10M310.2 86.8h9.8M265.2 91.8h5M275.2 91.8h5M265.2 96.8h5M285.2 96.8h5M310.2 101.8h5M250.2 106.8h10M280.2 106.8h5M295.2 106.8h5M315.2 106.8h4.8M295.2 111.8h5M305.2 111.8h5M245.2 116.8h5M260.2 116.8h10M250.2 121.8h5M265.2 121.8h5M275.2 121.8h5M290.2 121.8h10M305.2 121.8h14.8M290.2 126.8h5M310.2 126.8h9.8M245.2 131.8h5M245.2 136.8h5M280.2 141.8h10M255.2 146.8h5M265.2 146.8h5M275.2 146.8h5M285.2 146.8h10M315.2 146.8h4.8M265.2 151.8h5M295.2 151.8h5M270.2 156.8h5M275.2 166.8h5M285.2 166.8h5M250.2 171.8h5M270.2 171.8h10M285.2 171.8h5M315.2 176.8h4.8M300.2 181.8h5M260.2 186.8h5M295.2 186.8h5M310.2 186.8h5M245.2 191.8h5M255.2 191.8h10M295.2 191.8h10M310.2 191.8h5M260.2 196.8h10M240.2 201.8h10M265.2 201.8h5M300.2 201.8h5" opacity="0.85"/>
<path stroke="#2e3624" stroke-width="5" d="M260.2 26.8h5M300.2 26.8h5M260.2 31.8h5M250.2 36.8h10M245.2 41.8h5M255.2 41.8h5M300.2 51.8h5M260.2 61.8h5M265.2 71.8h5M240.2 76.8h5M250.2 76.8h5M245.2 81.8h5M260.2 101.8h5M260.2 106.8h5M250.2 111.8h5M260.2 111.8h5M290.2 111.8h5M250.2 116.8h5M295.2 116.8h15M300.2 121.8h5M250.2 126.8h5M250.2 131.8h5M315.2 131.8h4.8M240.2 136.8h5M250.2 136.8h5M310.2 136.8h9.8M240.2 141.8h5M310.2 141.8h9.8M260.2 146.8h5M280.2 146.8h5M270.2 151.8h5M280.2 151.8h5M285.2 156.8h5M270.2 166.8h5M310.2 171.8h5M300.2 176.8h5M250.2 186.8h10M250.2 191.8h5M265.2 191.8h5M300.2 196.8h10" opacity="0.85"/>
<path stroke="#323a28" stroke-width="5" d="M295.2 26.8h5M305.2 26.8h5M315.2 26.8h4.8M255.2 31.8h5M260.2 36.8h5M240.2 41.8h5M250.2 41.8h5M265.2 51.8h5M280.2 56.8h5M295.2 56.8h5M265.2 61.8h5M240.2 66.8h5M260.2 66.8h10M250.2 71.8h5M260.2 71.8h5M275.2 76.8h10M310.2 76.8h9.8M240.2 81.8h5M280.2 81.8h5M295.2 81.8h5M310.2 81.8h5M290.2 86.8h5M280.2 91.8h5M255.2 96.8h5M280.2 96.8h5M250.2 101.8h5M280.2 101.8h10M265.2 106.8h5M285.2 106.8h5M255.2 111.8h5M300.2 111.8h5M310.2 111.8h5M255.2 116.8h5M270.2 116.8h5M290.2 116.8h5M310.2 116.8h9.8M245.2 121.8h5M255.2 121.8h5M310.2 131.8h5M245.2 141.8h5M240.2 146.8h10M310.2 146.8h5M275.2 151.8h5M285.2 151.8h10M310.2 151.8h5M265.2 156.8h5M280.2 156.8h5M290.2 156.8h15M270.2 161.8h15M295.2 161.8h5M305.2 161.8h5M265.2 166.8h5M310.2 166.8h9.8M250.2 176.8h5M250.2 181.8h5M245.2 186.8h5M265.2 186.8h5M240.2 196.8h20M295.2 196.8h5M255.2 201.8h10M270.2 201.8h10M315.2 201.8h4.8" opacity="0.85"/>
<path stroke="#444c3a" stroke-width="5" d="M290.2 31.8h5M315.2 31.8h4.8M240.2 36.8h5M285.2 36.8h5M305.2 36.8h5M275.2 41.8h15M300.2 41.8h5M315.2 41.8h4.8M270.2 46.8h10M285.2 46.8h5M295.2 46.8h5M315.2 46.8h4.8M250.2 51.8h5M260.2 51.8h5M270.2 51.8h5M240.2 56.8h10M265.2 56.8h5M305.2 56.8h5M315.2 56.8h4.8M310.2 61.8h5M295.2 66.8h5M300.2 86.8h5M240.2 91.8h5M240.2 96.8h10M240.2 101.8h5M270.2 101.8h5M305.2 101.8h5M300.2 106.8h5M275.2 111.8h5M280.2 116.8h5M280.2 121.8h5M270.2 131.8h5M260.2 136.8h5M280.2 136.8h5M290.2 136.8h5M300.2 141.8h5M295.2 146.8h5M305.2 146.8h5M245.2 161.8h5M255.2 161.8h5M240.2 166.8h5M300.2 166.8h5M260.2 171.8h5M290.2 171.8h5M300.2 171.8h5M240.2 176.8h5M260.2 176.8h5M240.2 181.8h5M270.2 181.8h5M270.2 196.8h5M280.2 196.8h10M310.2 201.8h5" opacity="0.85"/>
<path d="M240,118 L262,110 L275,135 L240,150Z" fill="#6a6a58" opacity="0.35"/>
<path d="M262,160 L268,155 L278,153 L286,154 L289,161 L284,167 L272,168 L263,166Z" fill="#6e6a70" opacity="0.9"/>
<ellipse cx="283" cy="176" rx="2" ry="2" fill="#8a8a80"/>
<path d="M262,185 L300,178" stroke="#8a6a60" stroke-width="1" opacity="0.6"/>
</g>
</g>
<rect x="244.9" y="191.6" width="25.9" height="3.4" fill="#000"/>
<rect x="270.8" y="191.6" width="25.2" height="3.4" fill="#fff"/>
<text x="241.80" y="187.2" font-family="'Liberation Serif', serif" font-size="10.8" fill="#222" stroke="#222" stroke-width="0.3">0</text>
<text x="268.10" y="187.2" font-family="'Liberation Serif', serif" font-size="10.8" fill="#222" stroke="#222" stroke-width="0.3">1</text>
<text x="293.80 301.15 305.56 311.56" y="187.2" font-family="'Liberation Serif', serif" font-size="10.8" fill="#222" stroke="#222" stroke-width="0.3">2 <tspan textLength="5.88" lengthAdjust="spacingAndGlyphs">K</tspan><tspan textLength="5.88" lengthAdjust="spacingAndGlyphs">M</tspan></text>
<clipPath id="cc"><rect x="20.6" y="245.1" width="185.1" height="158.1"/></clipPath>
<g clip-path="url(#cc)">
<rect x="20.6" y="245.1" width="185.1" height="158.1" fill="#434a3b"/>
<path stroke="#3e4636" stroke-width="5" d="M20.6 247.6h5M70.6 247.6h5M85.6 247.6h5M165.6 247.6h5M200.6 247.6h5M20.6 252.6h5M30.6 252.6h5M45.6 252.6h5M65.6 252.6h5M85.6 252.6h5M110.6 252.6h10M170.6 252.6h5M205.6 252.6h0.1M25.6 257.6h5M75.6 257.6h5M150.6 257.6h5M185.6 257.6h5M205.6 257.6h0.1M25.6 262.6h5M50.6 262.6h5M60.6 262.6h5M80.6 262.6h5M100.6 262.6h5M115.6 262.6h5M125.6 262.6h5M150.6 262.6h5M160.6 262.6h5M175.6 262.6h5M205.6 262.6h0.1M40.6 267.6h5M75.6 267.6h15M100.6 267.6h5M140.6 267.6h5M155.6 267.6h5M175.6 267.6h5M185.6 267.6h5M200.6 267.6h5M30.6 272.6h10M75.6 272.6h5M100.6 272.6h5M125.6 272.6h5M150.6 272.6h10M165.6 272.6h5M175.6 272.6h5M205.6 272.6h0.1M100.6 277.6h5M25.6 282.6h5M85.6 282.6h5M105.6 282.6h5M120.6 282.6h5M185.6 282.6h15M40.6 287.6h5M125.6 287.6h10M145.6 287.6h5M170.6 287.6h10M185.6 287.6h5M45.6 292.6h5M115.6 292.6h5M130.6 292.6h5M145.6 292.6h5M170.6 292.6h5M190.6 292.6h5M205.6 292.6h0.1M30.6 297.6h10M45.6 297.6h10M60.6 297.6h5M100.6 297.6h5M115.6 297.6h5M145.6 297.6h15M55.6 302.6h5M65.6 302.6h10M85.6 302.6h10M130.6 302.6h5M35.6 307.6h5M45.6 307.6h10M65.6 307.6h5M75.6 307.6h10M90.6 307.6h15M65.6 312.6h5M75.6 312.6h5M135.6 312.6h5M160.6 312.6h10M190.6 312.6h5M35.6 317.6h5M80.6 317.6h5M150.6 317.6h5M25.6 322.6h5M35.6 322.6h5M50.6 322.6h5M90.6 322.6h5M105.6 322.6h5M140.6 322.6h5M155.6 322.6h5M190.6 322.6h10M20.6 327.6h5M55.6 327.6h5M80.6 327.6h5M95.6 327.6h5M110.6 327.6h10M175.6 327.6h5M35.6 332.6h5M70.6 332.6h10M95.6 332.6h5M120.6 332.6h5M135.6 332.6h5M145.6 332.6h5M155.6 332.6h5M180.6 332.6h5M190.6 332.6h5M65.6 337.6h5M135.6 337.6h5M175.6 337.6h5M65.6 342.6h5M90.6 342.6h5M110.6 342.6h5M160.6 342.6h10M185.6 342.6h5M195.6 342.6h5M65.6 347.6h5M140.6 347.6h5M155.6 347.6h5M165.6 347.6h5M35.6 352.6h5M85.6 352.6h5M145.6 352.6h5M155.6 352.6h5M165.6 352.6h5M195.6 352.6h5M205.6 352.6h0.1M45.6 357.6h5M55.6 357.6h5M65.6 357.6h5M75.6 357.6h5M105.6 357.6h5M160.6 357.6h5M180.6 357.6h5M190.6 357.6h5M40.6 362.6h5M95.6 362.6h5M105.6 362.6h5M130.6 362.6h5M30.6 367.6h5M160.6 367.6h10M25.6 372.6h10M70.6 372.6h5M160.6 372.6h5M175.6 372.6h5M125.6 377.6h5M175.6 377.6h5M195.6 377.6h10.1M30.6 382.6h10M85.6 382.6h5M110.6 382.6h5M125.6 382.6h5M185.6 382.6h5M40.6 387.6h5M70.6 387.6h5M80.6 387.6h5M110.6 387.6h5M130.6 387.6h15M190.6 387.6h5M35.6 392.6h5M80.6 392.6h5M140.6 392.6h5M185.6 392.6h5M195.6 392.6h5M40.6 397.6h5M70.6 397.6h5M140.6 397.6h5M155.6 397.6h5M30.6 402.6h5M50.6 402.6h5M100.6 402.6h5M130.6 402.6h5M140.6 402.6h5M165.6 402.6h5" opacity="0.85"/>
<path stroke="#434a3b" stroke-width="5" d="M25.6 247.6h5M65.6 247.6h5M105.6 247.6h10M140.6 247.6h5M155.6 247.6h5M175.6 247.6h5M185.6 247.6h5M35.6 252.6h10M55.6 252.6h5M90.6 252.6h5M105.6 252.6h5M175.6 252.6h5M185.6 252.6h5M20.6 257.6h5M40.6 257.6h5M65.6 257.6h10M110.6 257.6h10M145.6 257.6h5M20.6 262.6h5M70.6 262.6h5M85.6 262.6h15M110.6 262.6h5M145.6 262.6h5M180.6 262.6h10M60.6 267.6h5M70.6 267.6h5M95.6 267.6h5M105.6 267.6h10M135.6 267.6h5M145.6 267.6h10M170.6 267.6h5M190.6 267.6h5M25.6 272.6h5M45.6 272.6h5M90.6 272.6h5M105.6 272.6h5M120.6 272.6h5M140.6 272.6h10M180.6 272.6h5M190.6 272.6h15M40.6 277.6h5M135.6 277.6h10M160.6 277.6h5M190.6 277.6h10M30.6 282.6h5M45.6 282.6h5M75.6 282.6h5M95.6 282.6h5M125.6 282.6h20M205.6 282.6h0.1M20.6 287.6h5M80.6 287.6h10M115.6 287.6h5M135.6 287.6h5M25.6 292.6h5M50.6 292.6h10M95.6 292.6h10M135.6 292.6h5M155.6 292.6h10M20.6 297.6h10M40.6 297.6h5M65.6 297.6h5M75.6 297.6h5M85.6 297.6h5M125.6 297.6h20M160.6 297.6h5M175.6 297.6h5M205.6 297.6h0.1M20.6 302.6h5M30.6 302.6h5M50.6 302.6h5M125.6 302.6h5M135.6 302.6h10M155.6 302.6h15M120.6 307.6h5M140.6 307.6h5M155.6 307.6h5M165.6 307.6h5M190.6 307.6h5M200.6 307.6h5M20.6 312.6h5M30.6 312.6h5M45.6 312.6h15M80.6 312.6h25M120.6 312.6h5M130.6 312.6h5M175.6 312.6h5M200.6 312.6h5M40.6 317.6h5M50.6 317.6h5M60.6 317.6h20M105.6 317.6h5M155.6 317.6h5M180.6 317.6h10M205.6 317.6h0.1M70.6 322.6h5M80.6 322.6h5M95.6 322.6h5M115.6 322.6h5M150.6 322.6h5M160.6 322.6h15M200.6 322.6h5M40.6 327.6h10M85.6 327.6h5M105.6 327.6h5M190.6 327.6h10M205.6 327.6h0.1M25.6 332.6h5M45.6 332.6h10M65.6 332.6h5M80.6 332.6h5M100.6 332.6h5M150.6 332.6h5M175.6 332.6h5M185.6 332.6h5M200.6 332.6h5M45.6 337.6h10M75.6 337.6h15M105.6 337.6h10M145.6 337.6h5M165.6 337.6h5M185.6 337.6h5M25.6 342.6h5M115.6 342.6h5M155.6 342.6h5M170.6 342.6h5M180.6 342.6h5M20.6 347.6h5M30.6 347.6h5M75.6 347.6h5M85.6 347.6h10M110.6 347.6h5M130.6 347.6h5M180.6 347.6h5M200.6 347.6h5.1M90.6 352.6h5M100.6 352.6h5M130.6 352.6h5M140.6 352.6h5M170.6 352.6h5M180.6 352.6h15M50.6 357.6h5M60.6 357.6h5M70.6 357.6h5M85.6 357.6h5M95.6 357.6h5M110.6 357.6h10M135.6 357.6h5M155.6 357.6h5M175.6 357.6h5M185.6 357.6h5M45.6 362.6h10M70.6 362.6h5M80.6 362.6h5M90.6 362.6h5M150.6 362.6h10M170.6 362.6h5M185.6 362.6h5M35.6 367.6h5M70.6 367.6h5M90.6 367.6h5M105.6 367.6h5M130.6 367.6h5M150.6 367.6h5M190.6 367.6h5M200.6 367.6h5M45.6 372.6h5M75.6 372.6h5M85.6 372.6h5M110.6 372.6h25M155.6 372.6h5M185.6 372.6h5M195.6 372.6h10.1M45.6 377.6h5M55.6 377.6h5M80.6 377.6h10M105.6 377.6h10M160.6 377.6h10M185.6 377.6h5M20.6 382.6h5M45.6 382.6h20M70.6 382.6h5M90.6 382.6h5M115.6 382.6h5M135.6 382.6h10M180.6 382.6h5M190.6 382.6h5M20.6 387.6h15M55.6 387.6h5M90.6 387.6h5M145.6 387.6h10M20.6 392.6h10M40.6 392.6h5M50.6 392.6h10M200.6 392.6h5M30.6 397.6h10M45.6 397.6h10M80.6 397.6h5M95.6 397.6h5M115.6 402.6h5M135.6 402.6h5M150.6 402.6h5M185.6 402.6h5M195.6 402.6h10.1" opacity="0.85"/>
<path stroke="#4c5344" stroke-width="5" d="M30.6 247.6h15M60.6 247.6h5M80.6 247.6h5M90.6 247.6h10M115.6 247.6h5M135.6 247.6h5M180.6 247.6h5M195.6 247.6h5M95.6 252.6h5M150.6 252.6h5M180.6 252.6h5M80.6 257.6h15M135.6 262.6h5M155.6 262.6h5M165.6 262.6h5M20.6 267.6h5M65.6 267.6h5M70.6 272.6h5M70.6 277.6h5M115.6 277.6h5M50.6 282.6h10M65.6 282.6h10M110.6 282.6h10M145.6 282.6h5M200.6 282.6h5M60.6 287.6h5M95.6 287.6h5M105.6 287.6h5M200.6 287.6h5.1M75.6 292.6h5M105.6 292.6h5M165.6 292.6h5M185.6 292.6h5M80.6 297.6h5M110.6 297.6h5M75.6 302.6h5M145.6 302.6h10M175.6 302.6h5M115.6 307.6h5M170.6 307.6h5M185.6 307.6h5M25.6 312.6h5M110.6 312.6h5M120.6 317.6h5M160.6 317.6h5M190.6 317.6h5M45.6 322.6h5M60.6 322.6h5M110.6 322.6h5M135.6 322.6h5M205.6 322.6h0.1M50.6 327.6h5M60.6 327.6h5M200.6 327.6h5M100.6 337.6h5M205.6 337.6h0.1M50.6 342.6h5M80.6 342.6h5M105.6 342.6h5M135.6 342.6h5M150.6 342.6h5M120.6 347.6h10M135.6 347.6h5M145.6 347.6h10M30.6 352.6h5M40.6 352.6h10M95.6 352.6h5M125.6 352.6h5M150.6 352.6h5M20.6 357.6h15M120.6 357.6h5M170.6 357.6h5M20.6 362.6h5M55.6 362.6h5M65.6 362.6h5M85.6 362.6h5M110.6 362.6h5M135.6 362.6h5M145.6 362.6h5M50.6 367.6h10M115.6 367.6h10M135.6 367.6h5M145.6 367.6h5M170.6 367.6h5M185.6 367.6h5M195.6 367.6h5M205.6 367.6h0.1M20.6 372.6h5M55.6 372.6h5M105.6 372.6h5M165.6 372.6h5M50.6 377.6h5M60.6 377.6h5M100.6 377.6h5M120.6 377.6h5M170.6 377.6h5M120.6 382.6h5M145.6 382.6h5M200.6 382.6h5M155.6 387.6h15M175.6 387.6h5M195.6 387.6h5M100.6 392.6h15M125.6 392.6h5M155.6 392.6h5M205.6 392.6h0.1M55.6 397.6h5M85.6 397.6h5M110.6 397.6h15M170.6 397.6h10M40.6 402.6h5M55.6 402.6h5M85.6 402.6h5M110.6 402.6h5M120.6 402.6h5M160.6 402.6h5M175.6 402.6h5" opacity="0.85"/>
<path stroke="#484e40" stroke-width="5" d="M45.6 247.6h5M55.6 247.6h5M130.6 247.6h5M145.6 247.6h10M160.6 247.6h5M60.6 252.6h5M70.6 252.6h15M100.6 252.6h5M120.6 252.6h5M130.6 252.6h20M155.6 252.6h5M165.6 252.6h5M95.6 257.6h5M130.6 257.6h15M155.6 257.6h20M180.6 257.6h5M65.6 262.6h5M75.6 262.6h5M130.6 262.6h5M140.6 262.6h5M25.6 267.6h5M55.6 267.6h5M90.6 267.6h5M130.6 267.6h5M180.6 267.6h5M195.6 267.6h5M20.6 272.6h5M50.6 272.6h5M65.6 272.6h5M110.6 272.6h10M130.6 272.6h10M160.6 272.6h5M185.6 272.6h5M35.6 277.6h5M45.6 277.6h5M105.6 277.6h5M120.6 277.6h15M145.6 277.6h5M180.6 277.6h10M205.6 277.6h0.1M60.6 282.6h5M150.6 282.6h15M55.6 287.6h5M65.6 287.6h15M90.6 287.6h5M100.6 287.6h5M110.6 287.6h5M140.6 287.6h5M155.6 287.6h15M20.6 292.6h5M35.6 292.6h5M60.6 292.6h5M85.6 292.6h5M140.6 292.6h5M175.6 292.6h10M195.6 292.6h5M70.6 297.6h5M105.6 297.6h5M35.6 302.6h10M95.6 302.6h15M115.6 302.6h5M170.6 302.6h5M180.6 302.6h5M195.6 302.6h5M30.6 307.6h5M40.6 307.6h5M85.6 307.6h5M105.6 307.6h5M125.6 307.6h5M180.6 307.6h5M205.6 307.6h0.1M35.6 312.6h10M115.6 312.6h5M125.6 312.6h5M140.6 312.6h10M155.6 312.6h5M170.6 312.6h5M185.6 312.6h5M205.6 312.6h0.1M30.6 317.6h5M45.6 317.6h5M85.6 317.6h20M115.6 317.6h5M140.6 317.6h10M165.6 317.6h5M20.6 322.6h5M55.6 322.6h5M65.6 322.6h5M75.6 322.6h5M100.6 322.6h5M125.6 322.6h5M185.6 322.6h5M35.6 327.6h5M65.6 327.6h15M100.6 327.6h5M135.6 327.6h5M165.6 327.6h10M55.6 332.6h5M105.6 332.6h10M125.6 332.6h5M160.6 332.6h15M195.6 332.6h5M205.6 332.6h0.1M40.6 337.6h5M55.6 337.6h10M115.6 337.6h5M125.6 337.6h5M155.6 337.6h5M180.6 337.6h5M190.6 337.6h15M30.6 342.6h20M55.6 342.6h10M85.6 342.6h5M120.6 342.6h5M145.6 342.6h5M175.6 342.6h5M200.6 342.6h5.1M25.6 347.6h5M50.6 347.6h5M60.6 347.6h5M80.6 347.6h5M95.6 347.6h5M105.6 347.6h5M170.6 347.6h10M185.6 347.6h5M50.6 352.6h5M60.6 352.6h10M80.6 352.6h5M110.6 352.6h10M175.6 352.6h5M35.6 357.6h10M80.6 357.6h5M130.6 357.6h5M145.6 357.6h10M25.6 362.6h15M60.6 362.6h5M75.6 362.6h5M120.6 362.6h10M140.6 362.6h5M175.6 362.6h10M190.6 362.6h10M205.6 362.6h0.1M20.6 367.6h5M40.6 367.6h10M65.6 367.6h5M80.6 367.6h10M125.6 367.6h5M140.6 367.6h5M155.6 367.6h5M175.6 367.6h10M40.6 372.6h5M60.6 372.6h10M95.6 372.6h10M135.6 372.6h15M190.6 372.6h5M20.6 377.6h5M95.6 377.6h5M115.6 377.6h5M155.6 377.6h5M190.6 377.6h5M65.6 382.6h5M95.6 382.6h5M155.6 382.6h5M175.6 382.6h5M195.6 382.6h5M205.6 382.6h0.1M35.6 387.6h5M50.6 387.6h5M85.6 387.6h5M105.6 387.6h5M115.6 387.6h5M125.6 387.6h5M170.6 387.6h5M185.6 387.6h5M200.6 387.6h5M30.6 392.6h5M45.6 392.6h5M60.6 392.6h10M85.6 392.6h5M95.6 392.6h5M150.6 392.6h5M160.6 392.6h10M20.6 397.6h5M65.6 397.6h5M105.6 397.6h5M125.6 397.6h10M145.6 397.6h10M160.6 397.6h5M180.6 397.6h10M25.6 402.6h5M35.6 402.6h5M45.6 402.6h5M65.6 402.6h5M75.6 402.6h10M90.6 402.6h10M105.6 402.6h5M125.6 402.6h5M155.6 402.6h5M170.6 402.6h5M180.6 402.6h5" opacity="0.85"/>
<path stroke="#363c2e" stroke-width="5" d="M50.6 247.6h5M170.6 247.6h5M205.6 247.6h0.1M25.6 252.6h5M200.6 252.6h5M30.6 257.6h10M55.6 257.6h10M105.6 257.6h5M190.6 257.6h5M200.6 257.6h5M30.6 262.6h5M40.6 262.6h10M120.6 262.6h5M190.6 262.6h5M200.6 262.6h5M45.6 267.6h10M115.6 267.6h10M85.6 272.6h5M75.6 277.6h20M170.6 277.6h5M90.6 282.6h5M165.6 282.6h5M180.6 282.6h5M35.6 287.6h5M45.6 287.6h10M120.6 287.6h5M190.6 287.6h5M30.6 292.6h5M40.6 292.6h5M125.6 292.6h5M90.6 297.6h5M120.6 297.6h5M60.6 302.6h5M60.6 307.6h5M160.6 307.6h5M60.6 312.6h5M170.6 317.6h5M200.6 317.6h5M175.6 322.6h5M25.6 327.6h5M90.6 327.6h5M145.6 327.6h5M155.6 327.6h10M180.6 327.6h5M85.6 332.6h10M115.6 332.6h5M140.6 332.6h5M90.6 337.6h10M70.6 347.6h5M160.6 347.6h5M190.6 347.6h5M160.6 352.6h5M200.6 352.6h5M90.6 357.6h5M195.6 357.6h10.1M100.6 362.6h5M200.6 362.6h5M95.6 367.6h5M130.6 377.6h5M180.6 377.6h5M40.6 382.6h5M80.6 382.6h5M130.6 382.6h5M160.6 382.6h5M135.6 392.6h5M190.6 392.6h5M75.6 397.6h5M135.6 397.6h5M190.6 397.6h15" opacity="0.85"/>
<path stroke="#505848" stroke-width="5" d="M75.6 247.6h5M100.6 247.6h5M120.6 247.6h10M125.6 252.6h5M160.6 252.6h5M175.6 257.6h5M55.6 272.6h10M20.6 277.6h15M50.6 277.6h20M110.6 277.6h5M20.6 282.6h5M70.6 292.6h5M80.6 292.6h5M110.6 292.6h5M200.6 292.6h5M180.6 297.6h25M80.6 302.6h5M110.6 302.6h5M185.6 302.6h10M200.6 302.6h5.1M110.6 307.6h5M145.6 307.6h10M175.6 307.6h5M105.6 312.6h5M150.6 312.6h5M180.6 312.6h5M20.6 317.6h10M55.6 317.6h5M110.6 317.6h5M125.6 317.6h15M130.6 322.6h5M130.6 327.6h5M30.6 332.6h5M60.6 332.6h5M130.6 332.6h5M25.6 337.6h15M130.6 337.6h5M150.6 337.6h5M160.6 337.6h5M100.6 342.6h5M125.6 342.6h10M35.6 347.6h15M55.6 347.6h5M100.6 347.6h5M115.6 347.6h5M20.6 352.6h5M55.6 352.6h5M120.6 352.6h5M125.6 357.6h5M140.6 357.6h5M115.6 362.6h5M25.6 367.6h5M60.6 367.6h5M75.6 367.6h5M110.6 367.6h5M50.6 372.6h5M80.6 372.6h5M150.6 372.6h5M170.6 372.6h5M145.6 377.6h10M100.6 382.6h10M150.6 382.6h5M165.6 382.6h10M95.6 387.6h10M120.6 387.6h5M180.6 387.6h5M205.6 387.6h0.1M90.6 392.6h5M115.6 392.6h10M170.6 392.6h15M60.6 397.6h5M90.6 397.6h5M165.6 397.6h5M60.6 402.6h5" opacity="0.85"/>
<path stroke="#3a4132" stroke-width="5" d="M190.6 247.6h5M50.6 252.6h5M190.6 252.6h10M45.6 257.6h10M100.6 257.6h5M120.6 257.6h10M195.6 257.6h5M35.6 262.6h5M55.6 262.6h5M105.6 262.6h5M170.6 262.6h5M195.6 262.6h5M30.6 267.6h10M125.6 267.6h5M160.6 267.6h10M205.6 267.6h0.1M40.6 272.6h5M80.6 272.6h5M95.6 272.6h5M170.6 272.6h5M95.6 277.6h5M150.6 277.6h10M165.6 277.6h5M175.6 277.6h5M200.6 277.6h5M35.6 282.6h10M80.6 282.6h5M100.6 282.6h5M170.6 282.6h10M25.6 287.6h10M150.6 287.6h5M180.6 287.6h5M195.6 287.6h5M65.6 292.6h5M90.6 292.6h5M120.6 292.6h5M150.6 292.6h5M55.6 297.6h5M95.6 297.6h5M165.6 297.6h10M25.6 302.6h5M45.6 302.6h5M120.6 302.6h5M20.6 307.6h10M55.6 307.6h5M70.6 307.6h5M130.6 307.6h10M195.6 307.6h5M70.6 312.6h5M195.6 312.6h5M175.6 317.6h5M195.6 317.6h5M30.6 322.6h5M40.6 322.6h5M85.6 322.6h5M120.6 322.6h5M145.6 322.6h5M180.6 322.6h5M30.6 327.6h5M120.6 327.6h10M140.6 327.6h5M150.6 327.6h5M185.6 327.6h5M20.6 332.6h5M40.6 332.6h5M20.6 337.6h5M70.6 337.6h5M120.6 337.6h5M140.6 337.6h5M170.6 337.6h5M20.6 342.6h5M70.6 342.6h10M95.6 342.6h5M140.6 342.6h5M190.6 342.6h5M195.6 347.6h5M25.6 352.6h5M70.6 352.6h10M105.6 352.6h5M135.6 352.6h5M100.6 357.6h5M165.6 357.6h5M160.6 362.6h10M100.6 367.6h5M35.6 372.6h5M90.6 372.6h5M180.6 372.6h5M25.6 377.6h20M65.6 377.6h15M90.6 377.6h5M135.6 377.6h10M25.6 382.6h5M75.6 382.6h5M45.6 387.6h5M60.6 387.6h10M75.6 387.6h5M70.6 392.6h10M130.6 392.6h5M145.6 392.6h5M25.6 397.6h5M100.6 397.6h5M205.6 397.6h0.1M20.6 402.6h5M70.6 402.6h5M145.6 402.6h5M190.6 402.6h5" opacity="0.85"/>
<path stroke="#860908" stroke-width="3" d="M26.6 246.6h3M32.6 246.6h3M20.6 249.6h3M26.6 249.6h12M20.6 252.6h9M38.6 252.6h3M53.6 252.6h3M20.6 255.6h6M29.6 255.6h6M38.6 255.6h3M53.6 255.6h3M35.6 258.6h6M44.6 258.6h3M26.6 261.6h12M41.6 261.6h3M26.6 264.6h3M32.6 264.6h3M38.6 264.6h3M29.6 267.6h3M35.6 267.6h3M20.6 270.6h3M35.6 270.6h3M20.6 273.6h6M23.6 276.6h6M32.6 276.6h3M26.6 279.6h3M32.6 279.6h12M20.6 282.6h6M29.6 282.6h3M38.6 282.6h3M23.6 285.6h9M41.6 285.6h6M20.6 288.6h12M26.6 291.6h3M44.6 291.6h12M32.6 294.6h3M44.6 294.6h12M20.6 297.6h3M29.6 297.6h6M44.6 297.6h9M20.6 300.6h3M26.6 300.6h6M35.6 300.6h3M41.6 300.6h9M53.6 300.6h6M20.6 303.6h3M26.6 303.6h9M41.6 303.6h6M50.6 303.6h6M65.6 303.6h3M200.6 303.6h3M26.6 306.6h12M44.6 306.6h9M56.6 306.6h9M182.6 306.6h3M188.6 306.6h3M23.6 309.6h12M38.6 309.6h6M50.6 309.6h6M59.6 309.6h3M182.6 309.6h6M20.6 312.6h3M29.6 312.6h6M44.6 312.6h18M173.6 312.6h3M179.6 312.6h3M194.6 312.6h3M29.6 315.6h9M41.6 315.6h3M47.6 315.6h9M170.6 315.6h3M200.6 315.6h3M20.6 318.6h6M29.6 318.6h6M38.6 318.6h3M44.6 318.6h3M50.6 318.6h3M56.6 318.6h3M191.6 318.6h3M197.6 318.6h3M20.6 321.6h3M26.6 321.6h9M38.6 321.6h3M44.6 321.6h6M38.6 324.6h3M44.6 327.6h3M65.6 330.6h3M191.6 330.6h6M20.6 333.6h3M44.6 336.6h3M53.6 336.6h3M173.6 336.6h3M197.6 336.6h3M26.6 339.6h3M59.6 339.6h3M167.6 339.6h3M182.6 339.6h3M197.6 339.6h3M35.6 342.6h3M74.6 342.6h3M182.6 342.6h3M194.6 351.6h3M200.6 354.6h3M173.6 357.6h3M179.6 357.6h3M194.6 357.6h3M197.6 363.6h3"/>
<path stroke="#ed6315" stroke-width="3" d="M29.6 252.6h3M167.6 309.6h3M167.6 312.6h3M179.6 333.6h3M197.6 348.6h3M197.6 354.6h3M176.6 360.6h3"/>
<path stroke="#920c08" stroke-width="3" d="M32.6 252.6h3M26.6 255.6h3M20.6 261.6h3M29.6 270.6h3M41.6 276.6h3M20.6 279.6h3M44.6 279.6h3M20.6 291.6h3M20.6 294.6h3M26.6 297.6h3M53.6 297.6h3M50.6 300.6h3M47.6 303.6h3M59.6 303.6h3M38.6 306.6h6M53.6 306.6h3M65.6 306.6h3M35.6 309.6h3M47.6 309.6h3M47.6 318.6h3M32.6 330.6h3M191.6 336.6h3M161.6 339.6h3M185.6 351.6h3M173.6 354.6h3M179.6 354.6h3M194.6 369.6h3"/>
<path stroke="#eb5413" stroke-width="3" d="M35.6 255.6h3M32.6 285.6h3M23.6 291.6h3M203.6 306.6h2.1M23.6 312.6h3M35.6 318.6h3M173.6 330.6h3M185.6 336.6h3M101.6 345.6h3"/>
<path stroke="#f08e1e" stroke-width="3" d="M59.6 255.6h3M200.6 306.6h3"/>
<path stroke="#f09c22" stroke-width="3" d="M38.6 261.6h3M20.6 285.6h3M164.6 336.6h3M38.6 342.6h3M203.6 348.6h2.1M125.6 363.6h3"/>
<path stroke="#c6dd3d" stroke-width="3" d="M35.6 264.6h3M167.6 303.6h3M119.6 363.6h3"/>
<path stroke="#6fe069" stroke-width="3" d="M26.6 267.6h3"/>
<path stroke="#c31b09" stroke-width="3" d="M32.6 267.6h3M197.6 357.6h3"/>
<path stroke="#ce260b" stroke-width="3" d="M38.6 267.6h3M167.6 342.6h3"/>
<path stroke="#9de04f" stroke-width="3" d="M32.6 270.6h3"/>
<path stroke="#e8c530" stroke-width="3" d="M20.6 276.6h3M167.6 318.6h3M197.6 324.6h3"/>
<path stroke="#f07f1a" stroke-width="3" d="M35.6 276.6h3M56.6 297.6h3M98.6 354.6h3"/>
<path stroke="#d8300d" stroke-width="3" d="M23.6 279.6h3M44.6 309.6h3M26.6 315.6h3M194.6 324.6h3M179.6 348.6h3M194.6 360.6h3M170.6 363.6h3"/>
<path stroke="#e94611" stroke-width="3" d="M26.6 282.6h3M176.6 306.6h3M197.6 306.6h3M170.6 312.6h3M182.6 312.6h3M188.6 321.6h3M200.6 339.6h3M176.6 363.6h3"/>
<path stroke="#e23a0f" stroke-width="3" d="M23.6 294.6h3M59.6 297.6h3M59.6 300.6h3M188.6 309.6h3M203.6 312.6h2.1M164.6 321.6h3M176.6 321.6h3"/>
<path stroke="#d7da3a" stroke-width="3" d="M23.6 297.6h3M188.6 324.6h3"/>
<path stroke="#ab1308" stroke-width="3" d="M32.6 300.6h3M179.6 309.6h3"/>
<path stroke="#ef7117" stroke-width="3" d="M38.6 300.6h3M203.6 327.6h2.1M170.6 330.6h3M41.6 336.6h3M122.6 351.6h6"/>
<path stroke="#b81608" stroke-width="3" d="M62.6 303.6h3"/>
<path stroke="#b4e042" stroke-width="3" d="M191.6 309.6h3M44.6 315.6h3"/>
<path stroke="#f0ab26" stroke-width="3" d="M185.6 312.6h3M20.6 315.6h3M23.6 321.6h3"/>
<path stroke="#edb82b" stroke-width="3" d="M200.6 312.6h3M170.6 324.6h3"/>
<path stroke="#4082d9" stroke-width="3" d="M176.6 315.6h3"/>
<path stroke="#60db85" stroke-width="3" d="M41.6 318.6h3M200.6 363.6h3"/>
<path stroke="#4093dd" stroke-width="3" d="M170.6 318.6h3"/>
<path stroke="#40a3de" stroke-width="3" d="M176.6 318.6h3M197.6 330.6h3"/>
<path stroke="#51d6a2" stroke-width="3" d="M170.6 339.6h3M113.6 351.6h3M188.6 369.6h3"/>
<path stroke="#40c2c9" stroke-width="3" d="M98.6 351.6h3"/>
<path stroke="#e3d235" stroke-width="3" d="M101.6 357.6h3M203.6 360.6h2.1"/>
<path stroke="#86e05c" stroke-width="3" d="M119.6 360.6h3"/>
<path stroke="#920c08" stroke-width="2" d="M20.6 246.1h2M80.6 246.1h2M86.6 246.1h2M114.6 246.1h4M132.6 246.1h2M138.6 246.1h2M142.6 246.1h2M168.6 246.1h2M36.6 248.1h2M66.6 248.1h2M78.6 248.1h2M86.6 248.1h2M102.6 248.1h2M162.6 248.1h2M172.6 248.1h2M196.6 248.1h2M66.6 250.1h2M80.6 250.1h2M88.6 250.1h2M130.6 250.1h2M138.6 250.1h2M182.6 250.1h2M196.6 250.1h2M76.6 252.1h2M88.6 252.1h2M124.6 252.1h2M134.6 252.1h4M162.6 252.1h2M170.6 252.1h4M190.6 252.1h2M200.6 252.1h2M42.6 254.1h2M82.6 254.1h2M94.6 254.1h2M116.6 254.1h2M140.6 254.1h2M172.6 254.1h2M178.6 254.1h2M66.6 256.1h2M106.6 256.1h2M110.6 256.1h2M114.6 256.1h6M132.6 256.1h2M160.6 256.1h2M168.6 256.1h2M172.6 256.1h2M196.6 256.1h2M48.6 258.1h2M64.6 258.1h2M74.6 258.1h4M94.6 258.1h2M98.6 258.1h2M114.6 258.1h2M158.6 258.1h2M194.6 258.1h2M200.6 258.1h4M52.6 260.1h4M60.6 260.1h2M64.6 260.1h2M82.6 260.1h2M92.6 260.1h2M98.6 260.1h2M124.6 260.1h4M130.6 260.1h2M144.6 260.1h2M152.6 260.1h2M180.6 260.1h2M186.6 260.1h2M68.6 262.1h2M74.6 262.1h2M80.6 262.1h2M92.6 262.1h2M108.6 262.1h2M112.6 262.1h2M124.6 262.1h2M134.6 262.1h4M146.6 262.1h6M166.6 262.1h4M180.6 262.1h2M52.6 264.1h2M92.6 264.1h2M98.6 264.1h2M40.6 266.1h8M52.6 266.1h2M104.6 266.1h2M162.6 266.1h2M184.6 266.1h2M192.6 266.1h2M196.6 266.1h2M62.6 268.1h2M68.6 268.1h2M138.6 268.1h2M142.6 268.1h2M178.6 268.1h2M188.6 268.1h2M48.6 270.1h2M54.6 270.1h4M68.6 270.1h2M82.6 270.1h2M86.6 270.1h2M110.6 270.1h2M126.6 270.1h2M166.6 270.1h2M178.6 270.1h2M196.6 270.1h2M46.6 272.1h2M60.6 272.1h2M74.6 272.1h2M78.6 272.1h2M116.6 272.1h2M122.6 272.1h2M42.6 274.1h2M66.6 274.1h6M90.6 274.1h2M108.6 274.1h2M118.6 274.1h2M142.6 274.1h4M150.6 274.1h2M164.6 274.1h2M200.6 274.1h5.1M46.6 276.1h2M54.6 276.1h4M80.6 276.1h2M104.6 276.1h2M110.6 276.1h4M144.6 276.1h2M148.6 276.1h2M156.6 276.1h2M166.6 276.1h2M172.6 276.1h2M188.6 276.1h4M198.6 276.1h2M68.6 278.1h2M82.6 278.1h2M98.6 278.1h2M112.6 278.1h2M136.6 278.1h2M158.6 278.1h2M188.6 278.1h2M104.6 280.1h2M118.6 280.1h2M130.6 280.1h2M174.6 280.1h2M178.6 280.1h2M182.6 280.1h2M46.6 282.1h2M80.6 282.1h4M88.6 282.1h2M106.6 282.1h2M120.6 282.1h2M124.6 282.1h2M54.6 284.1h2M76.6 284.1h2M102.6 284.1h2M108.6 284.1h2M122.6 284.1h4M150.6 284.1h2M168.6 284.1h2M176.6 284.1h2M182.6 284.1h2M194.6 284.1h4M202.6 284.1h2M50.6 286.1h2M80.6 286.1h2M104.6 286.1h2M108.6 286.1h2M112.6 286.1h2M132.6 286.1h2M140.6 286.1h2M170.6 286.1h6M202.6 286.1h2M60.6 288.1h2M92.6 288.1h2M118.6 288.1h2M132.6 288.1h2M138.6 288.1h2M148.6 288.1h4M160.6 288.1h2M196.6 288.1h4M62.6 290.1h2M76.6 290.1h2M82.6 290.1h2M118.6 290.1h2M132.6 290.1h2M146.6 290.1h2M66.6 292.1h2M74.6 292.1h2M80.6 292.1h2M90.6 292.1h2M96.6 292.1h2M112.6 292.1h2M118.6 292.1h2M124.6 292.1h8M138.6 292.1h2M168.6 292.1h2M176.6 292.1h2M180.6 292.1h2M184.6 292.1h2M80.6 294.1h4M90.6 294.1h2M114.6 294.1h2M120.6 294.1h2M132.6 294.1h2M150.6 294.1h4M172.6 294.1h4M184.6 294.1h2M192.6 294.1h2M78.6 296.1h2M88.6 296.1h2M94.6 296.1h2M174.6 296.1h2M198.6 296.1h2M80.6 298.1h2M100.6 298.1h2M104.6 298.1h4M120.6 298.1h4M152.6 298.1h2M194.6 298.1h2M198.6 298.1h2M68.6 300.1h2M88.6 300.1h2M108.6 300.1h2M114.6 300.1h4M124.6 300.1h2M136.6 300.1h2M142.6 300.1h2M152.6 300.1h2M158.6 300.1h2M164.6 300.1h2M180.6 300.1h4M188.6 300.1h2M88.6 302.1h2M130.6 302.1h2M186.6 302.1h2M198.6 302.1h2M68.6 304.1h2M78.6 304.1h2M94.6 304.1h2M114.6 304.1h2M140.6 304.1h2M152.6 304.1h4M182.6 304.1h2M190.6 304.1h2M90.6 306.1h2M110.6 306.1h2M136.6 306.1h2M154.6 306.1h2M162.6 306.1h2M188.6 306.1h2M68.6 308.1h2M76.6 308.1h2M88.6 308.1h2M94.6 308.1h2M112.6 308.1h2M116.6 308.1h2M136.6 308.1h2M148.6 308.1h2M158.6 308.1h2M108.6 310.1h2M124.6 310.1h2M146.6 310.1h4M80.6 312.1h2M70.6 314.1h2M78.6 314.1h2M82.6 314.1h2M96.6 314.1h2M104.6 314.1h2M110.6 314.1h2M138.6 314.1h2M150.6 314.1h2M80.6 316.1h2M140.6 316.1h2M58.6 318.1h2M74.6 318.1h2M106.6 318.1h2M146.6 318.1h2M150.6 318.1h2M104.6 320.1h2M144.6 320.1h2M96.6 322.1h2M118.6 322.1h2M136.6 322.1h2M156.6 322.1h2M58.6 328.1h2M102.6 328.1h2M112.6 328.1h2M82.6 330.1h2M156.6 330.1h2M124.6 332.1h2M164.6 332.1h2M72.6 334.1h2M90.6 334.1h2M126.6 334.1h2M94.6 336.1h2M148.6 336.1h2M120.6 338.1h2M138.6 338.1h2M152.6 338.1h2M160.6 338.1h2M164.6 338.1h2M142.6 340.1h4M120.6 342.1h2M138.6 342.1h2M146.6 342.1h2M152.6 342.1h2M104.6 344.1h2M166.6 348.1h2M150.6 352.1h2M170.6 352.1h4M148.6 354.1h2M164.6 354.1h2M168.6 356.1h2M170.6 360.1h2M176.6 362.1h2M134.6 366.1h2M132.6 372.1h2M156.6 372.1h2M126.6 376.1h2M140.6 380.1h2M152.6 380.1h2M160.6 380.1h2M166.6 380.1h2M192.6 380.1h2M118.6 382.1h2M106.6 384.1h2M174.6 386.1h2M156.6 388.1h2M96.6 390.1h4M142.6 390.1h2M108.6 392.1h2M178.6 396.1h2M136.6 400.1h2"/>
<path stroke="#860908" stroke-width="2" d="M24.6 246.1h2M36.6 246.1h8M48.6 246.1h2M56.6 246.1h6M66.6 246.1h2M72.6 246.1h2M82.6 246.1h4M92.6 246.1h14M110.6 246.1h4M120.6 246.1h10M136.6 246.1h2M144.6 246.1h4M158.6 246.1h6M166.6 246.1h2M170.6 246.1h8M182.6 246.1h2M190.6 246.1h2M196.6 246.1h4M38.6 248.1h8M48.6 248.1h2M54.6 248.1h6M62.6 248.1h4M68.6 248.1h2M72.6 248.1h2M80.6 248.1h6M92.6 248.1h2M96.6 248.1h6M104.6 248.1h8M114.6 248.1h10M126.6 248.1h6M138.6 248.1h2M142.6 248.1h20M166.6 248.1h6M178.6 248.1h6M186.6 248.1h10M198.6 248.1h6M38.6 250.1h2M44.6 250.1h2M48.6 250.1h2M56.6 250.1h6M64.6 250.1h2M68.6 250.1h2M72.6 250.1h8M84.6 250.1h2M90.6 250.1h4M96.6 250.1h2M102.6 250.1h2M106.6 250.1h12M120.6 250.1h2M124.6 250.1h4M136.6 250.1h2M140.6 250.1h32M174.6 250.1h8M184.6 250.1h10M198.6 250.1h7.1M42.6 252.1h2M46.6 252.1h2M50.6 252.1h2M64.6 252.1h4M70.6 252.1h6M78.6 252.1h10M90.6 252.1h20M112.6 252.1h4M118.6 252.1h6M128.6 252.1h2M132.6 252.1h2M140.6 252.1h2M148.6 252.1h4M154.6 252.1h8M164.6 252.1h6M174.6 252.1h2M178.6 252.1h2M182.6 252.1h8M192.6 252.1h6M202.6 252.1h3.1M40.6 254.1h2M44.6 254.1h2M60.6 254.1h12M76.6 254.1h6M86.6 254.1h4M92.6 254.1h2M96.6 254.1h4M102.6 254.1h4M108.6 254.1h8M118.6 254.1h12M132.6 254.1h8M142.6 254.1h2M146.6 254.1h4M152.6 254.1h10M164.6 254.1h8M174.6 254.1h4M180.6 254.1h4M188.6 254.1h2M196.6 254.1h2M200.6 254.1h4M44.6 256.1h2M62.6 256.1h4M68.6 256.1h18M90.6 256.1h4M98.6 256.1h2M102.6 256.1h4M108.6 256.1h2M112.6 256.1h2M120.6 256.1h12M134.6 256.1h4M144.6 256.1h12M158.6 256.1h2M162.6 256.1h4M170.6 256.1h2M174.6 256.1h22M202.6 256.1h2M52.6 258.1h4M60.6 258.1h4M66.6 258.1h8M78.6 258.1h2M82.6 258.1h12M96.6 258.1h2M102.6 258.1h6M110.6 258.1h4M118.6 258.1h2M122.6 258.1h10M134.6 258.1h6M142.6 258.1h4M148.6 258.1h10M160.6 258.1h4M168.6 258.1h24M196.6 258.1h2M204.6 258.1h1.1M44.6 260.1h6M56.6 260.1h2M62.6 260.1h2M66.6 260.1h2M70.6 260.1h4M76.6 260.1h2M84.6 260.1h8M94.6 260.1h4M104.6 260.1h16M122.6 260.1h2M128.6 260.1h2M134.6 260.1h4M140.6 260.1h2M146.6 260.1h6M158.6 260.1h6M166.6 260.1h2M170.6 260.1h10M182.6 260.1h4M188.6 260.1h12M202.6 260.1h3.1M44.6 262.1h2M48.6 262.1h20M72.6 262.1h2M78.6 262.1h2M82.6 262.1h6M90.6 262.1h2M94.6 262.1h12M114.6 262.1h10M126.6 262.1h4M140.6 262.1h6M152.6 262.1h2M156.6 262.1h6M164.6 262.1h2M170.6 262.1h4M176.6 262.1h2M182.6 262.1h8M192.6 262.1h10M42.6 264.1h2M46.6 264.1h6M54.6 264.1h12M68.6 264.1h6M78.6 264.1h14M94.6 264.1h4M100.6 264.1h6M108.6 264.1h30M140.6 264.1h2M144.6 264.1h4M150.6 264.1h18M172.6 264.1h6M180.6 264.1h8M190.6 264.1h2M196.6 264.1h2M202.6 264.1h2M50.6 266.1h2M54.6 266.1h4M60.6 266.1h2M64.6 266.1h14M80.6 266.1h24M106.6 266.1h8M116.6 266.1h4M122.6 266.1h12M136.6 266.1h4M142.6 266.1h2M146.6 266.1h4M152.6 266.1h2M156.6 266.1h2M160.6 266.1h2M166.6 266.1h2M170.6 266.1h14M186.6 266.1h6M198.6 266.1h4M40.6 268.1h12M56.6 268.1h6M64.6 268.1h4M74.6 268.1h6M82.6 268.1h14M100.6 268.1h14M116.6 268.1h2M120.6 268.1h4M126.6 268.1h8M136.6 268.1h2M144.6 268.1h8M156.6 268.1h2M160.6 268.1h4M166.6 268.1h2M176.6 268.1h2M180.6 268.1h8M190.6 268.1h2M194.6 268.1h11.1M40.6 270.1h2M44.6 270.1h4M52.6 270.1h2M58.6 270.1h4M64.6 270.1h4M72.6 270.1h10M84.6 270.1h2M88.6 270.1h10M100.6 270.1h4M106.6 270.1h4M114.6 270.1h4M120.6 270.1h4M128.6 270.1h2M132.6 270.1h22M156.6 270.1h6M164.6 270.1h2M168.6 270.1h10M184.6 270.1h6M198.6 270.1h2M202.6 270.1h2M36.6 272.1h2M40.6 272.1h6M48.6 272.1h12M62.6 272.1h12M76.6 272.1h2M80.6 272.1h4M88.6 272.1h6M96.6 272.1h20M118.6 272.1h4M124.6 272.1h2M128.6 272.1h4M134.6 272.1h4M140.6 272.1h4M150.6 272.1h34M188.6 272.1h8M198.6 272.1h7.1M44.6 274.1h22M72.6 274.1h4M78.6 274.1h2M82.6 274.1h2M86.6 274.1h4M96.6 274.1h12M112.6 274.1h6M120.6 274.1h8M130.6 274.1h12M146.6 274.1h4M152.6 274.1h10M166.6 274.1h6M174.6 274.1h6M182.6 274.1h2M186.6 274.1h6M194.6 274.1h2M36.6 276.1h2M40.6 276.1h6M48.6 276.1h4M58.6 276.1h8M68.6 276.1h6M76.6 276.1h4M82.6 276.1h8M92.6 276.1h8M106.6 276.1h4M114.6 276.1h6M122.6 276.1h2M126.6 276.1h2M130.6 276.1h14M150.6 276.1h2M154.6 276.1h2M158.6 276.1h8M170.6 276.1h2M174.6 276.1h8M184.6 276.1h4M192.6 276.1h6M200.6 276.1h4M38.6 278.1h2M44.6 278.1h10M58.6 278.1h10M70.6 278.1h2M76.6 278.1h6M84.6 278.1h4M90.6 278.1h8M100.6 278.1h6M108.6 278.1h2M114.6 278.1h2M118.6 278.1h4M126.6 278.1h8M138.6 278.1h20M160.6 278.1h2M164.6 278.1h4M170.6 278.1h2M176.6 278.1h6M186.6 278.1h2M190.6 278.1h10M202.6 278.1h2M44.6 280.1h2M48.6 280.1h18M68.6 280.1h18M92.6 280.1h12M106.6 280.1h4M112.6 280.1h6M122.6 280.1h8M132.6 280.1h20M156.6 280.1h12M170.6 280.1h2M176.6 280.1h2M180.6 280.1h2M184.6 280.1h6M192.6 280.1h10M48.6 282.1h12M62.6 282.1h16M84.6 282.1h2M90.6 282.1h12M104.6 282.1h2M108.6 282.1h4M114.6 282.1h6M126.6 282.1h6M138.6 282.1h10M150.6 282.1h6M158.6 282.1h12M172.6 282.1h10M184.6 282.1h14M200.6 282.1h2M44.6 284.1h10M56.6 284.1h2M60.6 284.1h10M72.6 284.1h4M78.6 284.1h22M104.6 284.1h4M110.6 284.1h6M118.6 284.1h4M128.6 284.1h12M142.6 284.1h6M152.6 284.1h2M156.6 284.1h12M170.6 284.1h2M174.6 284.1h2M180.6 284.1h2M184.6 284.1h10M198.6 284.1h4M52.6 286.1h28M82.6 286.1h4M88.6 286.1h4M94.6 286.1h2M98.6 286.1h6M106.6 286.1h2M110.6 286.1h2M114.6 286.1h18M134.6 286.1h2M138.6 286.1h2M142.6 286.1h8M152.6 286.1h2M156.6 286.1h6M164.6 286.1h6M176.6 286.1h4M182.6 286.1h2M188.6 286.1h12M204.6 286.1h1.1M54.6 288.1h4M64.6 288.1h14M80.6 288.1h6M88.6 288.1h4M94.6 288.1h18M116.6 288.1h2M120.6 288.1h4M126.6 288.1h4M134.6 288.1h4M140.6 288.1h6M154.6 288.1h6M166.6 288.1h6M174.6 288.1h8M184.6 288.1h8M194.6 288.1h2M56.6 290.1h6M64.6 290.1h6M72.6 290.1h2M78.6 290.1h4M84.6 290.1h32M120.6 290.1h12M134.6 290.1h4M140.6 290.1h6M148.6 290.1h4M154.6 290.1h6M162.6 290.1h2M166.6 290.1h12M180.6 290.1h8M190.6 290.1h6M198.6 290.1h2M56.6 292.1h4M64.6 292.1h2M68.6 292.1h2M72.6 292.1h2M76.6 292.1h4M82.6 292.1h2M86.6 292.1h4M92.6 292.1h4M98.6 292.1h10M110.6 292.1h2M114.6 292.1h4M120.6 292.1h4M132.6 292.1h2M136.6 292.1h2M140.6 292.1h2M144.6 292.1h10M160.6 292.1h8M170.6 292.1h6M178.6 292.1h2M186.6 292.1h19.1M60.6 294.1h2M68.6 294.1h2M72.6 294.1h8M86.6 294.1h4M92.6 294.1h20M116.6 294.1h2M124.6 294.1h8M134.6 294.1h10M146.6 294.1h2M154.6 294.1h14M170.6 294.1h2M176.6 294.1h8M186.6 294.1h2M190.6 294.1h2M196.6 294.1h6M64.6 296.1h4M70.6 296.1h8M80.6 296.1h2M86.6 296.1h2M90.6 296.1h4M96.6 296.1h6M104.6 296.1h2M108.6 296.1h34M146.6 296.1h28M176.6 296.1h10M188.6 296.1h10M200.6 296.1h4M66.6 298.1h6M74.6 298.1h6M82.6 298.1h10M94.6 298.1h2M98.6 298.1h2M102.6 298.1h2M108.6 298.1h12M124.6 298.1h2M128.6 298.1h12M142.6 298.1h8M156.6 298.1h10M168.6 298.1h2M172.6 298.1h6M182.6 298.1h4M188.6 298.1h4M200.6 298.1h4M62.6 300.1h6M70.6 300.1h18M90.6 300.1h10M104.6 300.1h4M110.6 300.1h4M118.6 300.1h6M126.6 300.1h2M132.6 300.1h4M138.6 300.1h4M144.6 300.1h2M148.6 300.1h4M156.6 300.1h2M160.6 300.1h2M166.6 300.1h2M170.6 300.1h10M184.6 300.1h4M190.6 300.1h10M64.6 302.1h16M82.6 302.1h6M90.6 302.1h6M98.6 302.1h24M126.6 302.1h4M132.6 302.1h6M142.6 302.1h12M156.6 302.1h4M162.6 302.1h8M172.6 302.1h2M176.6 302.1h8M190.6 302.1h6M200.6 302.1h4M66.6 304.1h2M70.6 304.1h6M82.6 304.1h2M86.6 304.1h8M96.6 304.1h18M116.6 304.1h4M124.6 304.1h2M128.6 304.1h4M134.6 304.1h6M142.6 304.1h4M148.6 304.1h4M156.6 304.1h8M166.6 304.1h10M186.6 304.1h4M204.6 304.1h1.1M64.6 306.1h6M72.6 306.1h8M84.6 306.1h6M92.6 306.1h8M104.6 306.1h4M112.6 306.1h2M116.6 306.1h2M122.6 306.1h2M126.6 306.1h2M132.6 306.1h4M138.6 306.1h12M152.6 306.1h2M156.6 306.1h6M164.6 306.1h2M168.6 306.1h4M174.6 306.1h2M178.6 306.1h2M190.6 306.1h2M196.6 306.1h2M66.6 308.1h2M72.6 308.1h4M78.6 308.1h10M90.6 308.1h4M96.6 308.1h8M118.6 308.1h4M126.6 308.1h4M132.6 308.1h2M138.6 308.1h2M144.6 308.1h4M150.6 308.1h2M154.6 308.1h4M162.6 308.1h6M170.6 308.1h2M64.6 310.1h28M94.6 310.1h10M114.6 310.1h4M120.6 310.1h2M140.6 310.1h2M144.6 310.1h2M152.6 310.1h4M162.6 310.1h2M168.6 310.1h2M62.6 312.1h2M66.6 312.1h2M70.6 312.1h8M84.6 312.1h6M92.6 312.1h6M104.6 312.1h2M110.6 312.1h2M120.6 312.1h2M128.6 312.1h2M134.6 312.1h2M140.6 312.1h2M146.6 312.1h2M150.6 312.1h2M154.6 312.1h12M60.6 314.1h2M64.6 314.1h6M72.6 314.1h4M80.6 314.1h2M84.6 314.1h8M106.6 314.1h4M116.6 314.1h2M122.6 314.1h2M130.6 314.1h2M144.6 314.1h2M154.6 314.1h2M158.6 314.1h6M58.6 316.1h2M62.6 316.1h4M68.6 316.1h12M84.6 316.1h4M102.6 316.1h2M108.6 316.1h6M116.6 316.1h4M126.6 316.1h2M130.6 316.1h2M160.6 316.1h2M66.6 318.1h6M78.6 318.1h8M90.6 318.1h4M110.6 318.1h2M114.6 318.1h2M120.6 318.1h2M130.6 318.1h4M152.6 318.1h2M164.6 318.1h2M64.6 320.1h2M68.6 320.1h2M72.6 320.1h6M80.6 320.1h8M102.6 320.1h2M108.6 320.1h2M112.6 320.1h2M122.6 320.1h2M130.6 320.1h2M150.6 320.1h2M50.6 322.1h2M56.6 322.1h2M66.6 322.1h2M72.6 322.1h2M80.6 322.1h10M94.6 322.1h2M106.6 322.1h2M116.6 322.1h2M120.6 322.1h2M124.6 322.1h2M130.6 322.1h2M142.6 322.1h8M152.6 322.1h2M160.6 322.1h2M46.6 324.1h2M82.6 324.1h2M108.6 324.1h2M116.6 324.1h4M130.6 324.1h4M136.6 324.1h6M148.6 324.1h2M158.6 324.1h2M166.6 324.1h2M54.6 326.1h2M58.6 326.1h2M74.6 326.1h2M82.6 326.1h6M100.6 326.1h4M108.6 326.1h4M116.6 326.1h2M120.6 326.1h2M124.6 326.1h4M138.6 326.1h2M144.6 326.1h2M92.6 328.1h2M130.6 328.1h4M150.6 328.1h2M164.6 328.1h2M60.6 330.1h2M66.6 330.1h2M74.6 330.1h2M84.6 330.1h10M112.6 330.1h2M128.6 330.1h2M154.6 330.1h2M164.6 330.1h4M66.6 332.1h4M74.6 332.1h2M88.6 332.1h2M98.6 332.1h2M104.6 332.1h6M120.6 332.1h2M132.6 332.1h2M138.6 332.1h2M144.6 332.1h6M152.6 332.1h4M160.6 332.1h4M84.6 334.1h2M94.6 334.1h2M108.6 334.1h2M120.6 334.1h2M124.6 334.1h2M142.6 334.1h2M160.6 334.1h2M84.6 336.1h2M112.6 336.1h2M118.6 336.1h2M138.6 336.1h6M160.6 336.1h4M90.6 338.1h2M98.6 338.1h2M110.6 338.1h4M118.6 338.1h2M124.6 338.1h2M130.6 338.1h2M134.6 338.1h2M140.6 338.1h2M154.6 338.1h4M88.6 340.1h2M98.6 340.1h6M110.6 340.1h2M114.6 340.1h2M120.6 340.1h2M124.6 340.1h2M134.6 340.1h4M140.6 340.1h2M152.6 340.1h4M108.6 342.1h2M116.6 342.1h2M134.6 342.1h4M142.6 342.1h2M158.6 342.1h2M126.6 344.1h2M144.6 344.1h4M154.6 344.1h2M160.6 344.1h2M118.6 346.1h2M132.6 346.1h2M136.6 346.1h2M132.6 348.1h2M152.6 348.1h2M162.6 350.1h2M168.6 350.1h2M156.6 352.1h2M168.6 354.1h2M168.6 358.1h2M144.6 362.1h2M176.6 368.1h2M134.6 370.1h2M102.6 372.1h2M188.6 372.1h2M142.6 374.1h2M106.6 376.1h4M130.6 376.1h2M178.6 376.1h2M104.6 378.1h2M150.6 378.1h2M162.6 378.1h2M202.6 378.1h2M136.6 382.1h2M160.6 382.1h2M166.6 386.1h2M130.6 388.1h2M158.6 388.1h4M102.6 392.1h2M106.6 392.1h2M96.6 394.1h2M102.6 394.1h2M142.6 394.1h2M136.6 396.1h2M132.6 398.1h2M114.6 402.1h2M146.6 402.1h2M160.6 402.1h2"/>
<path stroke="#c31b09" stroke-width="2" d="M46.6 246.1h2M40.6 252.1h2M88.6 256.1h2M198.6 256.1h2M140.6 258.1h2M194.6 264.1h2M172.6 268.1h2M112.6 270.1h2M84.6 274.1h2M112.6 282.1h2M84.6 296.1h2M106.6 296.1h2M100.6 300.1h2M130.6 308.1h2M122.6 310.1h2M136.6 310.1h2M114.6 314.1h2M156.6 350.1h2M190.6 380.1h2M132.6 386.1h2"/>
<path stroke="#e8c530" stroke-width="2" d="M64.6 246.1h2M148.6 246.1h2M60.6 248.1h2M166.6 256.1h2M108.6 258.1h2M114.6 266.1h2M158.6 266.1h2M152.6 268.1h2M196.6 272.1h2M66.6 276.1h2M154.6 280.1h2M172.6 284.1h2M96.6 298.1h2M184.6 302.1h2M146.6 304.1h2M106.6 308.1h2M118.6 312.1h2M122.6 312.1h2M130.6 312.1h2M100.6 314.1h2M104.6 316.1h2M124.6 316.1h2M132.6 316.1h2M124.6 318.1h2M142.6 320.1h2M118.6 326.1h2M124.6 328.1h2M138.6 328.1h2M96.6 330.1h2M124.6 330.1h2M132.6 330.1h2M138.6 330.1h2M152.6 330.1h2M162.6 330.1h2M130.6 332.1h2M106.6 336.1h2M128.6 336.1h2M152.6 336.1h2M114.6 338.1h2M108.6 340.1h2M122.6 340.1h2M148.6 342.1h4M162.6 342.1h2M122.6 344.1h2M150.6 344.1h2M154.6 346.1h2M142.6 354.1h2M192.6 356.1h2M168.6 362.1h2M184.6 364.1h2M134.6 368.1h2M174.6 370.1h2M184.6 370.1h2M118.6 372.1h2M178.6 372.1h2M196.6 372.1h2M180.6 374.1h2M148.6 378.1h2M166.6 378.1h2M158.6 380.1h2M182.6 380.1h2M162.6 382.1h2M198.6 382.1h2M154.6 386.1h2M170.6 386.1h2M146.6 390.1h2M160.6 390.1h4M112.6 392.1h2M146.6 394.1h2M100.6 396.1h2M200.6 400.1h2M106.6 402.1h2M134.6 402.1h2"/>
<path stroke="#ef7117" stroke-width="2" d="M78.6 246.1h2M76.6 248.1h2M70.6 250.1h2M110.6 252.1h2M116.6 252.1h2M180.6 252.1h2M100.6 254.1h2M138.6 256.1h2M174.6 262.1h2M148.6 264.1h2M72.6 268.1h2M124.6 270.1h2M84.6 272.1h2M146.6 272.1h2M100.6 276.1h2M128.6 276.1h2M146.6 276.1h2M184.6 278.1h2M154.6 292.1h2M142.6 296.1h2M64.6 298.1h2M72.6 298.1h2M168.6 300.1h2M104.6 308.1h2M118.6 310.1h2M138.6 310.1h2M164.6 310.1h2M112.6 312.1h2M92.6 314.1h4M118.6 314.1h2M142.6 314.1h2M162.6 318.1h2M90.6 320.1h2M42.6 322.1h2M146.6 324.1h2M156.6 324.1h2M104.6 326.1h2M98.6 328.1h2M160.6 328.1h2M110.6 330.1h2M102.6 332.1h2M142.6 332.1h2M106.6 334.1h2M100.6 338.1h2M122.6 338.1h2M130.6 340.1h2M122.6 342.1h2M168.6 346.1h2M140.6 350.1h2M160.6 350.1h2M162.6 356.1h2M142.6 358.1h2M162.6 358.1h2M184.6 362.1h2M200.6 362.1h2M142.6 364.1h2M160.6 364.1h2M114.6 374.1h2M162.6 374.1h2M130.6 378.1h2M184.6 378.1h2M170.6 382.1h2M98.6 384.1h2M152.6 388.1h2M180.6 388.1h2M96.6 392.1h2M142.6 392.1h2M114.6 398.1h2M166.6 398.1h2M154.6 402.1h2"/>
<path stroke="#f08e1e" stroke-width="2" d="M88.6 246.1h2M40.6 250.1h2M84.6 254.1h2M190.6 254.1h2M198.6 258.1h2M88.6 262.1h2M132.6 262.1h2M168.6 264.1h2M154.6 266.1h2M96.6 268.1h2M182.6 276.1h2M54.6 278.1h2M190.6 280.1h2M86.6 282.1h2M62.6 288.1h2M178.6 290.1h2M156.6 292.1h2M64.6 294.1h2M188.6 294.1h2M158.6 310.1h2M98.6 312.1h2M136.6 312.1h2M112.6 314.1h2M110.6 320.1h2M92.6 322.1h2M158.6 322.1h2M52.6 324.1h2M120.6 324.1h2M126.6 324.1h2M134.6 324.1h2M144.6 324.1h2M160.6 324.1h2M90.6 326.1h2M148.6 326.1h2M160.6 326.1h2M68.6 328.1h2M122.6 328.1h2M104.6 330.1h2M126.6 330.1h2M146.6 330.1h2M140.6 334.1h2M120.6 336.1h2M106.6 340.1h2M158.6 340.1h2M124.6 342.1h2M150.6 354.1h2M176.6 354.1h2M196.6 364.1h2M140.6 366.1h2M132.6 368.1h2M152.6 368.1h2M178.6 368.1h2M100.6 372.1h2M166.6 372.1h2M172.6 384.1h2M150.6 386.1h2M98.6 388.1h2M172.6 388.1h2M116.6 390.1h2M190.6 392.1h2M106.6 394.1h2M134.6 398.1h2M138.6 398.1h2M158.6 400.1h2M138.6 402.1h2M118.6 404.1h2M130.6 404.1h2"/>
<path stroke="#ce260b" stroke-width="2" d="M106.6 246.1h4M192.6 246.1h2M184.6 254.1h2M192.6 254.1h2M120.6 258.1h2M132.6 258.1h2M192.6 258.1h2M138.6 264.1h2M174.6 268.1h2M70.6 270.1h2M38.6 274.1h2M56.6 278.1h2M172.6 278.1h2M86.6 288.1h2M70.6 290.1h2M70.6 292.1h2M92.6 298.1h2M150.6 298.1h2M178.6 298.1h2M154.6 300.1h2M70.6 306.1h2M124.6 308.1h2M102.6 324.1h2M132.6 326.1h2M118.6 332.1h2M156.6 340.1h2M190.6 374.1h2M180.6 376.1h2M162.6 396.1h2"/>
<path stroke="#e23a0f" stroke-width="2" d="M202.6 246.1h2M70.6 248.1h2M124.6 248.1h2M98.6 250.1h2M130.6 254.1h2M142.6 256.1h2M200.6 256.1h2M164.6 258.1h2M164.6 260.1h2M178.6 262.1h2M106.6 264.1h2M170.6 264.1h2M144.6 266.1h2M168.6 266.1h2M194.6 266.1h2M80.6 268.1h2M140.6 268.1h2M62.6 270.1h2M104.6 270.1h2M118.6 270.1h2M182.6 270.1h2M86.6 272.1h2M128.6 274.1h2M198.6 274.1h2M74.6 276.1h2M72.6 278.1h2M110.6 278.1h2M66.6 280.1h2M110.6 280.1h2M172.6 280.1h2M100.6 284.1h2M148.6 284.1h2M96.6 286.1h2M200.6 286.1h2M74.6 290.1h2M160.6 290.1h2M200.6 290.1h2M84.6 294.1h2M118.6 294.1h2M82.6 296.1h2M180.6 298.1h2M204.6 298.1h1.1M128.6 300.1h2M138.6 302.1h2M76.6 304.1h2M132.6 304.1h2M80.6 306.1h2M106.6 310.1h2M108.6 312.1h2M164.6 316.1h2M72.6 318.1h2M98.6 318.1h2M124.6 320.1h2M122.6 324.1h2M92.6 326.1h2M112.6 326.1h2M140.6 328.1h2M152.6 328.1h2M160.6 330.1h2M110.6 336.1h2M156.6 336.1h4M158.6 338.1h2M110.6 344.1h2M166.6 344.1h2M146.6 346.1h2M156.6 346.1h2M142.6 348.1h2M152.6 358.1h2M142.6 370.1h2M110.6 376.1h2M202.6 376.1h2M168.6 386.1h2M174.6 388.1h2M174.6 394.1h2"/>
<path stroke="#c6dd3d" stroke-width="2" d="M88.6 248.1h2M102.6 260.1h2M188.6 264.1h2M192.6 264.1h2M200.6 264.1h2M164.6 266.1h2M158.6 268.1h2M92.6 274.1h2M182.6 282.1h2M146.6 300.1h2M108.6 306.1h2M142.6 312.1h2M146.6 314.1h2M134.6 316.1h2M156.6 316.1h2M120.6 320.1h2M114.6 322.1h2M128.6 326.1h2M134.6 326.1h2M154.6 326.1h2M70.6 330.1h2M98.6 330.1h2M126.6 332.1h2M114.6 334.1h2M126.6 336.1h2M148.6 338.1h2M112.6 342.1h2M130.6 342.1h2M140.6 346.1h2M154.6 352.1h2M176.6 364.1h2M200.6 364.1h2M196.6 366.1h2M162.6 368.1h2M104.6 372.1h2M120.6 372.1h2M134.6 372.1h2M154.6 372.1h2M98.6 374.1h2M176.6 374.1h2M142.6 376.1h2M170.6 376.1h2M158.6 378.1h2M178.6 380.1h2M108.6 384.1h2M144.6 386.1h2M150.6 390.1h2M160.6 392.1h2M100.6 400.1h2M118.6 402.1h2"/>
<path stroke="#ed6315" stroke-width="2" d="M112.6 248.1h2M42.6 250.1h2M62.6 250.1h2M128.6 250.1h2M130.6 252.1h2M72.6 254.1h2M58.6 258.1h2M166.6 258.1h2M168.6 260.1h2M162.6 262.1h2M70.6 268.1h2M94.6 272.1h2M126.6 272.1h2M162.6 274.1h2M184.6 274.1h2M102.6 276.1h2M152.6 276.1h2M42.6 278.1h2M60.6 282.1h2M58.6 284.1h2M116.6 284.1h2M148.6 294.1h2M80.6 304.1h2M102.6 306.1h2M110.6 308.1h2M114.6 312.1h2M128.6 314.1h2M148.6 314.1h2M120.6 316.1h2M128.6 316.1h2M108.6 318.1h2M118.6 318.1h2M128.6 318.1h2M112.6 322.1h2M132.6 322.1h2M150.6 322.1h2M92.6 324.1h2M98.6 324.1h2M94.6 326.1h2M100.6 328.1h2M60.6 334.1h2M98.6 336.1h2M104.6 340.1h2M128.6 340.1h2M110.6 342.1h2M160.6 342.1h2M132.6 344.1h2M126.6 348.1h2M154.6 354.1h2M200.6 360.1h2M176.6 370.1h2M128.6 376.1h2M138.6 380.1h2M154.6 380.1h2M162.6 380.1h2M128.6 382.1h2M156.6 382.1h2M194.6 382.1h2M156.6 390.1h2M172.6 398.1h2M116.6 400.1h2"/>
<path stroke="#6fe069" stroke-width="2" d="M136.6 248.1h2M76.6 262.1h2M154.6 262.1h2M164.6 268.1h2M154.6 284.1h2M146.6 288.1h2M152.6 290.1h2M62.6 292.1h2M132.6 310.1h2M106.6 312.1h2M156.6 314.1h2M126.6 318.1h2M84.6 328.1h2M126.6 328.1h2M136.6 328.1h2M102.6 330.1h2M134.6 330.1h2M140.6 330.1h2M150.6 330.1h2M100.6 334.1h2M128.6 334.1h2M138.6 334.1h2M164.6 334.1h2M104.6 336.1h2M116.6 336.1h2M150.6 340.1h2M164.6 346.1h2M146.6 348.1h2M158.6 348.1h2M138.6 352.1h2M160.6 354.1h2M166.6 356.1h2M172.6 356.1h2M166.6 360.1h2M190.6 364.1h2M186.6 366.1h2M198.6 366.1h2M100.6 370.1h2M162.6 370.1h2M204.6 372.1h1.1M168.6 374.1h2M196.6 374.1h2M120.6 378.1h2M168.6 378.1h2M124.6 380.1h2M128.6 380.1h2M134.6 380.1h2M164.6 382.1h2M156.6 384.1h2M170.6 384.1h2M102.6 386.1h2M160.6 386.1h2M100.6 388.1h2M132.6 388.1h2M162.6 388.1h2M184.6 388.1h2M134.6 390.1h2M154.6 390.1h2M200.6 392.1h2M124.6 394.1h2M144.6 394.1h2M188.6 394.1h2M138.6 396.1h2M106.6 398.1h2M140.6 398.1h2M110.6 400.1h2M128.6 400.1h2M132.6 400.1h2M128.6 402.1h2M168.6 402.1h2"/>
<path stroke="#eb5413" stroke-width="2" d="M164.6 248.1h2M118.6 250.1h2M198.6 252.1h2M94.6 256.1h2M140.6 256.1h2M46.6 258.1h2M116.6 258.1h2M58.6 260.1h2M68.6 260.1h2M100.6 260.1h2M132.6 260.1h2M42.6 262.1h2M130.6 262.1h2M178.6 264.1h2M150.6 266.1h2M192.6 270.1h2M138.6 272.1h2M80.6 274.1h2M94.6 274.1h2M180.6 274.1h2M200.6 278.1h2M88.6 280.1h2M202.6 280.1h2M130.6 288.1h2M202.6 288.1h2M122.6 294.1h2M130.6 300.1h2M196.6 302.1h2M84.6 304.1h2M114.6 306.1h2M108.6 308.1h2M104.6 310.1h2M150.6 310.1h2M90.6 312.1h2M148.6 312.1h2M122.6 318.1h2M98.6 320.1h2M88.6 326.1h2M128.6 328.1h2M142.6 330.1h2M150.6 332.1h2M98.6 334.1h2M116.6 334.1h2M96.6 336.1h2M130.6 344.1h2M156.6 348.1h2M158.6 352.1h2M144.6 354.1h2M162.6 354.1h2M194.6 358.1h2M154.6 360.1h2M188.6 360.1h2M178.6 362.1h2M186.6 362.1h2M146.6 368.1h2M164.6 368.1h2M158.6 370.1h2M162.6 372.1h2M118.6 374.1h2M140.6 388.1h2M110.6 390.1h2M112.6 400.1h2M178.6 400.1h2"/>
<path stroke="#ab1308" stroke-width="2" d="M184.6 248.1h2M90.6 254.1h2M134.6 328.1h2M136.6 354.1h2M158.6 368.1h2M194.6 370.1h2M124.6 374.1h2M134.6 378.1h2M178.6 392.1h2"/>
<path stroke="#edb82b" stroke-width="2" d="M82.6 250.1h2M68.6 252.1h2M146.6 258.1h2M138.6 262.1h2M148.6 272.1h2M136.6 282.1h2M46.6 286.1h2M66.6 294.1h2M110.6 310.1h2M68.6 312.1h2M94.6 316.1h2M136.6 316.1h2M114.6 320.1h2M128.6 320.1h2M136.6 320.1h2M140.6 320.1h2M126.6 322.1h2M94.6 324.1h2M140.6 326.1h4M148.6 328.1h2M144.6 330.1h2M136.6 332.1h2M102.6 334.1h2M132.6 334.1h2M144.6 334.1h2M158.6 334.1h2M150.6 336.1h2M116.6 338.1h2M156.6 342.1h2M106.6 344.1h2M114.6 344.1h2M118.6 344.1h2M140.6 344.1h2M138.6 348.1h2M166.6 358.1h2M140.6 364.1h2M186.6 364.1h2M160.6 366.1h2M172.6 368.1h2M180.6 368.1h2M198.6 370.1h2M182.6 374.1h2M152.6 376.1h2M176.6 376.1h2M182.6 376.1h2M194.6 376.1h2M192.6 378.1h2M170.6 380.1h2M204.6 380.1h1.1M188.6 382.1h2M138.6 384.1h2M188.6 384.1h4M110.6 388.1h2M178.6 388.1h2M142.6 396.1h2M104.6 398.1h2M170.6 398.1h2M140.6 400.1h2M98.6 404.1h2M176.6 404.1h2"/>
<path stroke="#f0ab26" stroke-width="2" d="M86.6 250.1h2M176.6 252.1h2M100.6 258.1h2M106.6 262.1h2M142.6 264.1h2M202.6 266.1h2M152.6 280.1h2M204.6 280.1h1.1M70.6 284.1h2M126.6 284.1h2M178.6 284.1h2M86.6 286.1h2M58.6 288.1h2M196.6 290.1h2M102.6 296.1h2M164.6 304.1h2M70.6 308.1h2M134.6 308.1h2M78.6 312.1h2M102.6 314.1h2M134.6 314.1h2M148.6 316.1h2M100.6 318.1h2M158.6 320.1h2M166.6 320.1h2M134.6 322.1h2M84.6 324.1h4M60.6 326.1h2M94.6 328.1h2M120.6 328.1h2M116.6 330.1h4M152.6 334.1h2M154.6 336.1h2M138.6 340.1h2M106.6 342.1h2M158.6 350.1h2M194.6 364.1h2M100.6 368.1h2M136.6 368.1h2M186.6 368.1h4M158.6 374.1h2M102.6 376.1h2M136.6 376.1h2M162.6 376.1h2M194.6 380.1h2M108.6 382.1h2M164.6 384.1h2M96.6 386.1h2M112.6 386.1h2M188.6 386.1h2M120.6 388.1h2M98.6 392.1h2M176.6 392.1h2M182.6 392.1h2M170.6 394.1h2M190.6 394.1h2M102.6 398.1h2M120.6 400.1h2M112.6 402.1h2M126.6 402.1h2M110.6 404.1h2"/>
<path stroke="#b81608" stroke-width="2" d="M94.6 250.1h2M134.6 250.1h2M118.6 268.1h2M98.6 270.1h2M90.6 276.1h2M78.6 288.1h2M76.6 314.1h2M174.6 358.1h2M166.6 382.1h2M140.6 396.1h2"/>
<path stroke="#f07f1a" stroke-width="2" d="M100.6 250.1h2M142.6 252.1h2M74.6 260.1h2M46.6 262.1h2M50.6 270.1h2M154.6 270.1h2M110.6 274.1h2M162.6 278.1h2M78.6 282.1h2M134.6 282.1h2M180.6 286.1h2M52.6 288.1h2M114.6 288.1h2M134.6 292.1h2M160.6 302.1h2M126.6 304.1h2M82.6 306.1h2M158.6 316.1h2M94.6 318.1h2M94.6 320.1h2M134.6 320.1h2M122.6 322.1h2M110.6 324.1h2M150.6 324.1h2M162.6 324.1h2M98.6 326.1h2M88.6 328.1h2M94.6 330.1h2M106.6 330.1h2M114.6 330.1h2M130.6 330.1h2M114.6 336.1h2M136.6 336.1h2M162.6 340.1h2M152.6 344.1h2M162.6 344.1h2M154.6 348.1h2M168.6 352.1h2M158.6 356.1h2M176.6 356.1h2M158.6 358.1h2M164.6 364.1h2M202.6 368.1h2M200.6 370.1h2M138.6 372.1h2M152.6 374.1h2M174.6 374.1h2M112.6 378.1h2M128.6 378.1h2M154.6 384.1h2M192.6 384.1h2M104.6 396.1h2M112.6 396.1h2M172.6 396.1h2M130.6 398.1h2M152.6 400.1h2"/>
<path stroke="#e3d235" stroke-width="2" d="M122.6 250.1h2M120.6 260.1h2M62.6 266.1h2M78.6 266.1h2M202.6 282.1h2M140.6 284.1h2M84.6 292.1h2M200.6 300.1h4M80.6 302.1h2M126.6 314.1h2M136.6 314.1h2M140.6 314.1h2M66.6 316.1h2M154.6 316.1h2M140.6 318.1h4M148.6 318.1h2M154.6 318.1h2M154.6 320.1h2M160.6 320.1h2M98.6 322.1h2M158.6 326.1h2M146.6 328.1h2M68.6 330.1h2M72.6 330.1h2M114.6 332.1h2M156.6 334.1h2M144.6 336.1h2M102.6 342.1h2M156.6 344.1h2M148.6 348.1h2M182.6 358.1h2M196.6 362.1h2M192.6 368.1h2M156.6 370.1h2M170.6 370.1h2M150.6 372.1h2M170.6 374.1h2M178.6 374.1h2M200.6 374.1h2M106.6 378.1h2M122.6 382.1h2M154.6 382.1h2M118.6 386.1h2M144.6 388.1h2M106.6 390.1h2M132.6 392.1h2M104.6 394.1h2M182.6 394.1h2M200.6 394.1h2M122.6 398.1h2M118.6 400.1h2M202.6 400.1h2M102.6 402.1h2M174.6 402.1h2"/>
<path stroke="#f09c22" stroke-width="2" d="M172.6 250.1h2M138.6 252.1h2M60.6 256.1h2M80.6 258.1h2M74.6 264.1h2M58.6 266.1h2M170.6 268.1h2M130.6 270.1h2M200.6 270.1h2M192.6 274.1h2M164.6 288.1h2M112.6 294.1h2M168.6 294.1h2M126.6 298.1h2M166.6 298.1h2M162.6 300.1h2M140.6 302.1h2M170.6 302.1h2M100.6 306.1h2M140.6 308.1h4M152.6 308.1h2M126.6 310.1h2M102.6 312.1h2M104.6 318.1h2M90.6 324.1h2M142.6 324.1h2M142.6 328.1h2M92.6 332.1h2M112.6 332.1h2M140.6 332.1h2M96.6 334.1h2M104.6 334.1h2M102.6 336.1h2M130.6 336.1h2M146.6 336.1h2M136.6 338.1h2M94.6 340.1h2M116.6 340.1h2M128.6 342.1h2M100.6 344.1h2M138.6 356.1h2M184.6 356.1h2M166.6 368.1h2M122.6 372.1h2M134.6 376.1h2M132.6 378.1h2M196.6 382.1h2M116.6 384.1h2M142.6 384.1h2M100.6 386.1h2M184.6 386.1h2M170.6 388.1h2M100.6 390.1h2M158.6 390.1h2M100.6 392.1h2M180.6 392.1h2M178.6 402.1h2"/>
<path stroke="#d7da3a" stroke-width="2" d="M194.6 250.1h2M114.6 268.1h2M162.6 270.1h2M76.6 274.1h2M124.6 278.1h2M134.6 278.1h2M54.6 294.1h2M132.6 312.1h2M98.6 316.1h2M146.6 316.1h2M152.6 316.1h2M102.6 318.1h2M138.6 318.1h2M160.6 318.1h2M116.6 320.1h2M146.6 326.1h2M148.6 330.1h2M122.6 332.1h2M124.6 336.1h2M118.6 342.1h2M128.6 344.1h2M148.6 344.1h2M150.6 348.1h2M164.6 350.1h2M160.6 352.1h4M156.6 354.1h2M170.6 354.1h2M176.6 358.1h4M142.6 360.1h2M172.6 360.1h2M140.6 362.1h2M152.6 364.1h2M170.6 364.1h2M182.6 364.1h2M136.6 366.1h2M152.6 370.1h2M196.6 370.1h2M152.6 372.1h2M172.6 372.1h2M100.6 374.1h2M110.6 374.1h2M172.6 374.1h2M184.6 374.1h2M184.6 376.1h2M192.6 376.1h2M118.6 378.1h2M172.6 378.1h2M132.6 382.1h2M180.6 382.1h2M190.6 382.1h2M132.6 384.1h2M178.6 384.1h2M134.6 386.1h2M156.6 386.1h2M178.6 386.1h2M182.6 386.1h2M202.6 386.1h2M150.6 388.1h2M154.6 388.1h2M174.6 390.1h2M140.6 392.1h2M98.6 396.1h2M108.6 398.1h2M180.6 398.1h2M122.6 404.1h2"/>
<path stroke="#40c2c9" stroke-width="2" d="M126.6 252.1h2M154.6 268.1h2M116.6 278.1h2M168.6 278.1h2M154.6 298.1h2M188.6 302.1h2M92.6 310.1h2M88.6 320.1h2M130.6 334.1h2M102.6 338.1h2M160.6 348.1h2M178.6 356.1h2M168.6 368.1h4M194.6 372.1h2M202.6 372.1h2M116.6 376.1h2M132.6 376.1h2M156.6 380.1h2M196.6 380.1h2M168.6 382.1h2M174.6 382.1h2M148.6 384.1h2M98.6 386.1h2M176.6 386.1h2M190.6 386.1h2M196.6 388.1h2M174.6 396.1h2M186.6 396.1h2M98.6 398.1h2M156.6 402.1h2M198.6 404.1h2"/>
<path stroke="#e94611" stroke-width="2" d="M152.6 252.1h2M106.6 254.1h2M186.6 254.1h2M44.6 258.1h2M138.6 260.1h2M190.6 262.1h2M198.6 264.1h2M140.6 266.1h2M52.6 268.1h4M168.6 268.1h2M120.6 276.1h2M88.6 278.1h2M182.6 278.1h2M168.6 280.1h2M122.6 282.1h2M124.6 288.1h2M172.6 288.1h2M192.6 288.1h2M200.6 288.1h2M188.6 290.1h2M142.6 292.1h2M68.6 296.1h2M192.6 298.1h2M196.6 298.1h2M122.6 302.1h2M122.6 304.1h2M176.6 304.1h2M160.6 308.1h2M116.6 312.1h2M144.6 316.1h2M144.6 318.1h2M96.6 320.1h2M152.6 320.1h2M128.6 322.1h2M96.6 328.1h2M110.6 328.1h2M86.6 332.1h2M128.6 332.1h2M162.6 334.1h2M106.6 338.1h2M160.6 340.1h2M104.6 342.1h2M138.6 344.1h2M152.6 346.1h2M166.6 364.1h2M138.6 366.1h2M188.6 366.1h2M174.6 372.1h2M144.6 376.1h2M110.6 384.1h2M118.6 388.1h2M136.6 390.1h2M162.6 392.1h2M112.6 394.1h2M128.6 396.1h2M132.6 396.1h2M110.6 398.1h2M120.6 402.1h2M138.6 404.1h2"/>
<path stroke="#d8300d" stroke-width="2" d="M74.6 254.1h2M100.6 256.1h2M78.6 260.1h4M142.6 260.1h2M76.6 264.1h2M52.6 276.1h2M74.6 278.1h2M174.6 278.1h2M86.6 280.1h2M136.6 286.1h2M150.6 286.1h2M162.6 286.1h2M158.6 292.1h2M144.6 294.1h2M144.6 296.1h2M186.6 296.1h2M170.6 298.1h2M186.6 298.1h2M96.6 302.1h2M124.6 302.1h2M120.6 306.1h2M124.6 306.1h2M160.6 310.1h2M82.6 312.1h2M126.6 312.1h2M100.6 316.1h2M88.6 318.1h2M132.6 320.1h2M114.6 324.1h2M106.6 326.1h2M66.6 328.1h2M118.6 328.1h2M144.6 328.1h2M136.6 330.1h2M134.6 332.1h2M122.6 336.1h2M128.6 338.1h2M162.6 338.1h2M98.6 342.1h2M132.6 342.1h2M134.6 344.1h2M148.6 346.1h4M134.6 382.1h2M132.6 394.1h2"/>
<path stroke="#86e05c" stroke-width="2" d="M144.6 254.1h2M96.6 256.1h2M194.6 270.1h2M148.6 282.1h2M62.6 296.1h2M122.6 316.1h2M116.6 318.1h2M104.6 322.1h2M110.6 322.1h2M88.6 324.1h2M100.6 324.1h2M156.6 326.1h2M72.6 328.1h2M90.6 328.1h2M104.6 328.1h2M120.6 330.1h2M110.6 334.1h2M92.6 336.1h2M136.6 344.1h2M160.6 346.1h2M154.6 350.1h2M166.6 350.1h2M164.6 356.1h2M182.6 356.1h2M156.6 358.1h2M172.6 358.1h2M144.6 360.1h2M152.6 360.1h2M182.6 360.1h2M136.6 362.1h4M142.6 362.1h2M150.6 362.1h2M170.6 362.1h4M188.6 364.1h2M104.6 368.1h2M106.6 372.1h2M182.6 372.1h2M192.6 372.1h2M102.6 374.1h2M126.6 374.1h2M136.6 374.1h2M140.6 374.1h2M188.6 374.1h2M202.6 374.1h2M154.6 376.1h2M160.6 376.1h2M198.6 376.1h2M124.6 378.1h2M164.6 378.1h2M114.6 380.1h2M184.6 380.1h2M98.6 382.1h2M130.6 382.1h2M100.6 384.1h2M126.6 384.1h2M150.6 384.1h2M138.6 386.1h2M152.6 386.1h2M138.6 388.1h2M186.6 388.1h2M138.6 390.1h4M168.6 390.1h2M176.6 390.1h2M116.6 396.1h2M138.6 400.1h2M98.6 402.1h2M166.6 402.1h2M116.6 404.1h2"/>
<path stroke="#4093dd" stroke-width="2" d="M70.6 262.1h2M202.6 294.1h2M170.6 350.1h2M142.6 352.1h2M160.6 356.1h2M186.6 360.1h2M162.6 362.1h2M200.6 368.1h2M158.6 376.1h2M196.6 376.1h2M152.6 378.1h2M196.6 378.1h2M118.6 380.1h2M126.6 380.1h2M114.6 384.1h2M122.6 384.1h2M122.6 388.1h2M136.6 388.1h2M190.6 388.1h2M198.6 388.1h2M172.6 390.1h2M190.6 390.1h2M136.6 392.1h2M186.6 392.1h2M136.6 394.1h2M106.6 396.1h2M146.6 396.1h2M200.6 396.1h4M120.6 398.1h2M186.6 398.1h2M164.6 400.1h2M130.6 402.1h2M144.6 402.1h2M182.6 402.1h2M120.6 404.1h2"/>
<path stroke="#41d0be" stroke-width="2" d="M110.6 262.1h2M204.6 264.1h1.1M124.6 268.1h2M172.6 274.1h2M90.6 280.1h2M138.6 312.1h2M114.6 316.1h2M96.6 324.1h2M152.6 324.1h2M114.6 326.1h2M100.6 332.1h2M88.6 334.1h2M164.6 336.1h2M126.6 338.1h2M148.6 340.1h2M142.6 344.1h2M162.6 346.1h2M152.6 356.1h2M164.6 360.1h2M198.6 362.1h2M158.6 372.1h2M168.6 372.1h2M200.6 372.1h2M108.6 374.1h2M112.6 374.1h2M134.6 374.1h2M150.6 374.1h2M138.6 376.1h2M106.6 380.1h2M174.6 380.1h2M136.6 386.1h2M200.6 386.1h2M106.6 388.1h2M112.6 388.1h2M124.6 390.1h2M126.6 392.1h2M150.6 392.1h2M172.6 392.1h2M98.6 394.1h2M110.6 394.1h2M164.6 394.1h2M114.6 396.1h2M98.6 400.1h2M160.6 400.1h2M168.6 400.1h2M172.6 400.1h2M188.6 402.1h2M196.6 402.1h2M112.6 404.1h2"/>
<path stroke="#b4e042" stroke-width="2" d="M40.6 264.1h2M192.6 268.1h2M196.6 274.1h2M154.6 302.1h2M92.6 316.1h2M156.6 318.1h2M118.6 320.1h2M138.6 320.1h2M148.6 320.1h2M154.6 322.1h2M104.6 324.1h2M56.6 326.1h2M130.6 326.1h2M86.6 328.1h2M114.6 328.1h2M156.6 328.1h2M100.6 330.1h2M108.6 330.1h2M92.6 334.1h2M112.6 334.1h2M150.6 334.1h2M90.6 336.1h2M108.6 336.1h2M142.6 338.1h2M126.6 340.1h2M132.6 340.1h2M140.6 342.1h2M142.6 346.1h2M162.6 348.1h2M172.6 348.1h2M148.6 356.1h2M194.6 356.1h2M170.6 358.1h2M140.6 360.1h2M180.6 362.1h4M138.6 364.1h2M116.6 372.1h2M164.6 372.1h2M156.6 374.1h2M160.6 374.1h2M166.6 376.1h2M110.6 380.1h2M136.6 380.1h2M172.6 380.1h2M158.6 382.1h2M178.6 382.1h2M194.6 384.1h2M122.6 386.1h2M140.6 386.1h2M166.6 388.1h2M176.6 388.1h2M122.6 392.1h2M100.6 394.1h2M128.6 394.1h2M110.6 396.1h2M166.6 396.1h2M122.6 400.1h2M158.6 404.1h2"/>
<path stroke="#40a3de" stroke-width="2" d="M134.6 266.1h2M190.6 270.1h2M64.6 332.1h2M138.6 350.1h2M140.6 358.1h2M192.6 358.1h2M202.6 362.1h2M198.6 368.1h2M154.6 370.1h2M186.6 370.1h2M112.6 372.1h2M128.6 374.1h2M194.6 374.1h2M198.6 374.1h2M204.6 374.1h1.1M156.6 378.1h2M194.6 378.1h2M140.6 384.1h2M174.6 384.1h2M182.6 384.1h2M104.6 388.1h2M146.6 388.1h2M186.6 390.1h2M114.6 392.1h2M148.6 392.1h2M186.6 394.1h2M120.6 396.1h2M176.6 396.1h2M192.6 396.1h2M176.6 398.1h2M114.6 400.1h2M150.6 400.1h2M180.6 400.1h2"/>
<path stroke="#9de04f" stroke-width="2" d="M204.6 266.1h1.1M184.6 272.1h4M156.6 282.1h2M182.6 288.1h2M140.6 298.1h2M128.6 310.1h2M120.6 314.1h2M90.6 316.1h2M96.6 316.1h2M136.6 318.1h2M100.6 320.1h2M146.6 320.1h2M90.6 322.1h2M138.6 322.1h2M164.6 322.1h2M112.6 324.1h2M136.6 326.1h2M162.6 328.1h2M156.6 332.1h2M122.6 334.1h2M146.6 334.1h2M132.6 336.1h2M150.6 338.1h2M168.6 338.1h2M154.6 342.1h2M148.6 350.1h2M164.6 352.1h2M158.6 354.1h2M164.6 358.1h2M180.6 358.1h2M190.6 358.1h2M196.6 358.1h2M178.6 360.1h2M190.6 362.1h2M154.6 364.1h2M146.6 366.1h2M166.6 366.1h2M176.6 366.1h2M194.6 366.1h2M186.6 372.1h2M130.6 374.1h2M144.6 374.1h2M148.6 374.1h2M166.6 374.1h2M144.6 378.1h2M154.6 378.1h2M174.6 378.1h2M102.6 380.1h2M130.6 380.1h2M202.6 380.1h2M116.6 392.1h2M108.6 394.1h2M118.6 394.1h2M124.6 396.1h2M136.6 398.1h2M174.6 398.1h2M202.6 398.1h2M198.6 400.1h2"/>
<path stroke="#51d6a2" stroke-width="2" d="M134.6 268.1h2M132.6 272.1h2M170.6 282.1h2M184.6 286.1h2M138.6 290.1h2M164.6 290.1h2M108.6 292.1h2M142.6 310.1h2M152.6 312.1h2M82.6 316.1h2M88.6 316.1h2M138.6 316.1h2M134.6 318.1h2M100.6 322.1h2M162.6 322.1h2M164.6 324.1h2M108.6 328.1h2M122.6 330.1h2M116.6 332.1h2M146.6 338.1h2M112.6 340.1h2M118.6 340.1h2M126.6 342.1h2M164.6 348.1h2M140.6 356.1h2M190.6 360.1h2M194.6 360.1h2M192.6 362.1h2M174.6 364.1h2M138.6 368.1h2M166.6 370.1h2M170.6 378.1h2M100.6 380.1h2M150.6 382.1h2M104.6 386.1h2M120.6 392.1h2M138.6 392.1h2M158.6 392.1h2M170.6 392.1h2M180.6 394.1h2M190.6 396.1h2M100.6 398.1h2M148.6 400.1h2"/>
<path stroke="#60db85" stroke-width="2" d="M42.6 270.1h2M168.6 276.1h2M132.6 282.1h2M162.6 288.1h2M194.6 294.1h2M128.6 306.1h2M130.6 310.1h2M132.6 314.1h2M86.6 318.1h2M92.6 320.1h2M106.6 324.1h2M48.6 326.1h2M96.6 326.1h2M150.6 326.1h2M162.6 326.1h2M158.6 328.1h2M62.6 330.1h2M158.6 332.1h2M100.6 336.1h2M104.6 338.1h2M132.6 338.1h2M112.6 344.1h2M158.6 344.1h2M144.6 356.1h2M138.6 358.1h2M160.6 358.1h2M184.6 358.1h2M168.6 360.1h2M180.6 360.1h2M174.6 362.1h2M204.6 362.1h1.1M156.6 364.1h2M144.6 366.1h2M98.6 370.1h2M106.6 370.1h2M172.6 370.1h2M160.6 372.1h2M176.6 372.1h2M184.6 372.1h2M122.6 376.1h2M110.6 378.1h2M138.6 378.1h2M148.6 380.1h2M180.6 380.1h2M124.6 382.1h2M138.6 382.1h2M152.6 382.1h2M192.6 382.1h2M104.6 384.1h2M152.6 384.1h2M168.6 384.1h2M180.6 384.1h2M184.6 384.1h2M158.6 386.1h2M128.6 388.1h2M148.6 388.1h2M166.6 390.1h2M104.6 392.1h2M152.6 394.1h2M166.6 394.1h2M134.6 396.1h2M178.6 398.1h2M200.6 398.1h2M134.6 400.1h2M154.6 400.1h2M136.6 402.1h2M142.6 402.1h2M170.6 402.1h2M162.6 404.1h2M170.6 404.1h2"/>
<path stroke="#40b2d4" stroke-width="2" d="M106.6 278.1h2M106.6 328.1h2M114.6 342.1h2M166.6 352.1h2M130.6 372.1h2M108.6 378.1h2M126.6 378.1h2M104.6 382.1h2M126.6 382.1h2M192.6 386.1h4M102.6 390.1h4M170.6 390.1h2M188.6 392.1h2M194.6 392.1h2M172.6 394.1h2M130.6 396.1h2M118.6 398.1h2M168.6 398.1h2M184.6 398.1h2M126.6 400.1h2M180.6 404.1h2"/>
<path stroke="#9f0f08" stroke-width="2" d="M102.6 300.1h2M114.6 308.1h2M62.6 310.1h2M144.6 312.1h2M154.6 324.1h2M198.6 360.1h2M168.6 364.1h2M172.6 376.1h4M140.6 378.1h2M176.6 378.1h2M96.6 388.1h2M142.6 398.1h2"/>
<path stroke="#4082d9" stroke-width="2" d="M96.6 318.1h2M186.6 358.1h2M174.6 360.1h2M184.6 360.1h2M150.6 366.1h2M132.6 374.1h2M188.6 378.1h2M132.6 380.1h2M172.6 382.1h2M176.6 382.1h2M184.6 382.1h4M162.6 384.1h2M186.6 384.1h2M202.6 384.1h2M182.6 388.1h2M132.6 390.1h2M144.6 390.1h2M130.6 392.1h2M202.6 392.1h3.1M140.6 394.1h2M194.6 394.1h2M170.6 396.1h2M196.6 398.1h2M146.6 400.1h2M186.6 400.1h2M132.6 402.1h2M158.6 402.1h2M176.6 402.1h2M166.6 404.1h2"/>
<path stroke="#4062d0" stroke-width="2" d="M154.6 356.1h2M164.6 374.1h2M136.6 378.1h2M200.6 384.1h2M204.6 384.1h1.1M126.6 386.1h2M194.6 388.1h2M184.6 390.1h2M102.6 396.1h2M168.6 396.1h2M180.6 396.1h2M184.6 396.1h2M112.6 398.1h2M144.6 398.1h4M182.6 398.1h2M198.6 398.1h2M204.6 398.1h1.1M162.6 400.1h2M192.6 400.1h2M186.6 402.1h2M198.6 402.1h2M182.6 404.1h2"/>
<path stroke="#4055bf" stroke-width="2" d="M196.6 356.1h2M94.6 374.1h2M182.6 382.1h2M202.6 388.1h2M196.6 390.1h2M202.6 390.1h2M198.6 392.1h2M184.6 394.1h2M192.6 394.1h2M194.6 396.1h2M198.6 396.1h2M188.6 398.1h4M184.6 400.1h2M196.6 400.1h2M202.6 402.1h2"/>
<path stroke="#4072d5" stroke-width="2" d="M154.6 366.1h2M180.6 372.1h2M198.6 372.1h2M168.6 376.1h2M176.6 384.1h2M180.6 386.1h2M196.6 386.1h2M192.6 388.1h2M152.6 390.1h2M198.6 390.1h4M154.6 392.1h2M198.6 394.1h2M108.6 396.1h2M150.6 396.1h2M190.6 400.1h2M194.6 400.1h2M172.6 402.1h2M200.6 404.1h2"/>
<path stroke="#4049ad" stroke-width="2" d="M188.6 388.1h2M188.6 390.1h2M194.6 390.1h2M178.6 394.1h2M182.6 396.1h2M196.6 396.1h2M102.6 400.1h2M192.6 402.1h4M200.6 402.1h2"/>
<path stroke="#403c9a" stroke-width="2" d="M200.6 388.1h2M180.6 390.1h2M166.6 392.1h2M188.6 400.1h2"/>
<path stroke="#403088" stroke-width="2" d="M196.6 392.1h2M182.6 400.1h2"/>
<path d="M111,266 L116,262 L121,265 L127,264 L128,271 L125,278 L121,286 L115,284 L112,279 L114,273Z" fill="#a4a6a0" opacity="0.85"/>
<path d="M113,253 L120,251 L127,256 L124,262 L117,262Z" fill="#8a8e86" opacity="0.6"/>
</g>
<rect x="20.3" y="344.6" width="78.1" height="56.6" fill="#fff"/>
<linearGradient id="gc" x1="0" x2="1" y1="0" y2="0"><stop offset="0.0" stop-color="#860908"/><stop offset="0.12" stop-color="#c01808"/><stop offset="0.22" stop-color="#e84010"/><stop offset="0.32" stop-color="#f07818"/><stop offset="0.42" stop-color="#f0b028"/><stop offset="0.5" stop-color="#e0d838"/><stop offset="0.56" stop-color="#b8e040"/><stop offset="0.64" stop-color="#70e068"/><stop offset="0.72" stop-color="#40d0c0"/><stop offset="0.8" stop-color="#40a0e0"/><stop offset="0.9" stop-color="#4060d0"/><stop offset="1.0" stop-color="#403088"/></linearGradient>
<rect x="23.9" y="383.6" width="66" height="4.6" fill="url(#gc)"/>
<text x="23.75 28.46 33.34 38.59 42.76 47.30 52.18 57.83 61.60 66.14 70.85 75.56 80.44 85.95" y="360.9" font-family="'Liberation Serif', serif" font-size="9.6" fill="#555" stroke="#555" stroke-width="0.12"><tspan textLength="4.62" lengthAdjust="spacingAndGlyphs">A</tspan><tspan textLength="4.62" lengthAdjust="spacingAndGlyphs">v</tspan>era<tspan textLength="4.62" lengthAdjust="spacingAndGlyphs">g</tspan>e a<tspan textLength="4.62" lengthAdjust="spacingAndGlyphs">n</tspan><tspan textLength="4.62" lengthAdjust="spacingAndGlyphs">n</tspan><tspan textLength="4.62" lengthAdjust="spacingAndGlyphs">u</tspan>al</text>
<text x="23.75 28.63 33.88 37.88 43.30 47.30 52.18 57.69 62.40 66.14 70.85" y="370.1" font-family="'Liberation Serif', serif" font-size="9.6" fill="#555" stroke="#555" stroke-width="0.12"><tspan textLength="4.62" lengthAdjust="spacingAndGlyphs">d</tspan>ef<tspan textLength="4.62" lengthAdjust="spacingAndGlyphs">o</tspan>r<tspan textLength="4.62" lengthAdjust="spacingAndGlyphs">m</tspan>ati<tspan textLength="4.62" lengthAdjust="spacingAndGlyphs">o</tspan><tspan textLength="4.62" lengthAdjust="spacingAndGlyphs">n</tspan></text>
<text x="24.46 28.63 34.14 38.05 43.70 48.01 52.01 56.72 62.40 66.14 71.02 75.73 80.98 85.69" y="379.4" font-family="'Liberation Serif', serif" font-size="9.6" fill="#555" stroke="#555" stroke-width="0.12">rate (<tspan textLength="4.62" lengthAdjust="spacingAndGlyphs">m</tspan><tspan textLength="4.62" lengthAdjust="spacingAndGlyphs">m</tspan>/<tspan textLength="4.62" lengthAdjust="spacingAndGlyphs">y</tspan>ear)</text>
<text x="24.05 27.74 31.84" y="398" font-family="'Liberation Serif', serif" font-size="9.6" fill="#555" stroke="#555" stroke-width="0.12">-<tspan textLength="4.02" lengthAdjust="spacingAndGlyphs">3</tspan><tspan textLength="4.02" lengthAdjust="spacingAndGlyphs">5</tspan></text>
<text x="85.65" y="398" font-family="'Liberation Serif', serif" font-size="9.6" fill="#555" stroke="#555" stroke-width="0.12"><tspan textLength="4.62" lengthAdjust="spacingAndGlyphs">0</tspan></text>
<text x="94.4" y="307.9" font-family="'Liberation Sans', sans-serif" font-size="11.6" fill="#fff" textLength="65" lengthAdjust="spacingAndGlyphs">tank location</text>
<circle cx="115.1" cy="325.8" r="2.3" fill="#fff"/>
<clipPath id="cd"><rect x="241.2" y="244.6" width="181.6" height="153.0"/></clipPath>
<g clip-path="url(#cd)">
<rect x="241.2" y="244.6" width="181.6" height="153.0" fill="#fdf4f0"/>
<path stroke="#f6c0b0" stroke-width="1.2" d="M412.5 322.8h0.9M351.5 302.2h1.8M273.5 337.8h1.6M331.9 390.9h1.9M312.4 378.7h1.9M284.3 322.0h0.9M368.3 325.2h0.9M411.0 334.7h1.0M242.7 288.4h1.4M305.4 341.6h0.9M384.6 257.6h1.9M410.1 362.9h1.3M300.6 343.6h1.7M312.6 264.9h0.8M281.9 383.9h1.9M298.0 325.7h1.9M326.3 381.9h1.3M378.7 360.7h1.5M393.6 348.1h0.9M398.5 330.4h1.7M414.8 311.9h1.9M371.9 288.3h1.5M257.3 344.5h1.4M332.2 336.4h1.4M243.5 376.8h1.7M385.1 287.2h1.5M374.8 282.8h1.8M311.3 296.9h1.7M288.5 384.7h1.8M348.3 376.4h1.1M358.5 314.6h1.6M306.8 245.1h1.4M341.3 297.0h0.9M280.2 354.9h1.2M382.4 302.3h1.2M256.5 360.7h1.9M309.8 258.2h1.4M314.0 368.8h1.3M382.9 260.6h1.6M335.0 296.9h2.0M269.6 288.2h1.8M338.8 342.0h1.6M259.5 263.7h0.9M268.1 316.3h0.9M415.9 279.7h1.5M319.8 392.1h1.5M389.2 390.9h1.2M337.7 324.2h1.0M333.2 380.5h1.5M395.4 269.3h1.2M420.9 263.3h1.7M375.0 348.0h1.1M396.1 256.9h2.0M417.6 353.9h1.7M289.3 395.5h1.4M343.9 257.5h1.4M244.0 259.2h0.8M326.4 276.1h1.6M289.9 308.8h1.6M273.2 294.3h1.4M261.7 290.7h1.3M422.2 247.1h1.2M302.3 389.0h1.8M281.7 374.6h1.8M262.8 357.1h0.8M345.7 333.3h1.2M327.7 304.5h0.9M282.8 393.3h1.8M263.5 273.8h1.6M348.3 259.8h0.9M410.7 322.6h1.3M369.9 335.7h1.3M346.6 386.5h1.0M363.9 375.7h1.0M360.7 370.4h1.5M376.7 393.9h1.4M290.8 319.4h1.2M413.9 328.5h0.9M265.9 322.4h1.8M317.0 295.8h1.1M293.1 251.4h1.5M387.6 263.2h0.9M386.6 281.4h1.0M277.0 284.5h1.5M412.7 306.2h0.8M259.2 392.2h1.6M388.9 383.1h1.9M261.0 263.8h1.2M357.0 260.2h1.8M400.9 245.6h0.9M303.7 382.8h1.9M386.9 310.0h2.0M245.0 289.5h1.7M353.8 249.6h1.6M269.5 354.7h1.4M247.9 265.1h1.1M254.0 320.0h2.0M386.9 371.2h1.3M267.8 329.1h1.8M264.1 283.5h0.9M304.5 393.8h1.2M357.6 265.8h1.4M242.5 332.4h1.9M376.6 249.9h0.9M254.3 259.5h1.6M305.1 374.5h1.0M306.8 275.2h0.9M308.4 354.8h1.4M343.4 245.7h1.7M310.8 360.5h1.5M252.1 287.8h1.3M409.9 322.2h1.4M310.2 353.6h1.2M367.1 314.0h1.2M254.4 355.5h1.3M277.0 323.2h1.8M364.6 378.5h1.9M395.6 363.7h1.5M357.6 326.0h1.7M292.5 380.6h1.9M324.5 340.9h1.5M398.4 249.9h0.9M419.9 393.9h1.1M421.5 364.5h1.9M326.7 316.8h1.5M334.7 343.7h1.0M333.5 257.8h1.4M308.5 345.9h1.7M420.0 287.5h1.0M415.8 366.7h1.5M417.7 257.0h1.6M288.9 365.2h1.2M319.3 370.2h1.8M414.0 328.7h1.7M358.2 366.4h1.1M342.4 341.8h1.2M313.8 297.2h1.4M299.5 273.8h1.6M344.2 292.8h1.4M383.2 314.6h1.2M374.9 289.2h1.2M284.1 331.7h1.7M354.0 344.8h1.5M359.1 300.4h1.9M388.0 297.6h0.8M278.4 372.7h1.5M341.2 286.1h1.7M396.4 395.8h1.2M287.8 295.0h1.3M341.7 296.7h1.5M301.4 370.8h1.9M408.3 360.5h2.0M408.1 386.4h1.9M287.5 333.9h1.4M279.6 294.2h1.0M281.8 359.2h1.0M354.7 393.4h0.9M306.2 351.8h1.4M273.2 311.4h1.0M329.0 350.6h1.6M353.7 353.7h1.8M269.1 382.8h0.9M383.1 311.8h1.1M371.3 397.0h1.1M398.7 266.7h1.4M361.4 385.2h1.3M301.0 316.4h1.0M406.8 323.2h1.4M414.9 351.4h1.7M355.2 260.9h1.2M377.4 360.9h1.9M377.9 361.4h1.0M393.6 352.6h0.8"/>
<path stroke="#fadcd0" stroke-width="1.2" d="M272.9 378.0h1.9M412.4 346.4h1.4M330.8 321.1h2.0M304.7 278.8h1.6M310.6 357.7h1.9M338.8 370.1h1.1M309.5 297.9h1.3M312.9 291.6h0.9M283.6 256.6h1.5M310.8 318.2h1.6M329.7 321.2h1.5M367.2 294.0h1.7M333.9 302.7h1.0M392.2 395.7h1.6M392.8 304.5h1.3M355.3 380.3h1.2M354.8 247.6h2.0M288.0 381.8h1.0M347.9 380.7h1.6M260.4 377.8h1.8M409.1 282.9h1.1M301.4 249.9h1.0M323.2 349.4h1.7M380.6 358.2h1.9M314.2 308.7h1.9M404.4 390.8h1.7M401.4 331.3h1.2M300.4 274.5h1.9M338.0 356.2h1.7M402.9 324.5h2.0M326.8 311.5h0.9M332.2 259.0h1.9M414.5 337.8h1.0M335.1 257.9h1.0M390.1 267.7h1.6M407.2 357.3h1.6M326.1 381.4h1.1M342.5 331.6h1.9M252.2 324.1h0.9M405.8 284.4h0.9M415.7 361.2h1.6M404.8 259.4h1.9M404.4 336.3h1.6M347.9 347.9h1.4M415.0 268.1h1.9M261.2 264.2h1.3M312.4 274.7h1.4M246.3 382.6h1.5M417.8 350.0h1.2M380.1 288.1h1.6M277.3 314.7h1.3M357.1 349.6h1.6M366.9 362.2h1.4M326.0 381.9h1.7M367.5 272.7h1.0M253.6 391.6h0.8M334.1 300.0h1.2M306.5 359.9h1.0M400.5 286.4h1.5M391.2 381.5h1.4M280.6 396.3h1.6M276.7 377.8h2.0M304.9 394.3h1.7M376.1 358.1h1.2M313.4 371.9h1.4M245.3 359.8h1.7M299.1 309.4h1.0M378.0 265.0h1.8M276.8 301.8h1.0M353.2 358.0h0.9M321.0 389.5h1.6M350.1 266.7h1.5M370.5 267.6h1.9M396.4 299.3h1.8M273.7 376.8h1.6M243.9 306.2h1.0M347.6 274.1h1.7M318.5 287.9h1.3M384.5 393.9h1.8M414.3 315.4h1.6M328.6 319.0h0.9M359.7 257.7h0.9M365.3 333.1h1.6M300.9 348.2h1.2M411.4 269.7h1.7M254.7 251.4h1.8M417.1 315.4h1.4M295.7 245.9h2.0M275.7 293.9h1.9M406.2 310.4h1.2M338.1 375.4h1.5M394.9 346.5h1.0M388.7 363.3h1.2M268.9 260.3h0.9M308.1 279.6h2.0M388.3 312.2h1.1M316.5 328.1h1.0M402.8 345.5h1.0M355.9 318.5h1.7M263.4 306.1h1.3M379.2 285.1h1.2M299.6 318.6h1.5M400.1 283.3h1.5M348.5 277.6h1.8M313.1 315.1h1.1M358.5 251.0h2.0M255.3 382.5h1.4M316.6 260.6h0.8M287.0 354.4h1.2M331.3 360.6h1.9M335.8 268.7h1.7M247.0 322.6h2.0M366.3 310.6h1.6M318.9 272.8h1.4M403.6 311.1h1.3M354.5 285.0h1.4M402.8 258.8h1.4M381.4 259.0h0.9M399.5 355.9h0.9M267.0 373.4h1.6M245.1 258.4h1.8M301.6 285.8h1.0M263.4 370.3h1.8M296.4 252.3h1.3M383.7 296.5h1.6M295.8 351.5h1.5M331.5 385.0h1.4M340.2 298.1h0.9M329.0 247.0h1.5M267.3 366.7h1.1M316.4 345.7h1.4M400.8 311.5h1.4M369.2 281.2h0.8M381.6 329.0h1.6M359.7 383.2h0.9M345.1 290.4h0.9M289.9 391.1h1.3M276.4 379.0h1.8M304.3 356.4h1.3M377.1 314.5h1.5M300.2 391.1h1.0M396.8 273.4h1.1M328.5 347.8h0.9M383.6 299.4h1.8M281.7 256.7h1.3M302.6 266.3h1.0M355.1 246.6h0.9M349.7 263.3h1.6M361.9 313.0h1.1M387.3 388.0h0.9M258.1 272.2h1.5M245.6 255.7h1.2M370.4 384.1h1.9M255.8 356.4h1.8M377.2 275.7h1.2M406.6 340.1h1.7M307.4 301.8h1.6M335.8 288.8h1.6M316.2 342.0h1.1M263.1 252.6h1.7M286.0 252.9h1.2M417.7 326.9h0.9M272.0 276.9h1.5M363.1 369.9h0.9M256.1 252.9h1.3M315.6 312.7h1.1M339.0 366.5h1.6M349.0 318.5h0.8M245.5 359.5h1.6M386.5 309.1h1.5"/>
<path stroke="#f8d0c2" stroke-width="1.2" d="M327.9 310.5h1.7M419.9 301.2h1.9M411.7 333.6h1.1M280.6 350.6h1.7M358.3 301.3h1.4M302.1 341.6h1.5M252.7 279.0h0.9M292.9 289.3h1.3M303.2 359.1h1.5M336.6 341.0h0.9M285.0 392.0h1.4M378.7 378.4h1.7M417.4 345.5h0.9M329.9 387.4h0.8M377.8 358.8h1.5M388.4 352.8h1.8M368.1 356.9h1.9M387.5 289.4h1.8M412.5 362.6h1.7M299.3 372.8h1.9M241.8 259.6h1.2M285.0 255.6h1.4M319.4 394.4h1.7M267.1 322.4h1.2M374.2 327.3h1.7M272.4 385.2h0.8M403.3 248.4h2.0M298.5 281.1h1.0M407.0 280.2h0.8M335.9 343.1h0.8M309.6 293.9h1.9M416.7 305.1h1.1M342.9 274.9h1.5M251.9 273.5h1.4M250.0 246.0h0.9M316.6 387.6h0.9M384.5 278.5h1.6M255.6 264.6h1.7M353.2 313.4h1.8M351.2 310.1h1.7M361.9 316.3h1.2M263.3 277.8h0.9M415.3 250.2h1.0M369.6 245.3h1.7M383.9 246.3h1.0M266.1 258.5h1.6M306.6 352.5h1.2M333.8 311.6h1.8M362.9 263.0h1.6M329.0 349.1h1.4M394.0 271.7h1.2M393.4 335.3h1.2M341.5 246.4h1.7M411.7 375.0h1.8M276.9 388.7h2.0M386.5 310.9h2.0M254.2 392.4h1.2M390.9 388.8h0.9M397.6 301.8h1.6M307.9 267.0h2.0M261.7 337.9h2.0M354.5 277.1h1.1M384.9 331.2h0.9M259.7 253.9h1.1M312.2 279.6h1.8M405.4 293.4h1.7M359.3 269.9h1.4M393.0 328.9h1.4M264.2 390.2h1.8M272.4 265.4h1.3M358.6 363.2h1.3M392.8 376.8h0.8M245.8 378.7h1.6M318.4 333.4h1.8M280.9 317.3h1.5M303.8 337.5h1.2M388.6 358.2h1.5M353.4 321.0h1.0M358.9 261.7h1.1M344.4 248.7h1.1M323.4 303.0h1.1M333.9 320.2h1.8M377.6 357.2h1.9M369.5 387.1h0.9M363.0 292.1h1.2M376.2 314.5h0.9M293.5 330.7h1.0M287.1 281.4h1.1M276.5 342.3h1.5M358.1 329.9h1.5M356.8 291.3h1.8M319.0 281.3h1.1M357.3 330.2h1.9M422.3 380.3h1.3M383.8 331.7h1.0M377.1 374.2h1.7M351.7 367.9h1.2M419.4 244.9h1.9M268.6 305.6h0.9M279.3 305.5h1.9M312.2 310.4h1.1M346.6 247.7h1.8M293.6 319.1h1.0M313.9 246.6h1.3M404.2 376.6h0.8M294.6 261.5h1.2M397.7 246.9h1.9M401.7 263.0h1.5M412.5 369.3h1.6M310.1 350.7h1.6M277.9 337.5h1.8M355.2 319.5h1.5M370.0 355.0h1.4M407.1 300.7h0.8M359.8 355.5h1.2M256.0 390.3h1.1M383.9 369.8h1.3M291.0 248.9h1.9M283.8 387.1h1.4M322.3 324.4h1.8M260.6 321.5h1.4M385.4 260.5h1.5M278.5 382.1h1.1M297.3 388.7h1.4M257.1 291.8h0.9M380.6 284.5h1.0M344.3 371.2h1.5M364.9 292.1h1.3M418.3 355.4h0.8M399.5 373.1h1.4M267.2 283.6h1.1M344.2 391.2h1.8M355.2 308.6h1.0M287.8 284.1h0.9M243.5 289.9h1.5M385.2 305.1h1.1M306.3 289.6h1.7M361.6 383.0h0.8M261.2 266.8h1.2M270.2 306.6h0.9M387.3 245.3h1.9M243.8 371.3h1.4M408.4 376.8h1.4M318.5 316.9h1.6M397.2 378.7h1.8M242.5 284.6h1.4M337.6 333.2h1.8M301.8 358.0h1.6M411.4 307.2h2.0M304.5 249.1h1.4M348.1 314.3h1.5M389.3 348.0h1.9M277.6 258.4h1.0M417.7 254.9h1.8M363.7 285.5h1.2M416.0 356.8h1.8M341.5 390.0h1.0M283.0 259.3h1.2M327.5 395.7h1.0M285.5 332.7h1.4M343.1 273.6h1.5M319.4 282.6h1.9M295.7 281.0h1.0M371.4 289.6h1.3M258.0 303.1h1.2M311.5 388.1h1.6M323.2 286.8h1.7M364.0 272.9h1.4M363.6 310.3h1.4M325.0 344.8h1.9M376.2 314.8h0.9M290.0 357.5h1.3M273.8 306.8h1.8M266.5 396.5h1.2M375.1 284.1h1.2M302.2 377.2h0.9M270.9 277.3h1.6M291.3 328.1h1.4M297.9 265.4h1.4M416.5 315.6h1.8M415.1 345.4h0.9M321.7 370.6h1.9M296.4 264.9h1.6M350.1 343.9h1.1M397.4 373.9h1.8M259.2 358.2h1.6"/>
<path stroke="#fbe4da" stroke-width="1.2" d="M410.0 319.8h1.4M275.8 315.0h1.0M281.4 391.9h1.9M405.9 368.9h1.6M404.4 300.3h1.8M404.1 393.0h1.8M383.6 254.8h1.6M308.6 287.7h1.4M416.5 270.4h1.2M281.9 316.3h1.0M308.6 380.1h1.4M354.8 274.4h1.6M389.4 270.7h2.0M316.9 342.9h1.5M409.8 245.0h1.6M266.3 295.1h1.7M320.6 310.7h1.4M377.1 292.0h1.6M355.0 279.3h0.9M412.2 253.7h1.5M277.2 344.4h1.0M389.0 251.5h1.2M354.6 269.0h1.9M323.8 251.3h1.1M385.5 292.1h1.1M346.2 323.6h1.3M363.9 275.2h1.2M260.6 397.1h1.0M389.7 341.7h1.4M355.4 338.6h1.9M409.6 300.7h1.4M396.9 250.2h1.8M286.2 269.9h1.8M382.8 286.4h0.9M313.1 379.7h1.1M392.6 255.9h1.2M347.8 250.7h0.9M378.2 346.1h1.8M400.8 328.5h1.2M257.3 357.9h1.6M270.8 339.4h1.7M280.6 355.4h1.6M317.7 360.3h0.9M388.9 246.2h2.0M282.2 299.8h1.0M279.8 329.5h1.2M412.2 314.7h0.8M296.7 368.3h1.4M332.2 341.2h1.3M331.9 339.7h1.0M417.3 277.4h1.5M341.5 264.9h1.1M403.9 259.9h1.4M278.5 246.6h1.0M350.4 351.9h1.6M269.6 323.2h1.8M360.4 307.0h1.1M303.6 314.4h1.1M358.6 298.9h1.7M390.2 256.4h1.1M378.4 306.5h1.8M307.0 296.5h1.1M348.5 325.7h1.9M279.0 300.0h0.9M336.6 325.1h1.1M412.7 374.6h1.7M309.5 351.2h1.0M258.8 334.7h1.6M248.9 279.9h1.4M321.2 382.0h1.1M303.2 297.5h1.2M263.5 346.5h0.8M355.0 386.7h1.4M369.3 397.3h1.5M385.0 262.9h2.0M422.6 313.2h1.0M287.4 368.0h0.8M269.1 358.3h2.0M244.7 300.9h1.7M348.1 278.7h1.4M381.3 246.1h1.3M380.3 273.5h1.7M377.3 379.0h0.8M262.6 349.1h0.9M328.1 322.4h1.8M292.5 311.8h1.4M331.3 303.3h1.3M393.9 249.4h1.7M282.4 257.2h1.8M278.5 313.9h1.8M307.7 261.8h1.2M418.4 318.5h1.7M399.7 309.7h1.8M381.2 286.5h0.8M246.0 279.5h1.1M389.6 253.1h1.0M337.3 255.9h1.6M299.9 380.7h1.9M301.0 365.6h1.4M352.4 277.5h1.8M245.0 304.3h1.7M390.4 391.0h0.9M308.1 385.1h1.7M364.2 367.2h1.0M255.8 379.7h0.9M315.5 315.6h1.6M294.4 316.2h2.0M420.5 264.0h1.4M271.8 365.2h1.6M299.4 250.9h1.3M273.4 289.1h1.2M392.3 369.1h1.3M363.7 303.2h1.9M321.3 246.9h1.8M335.5 313.2h1.4M343.9 261.8h1.6M336.3 258.7h2.0M353.3 258.3h1.4M259.8 318.5h1.1M289.8 249.7h1.1M297.6 281.9h2.0M265.6 246.2h1.2M249.1 365.8h1.9M378.1 378.5h0.9M332.1 265.9h1.5M279.5 330.4h0.9M420.7 390.3h1.1M381.4 323.5h1.2M387.2 387.2h0.9M328.6 307.6h1.7M299.0 333.1h1.2M308.8 276.7h0.9M380.3 359.8h1.5M351.8 372.5h0.8M414.8 283.8h2.0M264.1 345.5h1.6M382.7 384.4h1.4M391.5 322.3h0.8M415.2 248.6h1.1M321.5 297.6h1.5M256.5 279.3h1.3M415.2 258.2h2.0M271.2 248.0h1.5M353.2 331.2h1.6M352.6 327.0h1.0M379.1 330.0h1.0M417.6 391.7h1.7M347.9 368.9h1.9M283.3 284.6h1.7M388.1 269.7h1.8M400.4 380.7h1.5M359.8 269.4h2.0M326.5 258.7h1.8M323.7 304.8h1.1M336.7 267.6h1.4M381.6 261.7h1.7M280.6 391.9h1.2M375.0 333.6h1.7M323.8 302.3h0.9M405.8 377.2h1.3M366.5 397.5h1.4M300.6 374.5h1.8M390.5 244.9h0.8M348.5 313.2h1.2M322.3 335.3h1.2M282.0 331.3h1.6M341.3 317.5h1.5M367.1 389.2h2.0M403.4 356.2h0.9M250.7 328.3h1.7M388.2 287.6h1.9"/>
<path fill="none" stroke="#f6c0b0" stroke-width="0.5" stroke-linecap="round" d="M373.7 350.7q-2.4 5.1 -3.2 4.7M422.6 332.6q3.1 0.4 2.8 3.3M307.3 300.6q4.0 0.9 4.3 0.0"/>
<path fill="none" stroke="#fad4c8" stroke-width="0.5" stroke-linecap="round" d="M350.5 356.4q2.8 -0.1 4.3 1.5M305.9 372.7q1.0 1.6 2.7 2.1M266.5 320.0q3.2 0.2 5.3 0.3M357.5 332.9q0.5 1.1 4.3 3.3M404.0 322.8q-0.4 2.9 2.9 1.7M375.7 359.9q1.0 1.3 2.9 3.0M367.2 367.2q-2.9 -0.3 -4.9 2.6M266.7 304.5q0.6 0.8 3.3 2.9"/>
<path fill="none" stroke="#f8c8b8" stroke-width="0.8" stroke-linecap="round" d="M299.2 276.9q2.3 1.2 2.2 1.3M324.4 265.4q2.6 -0.8 4.1 0.0M263.1 332.8q0.3 1.4 -1.2 1.9M265.4 351.5q3.6 -0.2 4.5 0.0M258.8 285.3q2.2 0.1 2.6 1.0M305.4 383.3q1.4 -0.5 3.7 2.4M293.8 375.1q-3.5 -1.4 -5.0 2.6M422.1 256.2q1.3 2.4 1.2 5.3M409.0 375.1q0.3 0.8 3.3 1.3M368.1 305.0q-2.1 0.7 -0.1 3.4M359.0 308.2q0.9 0.4 -1.7 2.9M382.0 333.8q-0.3 3.6 -1.2 5.5M295.5 348.0q1.4 -1.0 2.1 0.9M295.7 309.7q-3.1 -0.0 -3.2 2.9M299.8 251.9q1.3 1.3 1.9 2.8"/>
<path fill="none" stroke="#fad4c8" stroke-width="0.7" stroke-linecap="round" d="M339.7 302.8q2.3 1.2 1.3 2.8M345.0 336.0q-3.1 2.4 -2.4 4.4M255.9 351.9q-0.1 1.6 4.9 2.3M260.2 369.2q-3.9 2.3 -5.4 0.8M338.2 315.7q-0.3 -0.4 -1.9 1.8M412.3 385.0q-1.4 0.5 -5.9 0.3M242.5 260.1q-1.8 2.7 -3.7 2.4M342.3 304.6q1.1 0.6 2.1 0.7M273.6 249.9q0.0 2.1 0.6 3.2M247.0 247.3q0.2 1.3 3.6 0.4M341.3 330.7q-0.1 3.1 4.7 0.9M269.0 390.8q1.3 0.7 2.9 0.9M255.3 377.6q0.2 1.0 -0.2 3.1M258.4 334.5q1.0 -1.3 -3.5 2.4"/>
<path fill="none" stroke="#fad4c8" stroke-width="0.6" stroke-linecap="round" d="M317.2 323.0q2.2 0.3 2.2 2.1M422.0 370.1q0.6 2.6 0.7 3.2M383.2 249.4q1.3 0.3 -2.1 2.9M267.2 259.2q0.5 2.0 1.8 2.8M278.9 393.4q0.6 1.3 2.2 0.5M254.1 353.3q5.5 2.0 3.5 3.6M382.2 305.5q1.3 2.8 1.0 2.9M363.8 390.3q1.8 -0.4 3.7 0.4M401.1 265.6q-0.6 1.0 -2.5 1.4M319.7 364.6q-2.8 0.8 -2.4 3.3M286.5 351.9q2.7 0.4 3.5 0.6M365.1 349.2q-0.2 1.8 1.0 3.2M343.5 265.8q1.9 2.8 3.1 0.6M302.8 250.7q1.9 0.4 2.3 0.9M363.3 304.7q-0.6 1.5 -1.4 2.2M415.5 310.2q2.1 3.5 1.0 5.3M258.7 384.1q-4.6 3.1 -2.3 5.3M264.8 307.0q2.3 -0.5 3.6 1.2"/>
<path fill="none" stroke="#f8c8b8" stroke-width="0.7" stroke-linecap="round" d="M369.2 266.7q-0.3 2.9 0.0 2.8M297.0 261.8q0.3 0.6 1.9 1.1M256.7 386.2q-1.3 2.6 2.8 4.2M402.3 329.7q-1.3 0.9 0.2 2.9M247.3 297.1q-5.0 1.9 -3.7 3.0M371.2 297.1q-1.6 2.2 -4.5 3.5M412.4 366.3q0.3 1.0 -0.1 2.9M283.3 313.7q-0.1 4.2 3.3 2.4M310.4 352.4q0.9 2.4 -3.5 2.7M254.3 265.8q2.8 3.7 4.9 3.3M329.9 268.0q0.2 1.1 4.1 1.5M394.1 360.5q3.6 -2.0 5.2 2.1"/>
<path fill="none" stroke="#f6c0b0" stroke-width="0.9" stroke-linecap="round" d="M265.7 260.2q-1.0 2.3 -3.6 2.6M357.8 255.0q-1.6 0.5 -2.9 1.5M248.7 365.3q-0.2 0.8 0.8 2.3M282.9 310.5q2.1 0.6 2.8 1.9M276.4 248.0q-0.5 -3.3 -4.3 1.5M259.0 301.1q-1.9 4.7 -2.7 2.8"/>
<path fill="none" stroke="#f6c0b0" stroke-width="0.8" stroke-linecap="round" d="M392.6 316.1q1.7 1.6 -2.5 2.9M334.4 392.4q0.9 2.0 -2.9 3.4M313.8 292.5q1.3 1.9 2.8 4.0M260.7 377.8q0.6 -1.2 3.5 0.3M363.3 350.3q-0.5 -1.1 -3.5 3.0M315.1 271.0q-0.4 0.2 0.8 4.7M398.3 339.8q0.1 2.6 -1.3 2.9M302.1 249.0q1.7 1.9 4.9 0.5M365.7 303.8q0.2 2.2 -2.4 1.7M264.2 395.4q4.8 2.0 5.1 1.4M252.4 316.5q-3.6 -0.6 -4.7 2.4M340.0 342.6q1.0 4.3 3.0 4.8M376.0 261.6q0.9 1.0 2.3 0.7"/>
<path fill="none" stroke="#fad4c8" stroke-width="0.8" stroke-linecap="round" d="M310.1 383.6q-3.0 0.8 -2.7 2.6M358.6 333.7q3.6 2.8 5.0 2.9M369.7 372.9q-1.6 1.6 -1.6 2.9M243.9 347.6q4.4 2.8 5.1 2.9M276.6 261.8q-0.8 0.7 -1.0 3.8M403.8 270.3q-2.0 3.4 -2.6 2.9M259.3 335.9q1.1 -1.9 2.2 4.9M331.8 251.0q2.5 -2.5 4.0 3.8M349.4 373.9q0.1 0.3 -1.0 3.5M309.7 351.1q-1.8 2.9 -0.7 3.1M351.6 385.8q2.6 1.9 3.0 0.7M263.1 354.3q-1.2 0.5 -2.8 2.3M368.0 381.4q2.1 3.0 1.5 4.1"/>
<path fill="none" stroke="#f6c0b0" stroke-width="0.6" stroke-linecap="round" d="M397.7 283.2q0.4 0.7 1.7 1.4M284.7 246.9q-3.4 1.0 -3.5 1.4M355.8 345.5q-1.5 0.2 1.8 3.1M310.0 264.3q1.5 3.3 3.2 1.3M410.6 295.6q-1.5 1.7 -2.9 4.0M344.5 342.7q1.6 1.9 2.8 2.6M343.7 263.6q0.1 1.9 1.6 2.0M287.9 342.7q1.6 1.3 2.9 0.2M260.7 277.4q1.2 0.6 5.5 2.4M379.9 329.2q1.3 0.6 3.2 0.5M399.1 376.3q1.8 1.8 1.4 2.2"/>
<path fill="none" stroke="#f6c0b0" stroke-width="0.7" stroke-linecap="round" d="M402.0 296.0q0.3 2.3 -2.1 1.9M272.2 268.5q-4.5 2.0 -3.0 2.7M260.6 309.5q-1.2 0.9 -3.5 1.9M404.5 261.2q2.6 -0.2 4.1 1.7M382.8 275.5q0.2 -1.6 -0.8 3.8M325.8 367.1q-2.6 2.1 -3.1 2.3M278.2 270.4q0.8 2.2 3.0 1.0M309.4 251.4q1.0 0.9 1.4 2.6M254.4 273.6q0.3 1.5 -1.5 4.5M243.5 272.2q-4.3 0.7 -5.3 2.0"/>
<path fill="none" stroke="#fad4c8" stroke-width="0.9" stroke-linecap="round" d="M311.2 260.0q-1.4 -0.7 -3.2 0.6M360.2 333.1q-0.0 0.6 2.8 2.7M409.2 319.2q0.4 -0.2 -2.5 2.8M392.6 316.7q0.2 4.6 -3.3 3.7M365.8 328.0q-3.0 0.1 -3.2 0.8M415.6 245.7q1.1 2.0 2.0 5.3M250.8 266.1q-0.7 2.0 -4.7 2.5M359.7 354.2q-1.0 -0.3 2.6 4.9M353.4 250.1q0.1 1.6 1.7 2.9"/>
<path fill="none" stroke="#f8c8b8" stroke-width="0.9" stroke-linecap="round" d="M361.7 395.2q2.0 3.7 2.7 5.3M305.2 395.0q-5.7 -0.9 -4.4 1.1M303.9 325.4q0.2 1.1 3.5 0.8M255.7 344.0q-0.8 1.9 1.7 4.4M328.3 329.4q-0.1 5.4 -3.9 3.7M336.3 256.0q-4.3 -0.9 -3.8 2.9"/>
<path fill="none" stroke="#f8c8b8" stroke-width="0.6" stroke-linecap="round" d="M353.0 364.9q-1.5 1.0 -1.2 2.0M294.9 267.0q-2.4 0.6 -2.8 1.0M266.8 302.6q-2.1 2.2 -2.0 4.3M289.7 327.5q0.8 3.6 2.3 3.6M373.2 388.0q-2.7 2.7 -3.1 4.3M331.2 260.2q0.0 -1.2 5.4 0.4M282.3 257.3q0.1 -0.1 1.5 1.4M350.5 381.9q3.4 1.6 0.6 4.3M400.7 361.2q1.1 -0.2 1.8 1.5"/>
<path fill="none" stroke="#f8c8b8" stroke-width="0.5" stroke-linecap="round" d="M335.2 251.2q-2.5 3.0 -4.0 3.3M372.2 383.3q-1.7 0.1 -2.7 0.0M269.9 343.6q5.3 -1.1 4.7 1.5"/>
<path fill="none" stroke="#f09888" stroke-width="1.0" stroke-linecap="round" d="M378.8 348.1q-1.0 -0.4 -2.1 1.1M355.8 325.9q0.7 0.9 0.9 1.6M335.9 333.0q-0.3 0.8 -1.3 3.0"/>
<path fill="none" stroke="#d83028" stroke-width="1.0" stroke-linecap="round" d="M324.2 286.6q-1.5 0.0 -2.1 1.0M338.6 314.6q0.0 -0.0 1.0 2.3M365.2 339.3q2.4 1.7 3.0 0.3M359.7 320.9q-1.1 1.5 -3.1 0.3M336.1 310.2q1.4 2.8 2.2 2.7M318.4 313.2q1.1 3.7 2.1 2.6M300.5 299.2q0.9 1.9 0.4 2.4M309.5 279.8q2.9 -0.7 2.6 2.4M299.7 295.8q1.8 0.6 2.3 0.4M382.8 349.8q-0.0 0.6 0.0 3.0M333.2 298.9q-0.6 0.3 -1.7 0.8"/>
<path fill="none" stroke="#ec8070" stroke-width="1.0" stroke-linecap="round" d="M377.4 354.4q1.6 0.3 1.9 1.0M292.3 261.1q-3.9 0.7 -2.3 2.6M345.4 316.9q2.1 0.1 2.6 1.6M293.1 272.5q-2.4 2.4 -0.3 4.0M349.3 316.2q-2.3 -1.5 -2.3 0.5M322.7 284.6q3.2 0.6 3.9 0.2M311.9 285.4q-0.1 0.1 -0.0 2.1M329.9 310.3q0.7 0.6 0.8 2.1M280.7 279.0q0.4 1.2 0.4 2.6"/>
<path fill="none" stroke="#e06050" stroke-width="0.8" stroke-linecap="round" d="M296.7 286.2q1.0 0.7 -3.3 1.8M311.8 283.4q-1.1 0.6 -2.8 1.6M332.3 294.0q1.8 0.2 1.8 2.9M349.1 339.0q0.5 1.2 1.5 2.4M368.7 332.7q1.0 3.6 0.6 3.9M300.0 293.0q-1.2 0.9 -2.1 0.1M311.2 296.9q1.5 -0.1 2.2 0.4"/>
<path fill="none" stroke="#f4b8a8" stroke-width="1.1" stroke-linecap="round" d="M370.0 343.1q2.7 -0.8 2.8 0.7M385.4 348.8q2.0 3.4 2.9 2.0M345.3 315.2q-0.4 0.8 1.7 0.3M326.9 293.3q-1.2 2.0 -1.3 1.8M333.0 317.3q-0.0 1.6 0.4 1.7M359.2 314.3q1.7 0.0 1.2 1.5"/>
<path fill="none" stroke="#f8c8b8" stroke-width="0.8" stroke-linecap="round" d="M379.9 331.1q1.2 3.2 2.6 2.6M362.1 327.6q-1.3 0.4 -1.0 2.0M298.7 281.8q0.5 -0.2 1.8 1.8M380.0 350.2q-0.9 1.3 0.3 2.8M304.8 262.0q0.9 -0.7 2.2 1.4M289.2 261.5q-2.9 1.1 -3.1 1.4M299.0 278.2q2.1 0.8 2.7 0.8M333.0 294.9q-0.3 1.1 -2.0 0.7M291.0 277.8q-2.6 0.4 -2.4 2.1"/>
<path fill="none" stroke="#d83028" stroke-width="1.1" stroke-linecap="round" d="M287.5 272.2q2.5 0.8 3.1 1.1M305.9 292.9q-0.6 0.5 -3.2 0.4M334.7 307.4q0.2 3.3 -1.7 3.1M314.2 285.4q0.6 1.8 1.2 3.7"/>
<path fill="none" stroke="#e06050" stroke-width="1.1" stroke-linecap="round" d="M381.1 349.9q-0.8 1.5 -1.8 2.6M365.5 326.2q-1.4 1.4 -2.6 0.6"/>
<path fill="none" stroke="#d83028" stroke-width="0.9" stroke-linecap="round" d="M334.2 325.1q-1.4 1.4 -0.7 2.6M373.7 336.2q-0.1 0.3 -1.3 1.3M380.2 346.7q-2.0 3.0 -1.7 2.4M328.1 309.1q0.1 0.6 -2.2 0.3M338.5 312.9q-3.0 1.5 -1.0 2.9M338.5 296.6q1.0 0.8 2.0 3.4M361.9 337.3q0.6 1.8 -2.3 3.2M318.9 291.0q1.3 -1.4 3.7 0.1"/>
<path fill="none" stroke="#e87060" stroke-width="0.8" stroke-linecap="round" d="M291.5 270.6q-1.2 0.8 -0.1 2.0M295.3 282.9q0.9 0.6 1.4 2.1M313.5 290.4q1.1 1.2 1.4 2.9M293.6 269.9q-0.5 1.9 1.0 2.3M309.5 284.0q-1.2 2.0 -0.1 3.1M289.8 301.4q-0.0 0.7 0.9 2.2"/>
<path fill="none" stroke="#f09080" stroke-width="1.1" stroke-linecap="round" d="M332.4 293.8q-1.9 1.6 -1.4 1.4M351.5 306.4q0.2 -0.3 1.4 2.3M296.9 262.7q-0.6 0.7 1.4 2.6M354.7 317.7q-1.5 0.9 -1.3 1.8M289.3 283.0q-0.3 1.1 1.4 1.1M328.8 326.4q0.5 4.1 1.9 2.7"/>
<path fill="none" stroke="#f8c8b8" stroke-width="0.9" stroke-linecap="round" d="M359.5 330.4q-0.6 1.5 -0.8 1.6M303.9 282.9q-0.3 0.9 0.2 1.5M372.4 341.8q-3.3 3.0 -3.5 0.0M329.7 303.5q-4.1 1.0 -3.7 1.2M350.9 341.9q0.2 2.8 -0.0 3.1M320.2 306.8q-3.9 2.1 -1.7 2.6M340.4 314.4q-1.4 -0.0 -2.6 0.6"/>
<path fill="none" stroke="#e87060" stroke-width="0.9" stroke-linecap="round" d="M321.1 310.9q1.8 2.1 1.6 2.0M301.7 296.3q-1.5 2.6 -1.7 2.4M288.9 265.6q-0.4 1.2 -0.6 2.4M367.5 348.4q1.6 -0.7 3.5 0.3M367.9 346.6q-1.9 1.3 -2.9 2.4M308.1 300.5q-1.7 2.3 -3.0 2.5M369.3 342.7q-2.3 1.0 -2.8 1.4"/>
<path fill="none" stroke="#c82020" stroke-width="0.7" stroke-linecap="round" d="M322.8 291.6q-0.6 -0.7 -1.7 0.3M293.3 274.2q-0.9 0.4 -2.0 0.7M386.8 333.8q-1.5 -1.1 -3.5 0.1M337.0 300.5q0.3 0.2 1.9 3.5"/>
<path fill="none" stroke="#ec8070" stroke-width="0.7" stroke-linecap="round" d="M293.3 290.1q0.3 -0.4 -1.1 1.7M342.2 309.6q1.8 0.5 0.7 2.8M356.9 337.2q0.5 0.4 -2.5 2.3M367.7 340.2q-0.2 2.1 -0.3 3.6M349.8 324.9q-0.9 0.3 0.4 1.9M357.4 300.8q2.5 0.2 2.8 1.8M377.1 331.0q-1.4 1.1 -1.0 3.3"/>
<path fill="none" stroke="#f8c8b8" stroke-width="0.7" stroke-linecap="round" d="M371.4 335.6q0.7 -0.3 0.9 1.5M307.7 301.4q3.1 1.7 2.9 2.0M371.8 334.6q-0.6 0.1 -2.0 0.6M364.5 345.0q0.7 1.9 -0.2 4.0M379.4 344.9q-0.3 3.0 -0.1 3.2M365.2 321.3q1.2 0.7 2.3 1.3M369.2 331.8q0.1 -0.3 -1.6 2.6M359.1 328.2q0.5 2.1 -0.5 2.0"/>
<path fill="none" stroke="#f4b8a8" stroke-width="1.0" stroke-linecap="round" d="M360.4 337.3q-0.1 0.6 1.1 1.5M387.2 342.7q0.8 0.6 -1.6 1.1M340.4 317.2q-0.5 -0.2 -0.4 3.8M298.1 285.3q-0.9 -1.2 2.8 0.2M356.4 309.8q-2.3 0.7 -3.2 0.3M347.0 312.0q0.4 0.9 2.1 0.5"/>
<path fill="none" stroke="#c82020" stroke-width="0.9" stroke-linecap="round" d="M322.6 296.7q0.2 -0.4 2.5 2.0M348.6 331.4q0.9 0.3 1.9 0.5M343.3 320.3q0.5 -0.3 1.2 1.0M332.2 310.7q0.4 0.3 1.6 0.9M275.5 280.7q-2.2 0.5 -1.3 0.8M344.6 317.3q0.6 1.5 -1.0 2.6"/>
<path fill="none" stroke="#f09888" stroke-width="0.7" stroke-linecap="round" d="M387.6 339.8q-0.1 -0.6 -2.2 2.2M347.9 330.1q3.0 1.9 1.9 3.5M374.3 331.4q1.8 0.7 3.0 1.4M358.3 309.2q-0.5 2.6 -1.0 2.7M315.5 297.9q0.9 2.6 0.9 3.5M369.1 332.3q0.2 0.3 1.9 1.6M299.6 263.8q0.6 3.8 0.4 2.8M341.6 310.7q1.4 -0.2 1.1 3.1"/>
<path fill="none" stroke="#e06050" stroke-width="0.9" stroke-linecap="round" d="M297.4 266.7q-0.2 4.1 -0.7 3.9M348.8 318.9q0.4 2.4 3.5 1.8M333.6 306.2q-0.2 0.2 -3.0 1.0M352.4 328.1q-0.3 0.3 -0.7 2.4M326.6 309.4q-1.2 1.9 3.2 1.9M326.1 298.5q-0.8 0.3 -1.1 1.3M308.7 287.5q0.8 0.7 1.6 3.2"/>
<path fill="none" stroke="#ec8070" stroke-width="0.9" stroke-linecap="round" d="M307.2 285.3q1.1 1.9 0.4 2.2M345.5 306.2q-2.6 1.6 -2.8 1.5M304.4 299.0q-0.6 -0.2 -3.8 0.6M375.9 333.2q-0.9 0.7 -2.3 2.3M374.4 339.6q-0.8 0.9 -3.9 0.9M339.4 318.0q-2.2 -0.1 -2.4 0.1M372.3 336.7q0.9 0.6 1.2 1.0M332.4 297.3q-1.8 0.5 -1.9 0.8M296.7 297.9q-0.2 0.8 1.6 0.3"/>
<path fill="none" stroke="#f09080" stroke-width="0.6" stroke-linecap="round" d="M303.7 293.1q-1.0 0.8 -0.9 1.9M301.9 273.6q-0.3 0.0 -1.9 1.0M339.9 337.2q0.9 0.3 1.2 1.3"/>
<path fill="none" stroke="#f09888" stroke-width="0.9" stroke-linecap="round" d="M270.9 282.5q-0.1 0.5 1.2 2.1M374.2 350.1q1.9 0.5 2.1 0.2M356.4 353.1q1.7 2.4 1.5 3.6M366.3 328.4q-0.4 -3.0 -2.4 1.8M309.8 292.2q-3.2 2.0 -2.1 2.2M338.8 311.2q-0.9 2.4 -0.5 3.9M311.0 322.9q1.4 -0.8 1.8 1.6M296.4 286.9q2.5 0.3 1.1 2.3M367.8 335.4q0.1 0.5 1.0 2.5M307.6 278.8q1.8 1.3 2.4 1.5"/>
<path fill="none" stroke="#f4b8a8" stroke-width="0.9" stroke-linecap="round" d="M354.1 325.5q1.5 -1.4 1.4 1.0M338.7 336.8q-0.0 1.3 1.8 1.3M298.1 267.1q-4.0 3.0 -1.8 2.6M307.2 283.9q0.8 2.9 -1.0 3.4M368.3 326.5q-3.2 1.8 -3.3 0.3M326.7 295.2q-1.6 0.2 -1.6 0.0M334.2 308.6q1.3 2.8 2.1 3.1M356.6 338.1q-0.9 0.9 -0.2 2.1M291.6 263.6q0.3 -0.2 1.0 1.3"/>
<path fill="none" stroke="#f09888" stroke-width="0.8" stroke-linecap="round" d="M357.7 318.4q-0.6 0.0 -1.6 2.8M377.0 327.3q3.0 1.9 1.5 1.9M303.8 290.5q3.6 -0.7 3.6 0.8M333.4 320.6q-0.8 0.3 -0.4 3.2M318.9 303.7q-1.5 0.0 -1.7 0.9M369.4 340.9q1.1 0.5 1.6 0.0M360.7 325.8q2.5 2.7 2.5 2.6M336.8 313.4q-1.6 -0.3 -1.9 0.9"/>
<path fill="none" stroke="#f09888" stroke-width="1.1" stroke-linecap="round" d="M293.8 273.6q0.3 0.3 -0.6 1.7M288.5 270.5q-1.9 1.0 -1.8 0.5M310.8 278.8q-1.2 1.7 -0.2 1.9M319.0 302.3q1.1 3.6 2.5 2.7M366.3 348.6q-0.5 0.1 -0.1 2.3M342.4 318.6q-1.3 -0.1 -2.1 0.3M343.6 318.2q0.6 1.1 2.9 0.4M304.4 286.9q0.8 1.7 2.7 0.3"/>
<path fill="none" stroke="#e87060" stroke-width="0.7" stroke-linecap="round" d="M352.7 325.2q3.1 0.7 0.1 3.8M332.5 320.9q0.6 1.3 -1.9 1.9M334.7 300.4q-2.6 -0.1 -3.1 0.3M346.0 320.3q-1.4 -1.7 -2.7 1.4M339.8 308.7q0.3 -0.5 2.4 1.4M338.1 294.6q-3.5 0.0 -3.0 0.5"/>
<path fill="none" stroke="#d83028" stroke-width="0.8" stroke-linecap="round" d="M334.9 291.6q0.9 1.8 0.9 1.8M352.6 322.2q-0.1 1.0 2.3 2.4M295.2 273.9q-1.7 1.9 -1.8 2.3M347.2 318.6q1.2 3.6 -0.2 2.4M326.1 316.3q1.0 -0.8 1.5 0.6M293.2 290.3q-0.8 0.9 -1.6 1.4M344.2 313.6q0.9 0.7 2.1 2.3"/>
<path fill="none" stroke="#f09888" stroke-width="0.6" stroke-linecap="round" d="M339.8 298.9q-1.8 -0.2 -2.0 0.3M353.9 330.2q-0.3 0.8 -2.9 2.7M302.0 296.0q-0.6 0.9 -1.5 0.3M352.5 308.9q3.1 3.1 2.6 2.3M364.7 339.3q-0.2 1.1 2.0 1.7"/>
<path fill="none" stroke="#e06050" stroke-width="1.0" stroke-linecap="round" d="M353.0 306.7q2.0 1.3 3.1 1.2M322.8 325.5q-1.5 0.4 -2.1 0.5M351.7 321.1q0.4 0.9 -0.9 1.7M313.1 276.8q-1.6 1.0 -2.4 0.3M284.5 268.9q-1.4 -0.1 -1.5 0.6M315.2 287.6q-2.0 3.3 -2.7 2.5"/>
<path fill="none" stroke="#ec8070" stroke-width="0.8" stroke-linecap="round" d="M291.6 274.2q1.5 1.2 2.2 2.2M339.1 317.9q0.6 1.1 0.4 2.1M312.8 298.5q0.6 -0.7 2.1 1.2M292.7 291.8q1.2 2.3 1.8 1.1M353.2 326.0q-1.2 2.3 -2.3 2.8M323.5 282.1q1.3 0.1 1.0 3.8M359.9 338.7q-0.6 2.2 0.4 3.8"/>
<path fill="none" stroke="#f09080" stroke-width="0.8" stroke-linecap="round" d="M356.1 323.3q0.1 1.0 0.9 1.7M287.9 269.5q0.7 2.7 -0.3 3.9M295.8 273.3q-1.3 0.4 -0.9 1.3M329.1 326.0q-1.2 1.0 -1.7 0.7M295.5 285.5q0.5 1.0 -1.9 2.8"/>
<path fill="none" stroke="#d83028" stroke-width="0.6" stroke-linecap="round" d="M352.1 328.4q-2.9 0.0 -3.6 0.3M384.6 347.0q-1.6 1.3 -1.8 1.5M309.1 294.1q0.4 -0.1 -1.3 0.9M310.4 266.9q-0.7 2.0 -2.3 1.9"/>
<path fill="none" stroke="#f09080" stroke-width="0.9" stroke-linecap="round" d="M329.1 293.6q-0.9 1.7 -3.5 1.3M320.6 305.6q1.1 1.9 -1.1 3.2M371.6 339.2q-0.6 -0.9 2.1 0.3M361.8 309.5q0.8 0.4 1.6 0.8"/>
<path fill="none" stroke="#d83028" stroke-width="0.7" stroke-linecap="round" d="M369.8 326.3q-3.1 1.1 -3.2 1.2M382.1 343.5q0.3 2.0 1.6 2.0M321.4 304.3q-2.5 -0.8 -3.4 0.3M301.6 271.0q-0.3 0.7 -1.3 1.7M344.3 308.9q1.5 0.5 -0.7 3.0M330.2 305.3q-0.2 1.8 -2.1 2.3M329.7 315.5q0.6 1.1 -0.1 1.8M323.3 300.4q1.3 0.6 1.6 2.7M378.2 346.1q0.7 1.0 2.2 1.6"/>
<path fill="none" stroke="#f4b8a8" stroke-width="0.8" stroke-linecap="round" d="M346.6 333.4q0.0 2.5 2.5 2.0M368.8 324.2q-0.2 2.0 0.3 2.6M290.7 281.4q-0.3 1.5 -1.2 1.7M337.9 300.9q-1.3 -0.4 2.9 1.1M337.3 340.9q0.5 0.2 -1.3 1.0M323.9 298.7q-0.7 -0.6 -1.9 0.1M292.8 292.5q-0.6 0.1 -2.8 2.6"/>
<path fill="none" stroke="#f4b8a8" stroke-width="0.7" stroke-linecap="round" d="M334.6 313.4q1.0 3.1 -0.3 3.6M279.6 271.9q0.1 -0.8 -1.2 2.0M345.9 306.4q-1.0 0.2 -2.8 1.0M290.3 286.3q1.4 1.8 1.3 3.8M370.4 346.2q1.7 -0.2 3.1 0.6"/>
<path fill="none" stroke="#c82020" stroke-width="0.6" stroke-linecap="round" d="M298.3 298.8q-0.2 1.6 0.3 1.8M353.4 349.2q-3.0 1.2 -3.7 1.2M343.2 309.6q0.0 1.5 -1.0 2.3M368.6 314.0q-1.5 1.0 -1.7 3.2"/>
<path fill="none" stroke="#f09080" stroke-width="0.7" stroke-linecap="round" d="M362.3 335.2q-0.2 -0.4 -1.6 2.5M346.9 311.5q1.0 -0.8 3.8 1.1M341.6 315.0q-1.9 -1.4 -2.8 0.5"/>
<path fill="none" stroke="#e06050" stroke-width="0.6" stroke-linecap="round" d="M374.9 319.1q-0.7 -0.7 -1.2 1.6M370.8 326.7q0.6 0.5 0.6 1.6M322.8 295.7q0.1 0.7 0.4 2.6M384.6 329.0q0.2 -0.1 -1.8 1.1"/>
<path fill="none" stroke="#f8c8b8" stroke-width="1.0" stroke-linecap="round" d="M377.3 349.4q-0.1 2.8 -0.8 2.8M328.5 314.2q0.3 0.8 -0.9 1.9M284.6 270.0q-1.5 1.8 -3.2 2.0M316.7 297.0q-0.4 3.2 1.3 3.3M312.4 296.0q-0.6 0.6 -0.0 1.9"/>
<path fill="none" stroke="#c82020" stroke-width="1.1" stroke-linecap="round" d="M371.5 324.2q0.7 0.6 2.3 0.8M294.3 289.3q1.6 1.5 1.7 2.2M323.5 295.6q1.3 0.5 0.9 2.7"/>
<path fill="none" stroke="#e87060" stroke-width="0.6" stroke-linecap="round" d="M347.2 329.2q-1.0 1.6 -2.7 0.1M305.2 294.5q-0.1 -0.1 -0.9 2.6M342.5 315.9q0.4 1.6 0.5 2.7M338.3 301.5q-1.9 0.5 -2.5 0.4"/>
<path fill="none" stroke="#e06050" stroke-width="0.7" stroke-linecap="round" d="M331.6 298.5q0.6 0.8 -0.9 1.9M370.1 334.3q1.0 -0.0 1.0 1.9M372.1 329.3q0.1 0.8 -0.2 3.4M362.0 343.9q0.6 1.2 2.3 0.2M297.7 276.1q-0.1 -2.5 -3.1 2.4"/>
<path fill="none" stroke="#f09080" stroke-width="1.0" stroke-linecap="round" d="M312.8 304.5q1.7 0.5 2.6 0.9M360.1 330.5q0.2 1.4 -2.8 2.2M287.3 268.8q-0.9 0.9 -2.3 1.9M378.0 341.6q1.0 -0.1 1.8 0.2M381.0 327.5q1.0 1.9 1.5 3.2M355.1 330.7q-0.1 1.3 -1.5 2.5"/>
<path fill="none" stroke="#c82020" stroke-width="1.0" stroke-linecap="round" d="M369.1 351.4q-0.6 0.2 -1.0 1.6M315.2 276.6q-1.4 1.4 -1.0 2.8M360.6 339.3q-1.2 2.1 1.0 1.6"/>
<path fill="none" stroke="#f4b8a8" stroke-width="0.6" stroke-linecap="round" d="M327.5 312.9q0.5 0.3 2.0 1.9"/>
<path fill="none" stroke="#e87060" stroke-width="1.0" stroke-linecap="round" d="M342.3 321.0q-0.9 2.7 -2.4 1.8M321.7 293.1q0.7 0.6 1.7 0.1M361.8 338.9q0.4 3.1 1.6 2.5M279.7 278.5q0.7 3.7 3.9 0.5"/>
<path fill="none" stroke="#e87060" stroke-width="1.1" stroke-linecap="round" d="M310.4 294.5q2.1 0.2 2.6 1.4M313.0 285.2q-0.2 0.6 0.5 1.5M373.2 343.3q-1.8 0.5 -2.2 0.3"/>
<path fill="none" stroke="#c82020" stroke-width="0.8" stroke-linecap="round" d="M366.2 337.7q4.3 1.0 3.0 1.9M382.9 342.1q-1.8 1.2 -1.2 1.6M310.3 280.3q2.5 -0.1 2.1 1.0M337.2 305.1q-1.8 -1.2 -1.6 1.2M315.2 295.2q-2.0 1.1 -0.3 3.8"/>
<path fill="none" stroke="#f8c8b8" stroke-width="1.1" stroke-linecap="round" d="M299.4 288.8q1.9 0.0 2.2 0.5M370.5 355.3q-1.2 0.6 -1.7 2.2"/>
<path fill="none" stroke="#ec8070" stroke-width="1.1" stroke-linecap="round" d="M301.8 265.9q-0.5 0.9 -0.0 1.8M291.7 266.0q-0.2 1.8 2.1 2.7M326.0 312.9q2.1 0.7 -0.5 2.8"/>
<path fill="none" stroke="#ec8070" stroke-width="0.6" stroke-linecap="round" d="M360.5 321.7q1.0 0.3 1.4 1.5"/>
<path fill="none" stroke="#f8c8b8" stroke-width="0.6" stroke-linecap="round" d="M346.5 321.8q-1.5 0.1 -2.0 0.8"/>
<path fill="none" stroke="#800010" stroke-width="1.2" stroke-linecap="round" d="M360.3 324.3q1.8 0.1 3.3 1.0M323.4 303.4q0.4 -0.6 2.3 0.9M350.6 319.1q1.0 2.0 2.3 1.7M355.7 313.2q0.3 -0.2 -0.8 1.3M329.5 303.5q-1.0 0.4 0.0 1.7M346.2 320.4q0.9 3.1 -1.4 3.2M354.3 330.3q-2.7 0.9 -3.0 0.4"/>
<path fill="none" stroke="#c01818" stroke-width="1.0" stroke-linecap="round" d="M320.9 294.2q-0.3 0.8 -2.7 0.6M341.7 325.1q-0.8 2.0 -0.0 3.2M359.1 334.1q1.1 -0.4 0.9 1.6"/>
<path fill="none" stroke="#c01818" stroke-width="1.3" stroke-linecap="round" d="M322.3 304.6q-1.3 2.7 -1.2 2.8M346.5 328.6q0.1 1.9 -1.1 2.4M324.6 302.4q-1.1 1.0 -0.7 2.2M356.6 329.7q1.3 1.9 2.3 1.1M358.4 349.3q-0.8 0.9 1.6 2.4"/>
<path fill="none" stroke="#a00c10" stroke-width="0.9" stroke-linecap="round" d="M365.2 332.9q0.3 1.0 0.2 1.6M320.7 291.4q-2.6 0.9 -2.6 0.6M327.6 305.0q0.9 -0.3 1.6 0.1M358.0 344.6q0.7 0.9 0.7 1.5"/>
<path fill="none" stroke="#800010" stroke-width="1.0" stroke-linecap="round" d="M356.2 325.8q0.0 0.4 0.2 1.9M317.5 301.4q-0.8 -0.3 1.6 2.2M352.3 309.5q0.1 1.0 1.3 2.2M333.7 298.7q-3.0 -2.1 -3.0 0.8M330.8 292.7q2.7 1.0 2.3 0.3M340.9 315.4q-0.6 1.2 -2.2 1.2M357.7 333.6q1.0 -0.7 1.7 0.3"/>
<path fill="none" stroke="#800010" stroke-width="1.1" stroke-linecap="round" d="M321.2 305.9q-0.7 0.1 -2.5 1.5M326.3 306.2q-1.4 1.3 -2.2 1.8M321.6 297.8q0.2 0.2 -3.3 0.1M341.6 322.0q0.6 -1.2 -2.3 2.1"/>
<path fill="none" stroke="#c01818" stroke-width="1.2" stroke-linecap="round" d="M357.8 331.2q0.9 0.6 1.7 0.8M317.9 297.5q-1.3 -0.2 -1.3 2.9"/>
<path fill="none" stroke="#800010" stroke-width="1.3" stroke-linecap="round" d="M355.4 317.1q-0.1 2.7 0.3 2.6M320.8 293.0q0.3 0.6 -1.2 1.6M347.0 317.0q-0.8 1.0 -2.1 2.0M316.9 286.2q3.7 0.7 2.4 0.6M362.5 336.2q-0.2 2.2 -1.1 2.0M350.1 315.6q-1.4 0.4 -2.5 0.2M315.4 293.5q1.0 1.0 1.0 1.5M364.5 332.0q0.8 0.7 3.3 1.1M348.9 321.8q1.7 0.7 2.2 0.4"/>
<path fill="none" stroke="#b01010" stroke-width="0.9" stroke-linecap="round" d="M313.6 291.3q-0.8 0.5 0.9 3.1M321.4 298.3q-1.2 0.9 -1.6 1.9M356.5 322.0q-2.6 0.7 -2.3 0.7M367.5 326.8q3.0 4.1 2.2 2.0M369.9 325.9q0.2 -0.2 1.8 0.5M344.8 328.4q1.5 2.8 -0.1 2.3M356.6 326.0q1.0 1.1 3.0 0.4"/>
<path fill="none" stroke="#b01010" stroke-width="1.0" stroke-linecap="round" d="M345.9 318.9q2.0 0.5 2.5 0.3M338.7 313.1q1.4 2.0 2.2 1.0M328.8 313.7q0.2 2.6 1.1 2.7M335.9 312.7q0.0 2.1 -0.1 3.0M318.3 283.4q-0.2 -2.2 2.4 1.3"/>
<path fill="none" stroke="#b01010" stroke-width="1.1" stroke-linecap="round" d="M359.0 332.4q1.3 2.2 2.7 1.0M348.8 322.4q1.4 1.5 1.6 0.9M365.7 327.0q1.4 0.4 2.2 0.7M329.0 304.6q-3.2 0.2 -2.9 0.0"/>
<path fill="none" stroke="#a00c10" stroke-width="1.3" stroke-linecap="round" d="M352.4 333.5q0.2 1.7 1.2 1.0M363.7 323.8q0.4 -0.3 1.7 0.1M344.6 306.0q0.7 0.8 2.5 0.7"/>
<path fill="none" stroke="#c01818" stroke-width="1.4" stroke-linecap="round" d="M356.6 335.8q0.7 0.4 1.5 2.0"/>
<path fill="none" stroke="#800010" stroke-width="0.9" stroke-linecap="round" d="M330.3 298.9q1.3 0.2 2.9 1.2M310.3 313.9q-0.9 0.2 -0.5 2.3M359.0 333.2q-2.7 0.2 -2.9 1.6M363.7 339.5q2.2 -0.2 2.7 0.8M354.4 329.5q1.9 -0.9 2.8 1.8M317.3 304.7q2.3 0.4 3.3 0.3M367.4 329.3q1.4 3.4 1.4 2.6"/>
<path fill="none" stroke="#a00c10" stroke-width="1.2" stroke-linecap="round" d="M323.2 300.0q1.1 0.1 1.6 0.7"/>
<path fill="none" stroke="#b01010" stroke-width="1.2" stroke-linecap="round" d="M324.3 311.1q-1.5 -0.0 -2.1 0.3M343.0 321.1q-0.7 1.7 -1.0 1.9M358.4 321.6q-1.4 2.4 -3.5 0.3M309.3 293.5q0.8 1.2 2.3 0.2"/>
<path fill="none" stroke="#c01818" stroke-width="0.9" stroke-linecap="round" d="M342.7 319.5q2.7 0.6 0.9 3.3M314.6 297.4q2.3 0.2 2.8 1.3M357.8 328.7q-2.1 1.0 -2.1 0.4"/>
<path fill="none" stroke="#c01818" stroke-width="1.1" stroke-linecap="round" d="M358.5 344.1q-0.4 0.4 -2.5 1.3M315.1 303.8q-0.2 0.5 1.1 2.8"/>
<path fill="none" stroke="#b01010" stroke-width="1.4" stroke-linecap="round" d="M308.9 305.1q0.9 2.5 3.1 1.4M363.5 329.6q0.3 0.9 -2.2 1.9"/>
<path fill="none" stroke="#a00c10" stroke-width="1.4" stroke-linecap="round" d="M359.6 326.3q0.3 1.3 1.9 1.9M353.7 333.4q-0.4 4.1 -2.2 2.6M322.9 299.6q-0.9 1.0 -0.6 1.5M346.7 314.5q0.7 1.7 2.2 1.0"/>
<path fill="none" stroke="#b01010" stroke-width="1.3" stroke-linecap="round" d="M346.3 329.2q0.6 0.7 1.5 1.7M358.6 335.1q-1.4 -0.1 -2.2 1.1M359.4 325.4q2.0 -0.2 1.9 0.3M333.3 292.1q0.5 0.8 1.6 2.2"/>
<path fill="none" stroke="#a00c10" stroke-width="0.8" stroke-linecap="round" d="M350.4 322.3q0.1 -1.2 2.7 0.4"/>
<path fill="none" stroke="#a00c10" stroke-width="1.1" stroke-linecap="round" d="M317.4 299.2q-0.2 0.5 -0.9 2.6"/>
<path fill="none" stroke="#d83028" stroke-width="1.4" stroke-linecap="round" d="M253.1 288.3q-0.3 1.1 -0.5 1.9M261.3 297.7q1.3 0.5 0.7 2.5M261.2 295.5q-1.9 0.0 -1.5 0.7M246.0 268.7q1.5 2.5 2.4 1.4"/>
<path fill="none" stroke="#a00c10" stroke-width="1.5" stroke-linecap="round" d="M246.8 281.9q-1.2 -0.2 -1.9 0.7M253.4 274.1q0.2 1.2 -0.9 3.1"/>
<path fill="none" stroke="#e06050" stroke-width="1.4" stroke-linecap="round" d="M245.2 264.9q-0.8 -0.1 -0.3 2.5"/>
<path fill="none" stroke="#f09080" stroke-width="0.8" stroke-linecap="round" d="M268.1 291.9q1.4 -1.6 2.8 1.1"/>
<path fill="none" stroke="#d83028" stroke-width="1.1" stroke-linecap="round" d="M247.3 276.4q-1.3 0.9 -0.3 1.7M260.2 297.4q0.7 0.4 1.5 0.7M259.0 290.4q1.0 0.9 1.7 0.6M250.9 279.1q1.3 0.0 1.5 2.0"/>
<path fill="none" stroke="#a00c10" stroke-width="1.1" stroke-linecap="round" d="M247.3 276.6q0.4 -0.7 2.6 0.8"/>
<path fill="none" stroke="#800010" stroke-width="1.0" stroke-linecap="round" d="M244.0 269.0q1.5 -0.2 2.1 0.6"/>
<path fill="none" stroke="#c82020" stroke-width="1.4" stroke-linecap="round" d="M246.2 270.7q0.4 1.4 0.4 2.6M260.5 288.3q-0.6 1.9 -1.9 2.8"/>
<path fill="none" stroke="#800010" stroke-width="0.8" stroke-linecap="round" d="M263.2 291.3q0.7 1.3 0.9 2.6"/>
<path fill="none" stroke="#800010" stroke-width="0.9" stroke-linecap="round" d="M251.5 296.8q0.1 3.3 -0.0 3.3M251.5 287.3q-1.5 0.2 -1.5 1.1M237.3 274.4q0.2 1.3 -0.6 3.0"/>
<path fill="none" stroke="#f09080" stroke-width="1.2" stroke-linecap="round" d="M259.0 285.0q2.3 1.1 0.7 2.2M238.1 276.3q-0.1 0.6 -1.2 1.7M254.1 294.7q0.5 3.0 1.6 2.2M255.8 289.4q0.0 -0.0 1.6 1.8"/>
<path fill="none" stroke="#e87060" stroke-width="1.2" stroke-linecap="round" d="M258.5 284.6q-1.2 -1.4 -0.3 2.9"/>
<path fill="none" stroke="#e87060" stroke-width="1.5" stroke-linecap="round" d="M255.3 298.8q-1.0 0.9 -1.1 1.7"/>
<path fill="none" stroke="#b01010" stroke-width="1.5" stroke-linecap="round" d="M251.7 276.5q2.1 2.1 2.0 2.2"/>
<path fill="none" stroke="#f09080" stroke-width="1.0" stroke-linecap="round" d="M260.2 289.2q0.9 0.5 1.5 1.9M250.3 280.5q-0.5 0.0 -1.7 0.5"/>
<path fill="none" stroke="#e06050" stroke-width="1.3" stroke-linecap="round" d="M257.1 290.0q-1.2 -0.2 0.7 3.3"/>
<path fill="none" stroke="#e87060" stroke-width="1.1" stroke-linecap="round" d="M256.1 287.6q-1.9 1.1 -2.4 0.7"/>
<path fill="none" stroke="#f09080" stroke-width="1.1" stroke-linecap="round" d="M264.0 290.2q-0.3 0.2 -0.7 1.4M244.7 284.3q0.5 1.7 1.0 2.5"/>
<path fill="none" stroke="#c82020" stroke-width="1.1" stroke-linecap="round" d="M250.4 268.9q1.2 1.6 -0.3 2.9M253.7 292.9q-2.5 0.6 -3.1 1.1"/>
<path fill="none" stroke="#d83028" stroke-width="1.5" stroke-linecap="round" d="M263.6 289.8q-0.5 1.5 0.7 1.9"/>
<path fill="none" stroke="#800010" stroke-width="1.1" stroke-linecap="round" d="M255.8 293.3q-0.3 1.1 0.6 1.6M251.0 274.0q0.1 -0.0 1.4 1.1"/>
<path fill="none" stroke="#c82020" stroke-width="1.2" stroke-linecap="round" d="M242.6 270.7q0.1 3.3 0.1 3.0M255.4 281.7q1.2 1.4 -0.0 2.0"/>
<path fill="none" stroke="#c82020" stroke-width="1.3" stroke-linecap="round" d="M257.9 288.3q-1.2 1.0 -0.7 2.3"/>
<path fill="none" stroke="#b01010" stroke-width="0.9" stroke-linecap="round" d="M250.9 289.6q-0.1 0.2 -1.0 2.2"/>
<path fill="none" stroke="#c01818" stroke-width="1.1" stroke-linecap="round" d="M248.3 269.2q-2.0 1.4 -1.2 1.2M258.6 296.7q0.8 -0.6 1.7 0.0M249.7 281.3q0.8 -0.0 2.6 1.2"/>
<path fill="none" stroke="#a00c10" stroke-width="1.3" stroke-linecap="round" d="M250.1 274.8q1.3 2.1 2.1 0.3M247.5 281.8q-1.0 0.2 -2.1 1.3M255.1 292.8q-0.1 0.3 -1.6 0.5"/>
<path fill="none" stroke="#c82020" stroke-width="1.0" stroke-linecap="round" d="M264.3 290.2q0.7 -0.6 1.9 0.2"/>
<path fill="none" stroke="#b01010" stroke-width="1.2" stroke-linecap="round" d="M243.1 274.8q-0.1 1.7 -1.5 1.8"/>
<path fill="none" stroke="#d83028" stroke-width="0.9" stroke-linecap="round" d="M255.1 286.9q1.6 0.8 0.8 2.6"/>
<path fill="none" stroke="#c01818" stroke-width="1.3" stroke-linecap="round" d="M255.5 289.3q1.4 0.5 2.1 1.1M250.3 273.2q1.1 -0.2 0.2 1.9"/>
<path fill="none" stroke="#c01818" stroke-width="1.2" stroke-linecap="round" d="M249.8 274.4q0.2 0.3 -1.8 1.3"/>
<path fill="none" stroke="#f09080" stroke-width="0.9" stroke-linecap="round" d="M245.3 275.2q1.0 0.6 1.6 0.2"/>
<path fill="none" stroke="#f09080" stroke-width="1.5" stroke-linecap="round" d="M253.9 283.8q0.2 0.9 0.7 1.4"/>
<path fill="none" stroke="#800010" stroke-width="1.4" stroke-linecap="round" d="M253.1 286.3q-1.1 0.4 -1.4 1.4"/>
<path fill="none" stroke="#b01010" stroke-width="1.1" stroke-linecap="round" d="M254.6 278.9q0.6 1.1 1.2 1.0M260.4 295.7q-1.1 0.7 -0.8 1.6"/>
<path fill="none" stroke="#f09080" stroke-width="1.3" stroke-linecap="round" d="M252.2 270.3q1.0 1.9 1.3 3.1"/>
<path fill="none" stroke="#d83028" stroke-width="1.0" stroke-linecap="round" d="M261.1 290.1q0.6 -0.9 2.2 0.2"/>
<path fill="none" stroke="#b01010" stroke-width="1.0" stroke-linecap="round" d="M260.8 290.2q-0.4 1.0 -1.2 1.2M262.6 291.8q-0.5 1.1 -1.0 1.2"/>
<path fill="none" stroke="#f09080" stroke-width="1.4" stroke-linecap="round" d="M261.0 297.9q1.4 -1.0 2.2 2.4"/>
<path fill="none" stroke="#b01010" stroke-width="1.4" stroke-linecap="round" d="M256.9 294.2q-1.2 0.1 -3.1 1.0M253.5 288.0q-1.0 0.2 -3.0 0.1M251.2 271.5q-0.3 1.2 -1.4 3.2"/>
<path fill="none" stroke="#e06050" stroke-width="0.8" stroke-linecap="round" d="M243.4 266.4q0.3 1.4 0.8 1.6"/>
<path fill="none" stroke="#d83028" stroke-width="1.2" stroke-linecap="round" d="M252.2 281.9q-3.6 1.2 -2.2 2.6"/>
<path fill="none" stroke="#c01818" stroke-width="1.0" stroke-linecap="round" d="M250.2 284.8q-1.1 0.1 -0.3 3.0"/>
<path fill="none" stroke="#c01818" stroke-width="0.9" stroke-linecap="round" d="M253.7 285.6q0.3 0.6 -0.3 1.7"/>
<path fill="none" stroke="#c01818" stroke-width="1.4" stroke-linecap="round" d="M257.7 283.7q1.3 -0.0 2.0 1.5"/>
<path fill="none" stroke="#e87060" stroke-width="1.4" stroke-linecap="round" d="M245.8 276.1q2.1 1.4 2.1 0.4"/>
<path fill="none" stroke="#c82020" stroke-width="0.8" stroke-linecap="round" d="M241.0 268.7q-0.8 1.6 0.7 2.5"/>
<path fill="none" stroke="#e87060" stroke-width="1.3" stroke-linecap="round" d="M242.8 267.1q0.6 0.2 1.6 1.0"/>
<path fill="none" stroke="#a00c10" stroke-width="1.0" stroke-linecap="round" d="M251.4 281.0q0.8 0.5 2.4 1.0M255.1 282.2q-2.9 1.6 -2.1 1.6"/>
<path fill="none" stroke="#e06050" stroke-width="1.1" stroke-linecap="round" d="M241.3 267.6q-0.9 0.3 -0.4 2.8"/>
<path fill="none" stroke="#c01818" stroke-width="0.8" stroke-linecap="round" d="M258.2 287.5q-2.6 0.4 -1.8 1.1"/>
<path fill="none" stroke="#800010" stroke-width="1.2" stroke-linecap="round" d="M250.0 277.3q1.5 0.5 1.0 2.4"/>
<path fill="none" stroke="#f8c8b8" stroke-width="0.9" stroke-linecap="round" d="M271.9 365.4q0.7 3.2 -0.1 4.3M266.5 371.4q-2.3 2.8 -2.2 3.8M274.5 363.6q-2.8 0.6 -2.6 3.4"/>
<path fill="none" stroke="#ec8070" stroke-width="0.9" stroke-linecap="round" d="M263.3 366.5q-2.2 -0.4 -3.7 2.0M267.5 354.1q4.2 1.5 2.8 3.9M274.8 360.3q4.0 1.0 2.9 3.6M268.9 371.4q0.8 2.3 2.0 3.5M279.6 374.9q-3.4 0.1 -3.2 2.7M265.9 364.0q-2.1 2.0 -4.1 1.0"/>
<path fill="none" stroke="#ec8070" stroke-width="0.6" stroke-linecap="round" d="M266.5 366.1q0.5 -1.4 3.8 1.5M262.0 372.9q2.2 -0.7 2.1 1.8"/>
<path fill="none" stroke="#f4b8a8" stroke-width="0.7" stroke-linecap="round" d="M259.6 371.1q0.8 -0.0 2.2 0.8M260.0 361.0q-2.4 3.2 -2.3 2.6M265.6 367.6q2.4 2.4 1.6 3.6M268.3 359.9q0.6 0.5 -4.2 2.0"/>
<path fill="none" stroke="#f09888" stroke-width="1.0" stroke-linecap="round" d="M276.2 367.6q1.0 1.3 0.8 1.9M256.1 371.4q-1.2 1.6 0.4 2.6M276.7 366.5q-3.8 2.7 -4.6 1.3M258.6 358.4q-0.2 3.7 -1.2 3.8"/>
<path fill="none" stroke="#f8c8b8" stroke-width="0.7" stroke-linecap="round" d="M253.2 363.2q-0.5 -0.6 -1.5 2.2M276.4 368.0q2.0 0.4 0.6 3.1M267.1 356.7q1.7 1.9 2.7 1.8M256.9 353.9q-0.4 -0.3 -2.0 1.9M262.7 361.9q-2.3 2.0 -1.8 4.4M257.4 359.4q0.2 0.9 3.5 2.6M269.6 362.6q1.7 -2.1 4.6 1.8M272.2 373.5q4.1 0.9 3.8 1.9"/>
<path fill="none" stroke="#ec8070" stroke-width="0.8" stroke-linecap="round" d="M263.5 362.9q-0.2 1.0 -0.2 2.4M259.5 360.6q2.8 0.1 2.6 3.4M270.9 375.7q1.4 -0.2 -3.1 0.9M268.0 365.9q-2.2 -0.1 -3.0 0.0M282.4 365.4q0.8 1.0 -0.2 4.7M276.1 363.3q0.4 0.8 0.3 2.0M262.0 353.5q0.9 -0.1 1.6 1.3M263.7 361.9q-0.8 0.7 -1.8 1.6"/>
<path fill="none" stroke="#f09888" stroke-width="0.6" stroke-linecap="round" d="M253.9 361.1q-0.7 -1.1 -2.9 2.0M250.9 362.1q-0.3 1.4 -3.3 2.3M274.1 378.8q-0.1 0.0 -1.0 1.9"/>
<path fill="none" stroke="#f4b8a8" stroke-width="0.9" stroke-linecap="round" d="M279.5 368.0q-0.0 1.2 -1.9 1.6M280.4 366.5q-1.0 4.1 -1.5 4.2M277.8 375.3q0.6 3.1 -1.8 2.6M268.2 363.2q1.9 4.1 3.0 1.7M251.7 379.0q0.3 1.7 1.2 2.3M271.3 380.9q-0.9 1.1 -3.8 0.8"/>
<path fill="none" stroke="#f8c8b8" stroke-width="1.0" stroke-linecap="round" d="M273.8 370.0q-0.9 0.1 2.4 2.3M269.3 369.1q0.6 0.1 2.0 1.6"/>
<path fill="none" stroke="#f4b8a8" stroke-width="1.0" stroke-linecap="round" d="M280.0 370.0q1.3 0.0 -0.6 2.3M270.7 364.7q0.4 -1.1 0.2 3.8"/>
<path fill="none" stroke="#f09888" stroke-width="0.7" stroke-linecap="round" d="M263.2 370.0q-1.3 1.0 -2.2 3.0M253.7 359.7q0.8 -1.1 3.5 0.4M261.8 373.3q0.3 1.3 -0.9 2.3"/>
<path fill="none" stroke="#ec8070" stroke-width="1.0" stroke-linecap="round" d="M271.7 367.5q3.1 3.2 3.7 1.0M276.8 372.2q-0.5 0.3 -2.4 0.6M266.2 384.4q3.4 0.2 3.8 2.7"/>
<path fill="none" stroke="#ec8070" stroke-width="0.7" stroke-linecap="round" d="M265.7 364.3q-1.4 -0.4 -2.4 0.0M256.9 368.8q-0.7 3.1 -1.9 4.4M283.9 372.7q-0.6 0.9 -2.2 4.5"/>
<path fill="none" stroke="#f09888" stroke-width="0.8" stroke-linecap="round" d="M284.6 367.1q0.1 0.7 2.3 1.3"/>
<path fill="none" stroke="#f4b8a8" stroke-width="0.8" stroke-linecap="round" d="M272.3 374.7q1.4 6.1 3.0 4.0M270.7 362.6q-0.6 -1.0 4.5 1.1M259.7 377.9q1.4 -0.2 -1.7 1.6M269.9 369.2q-0.9 3.2 -2.7 3.2"/>
<path fill="none" stroke="#f09888" stroke-width="0.9" stroke-linecap="round" d="M266.7 348.3q1.1 1.7 2.3 2.6M274.7 379.8q2.8 -0.8 3.4 0.8M265.5 358.7q3.5 1.3 3.3 1.8"/>
<path fill="none" stroke="#f8c8b8" stroke-width="0.6" stroke-linecap="round" d="M274.7 382.3q0.4 0.6 0.2 2.2M274.1 370.5q1.6 1.2 2.0 3.7"/>
<path fill="none" stroke="#f4b8a8" stroke-width="0.6" stroke-linecap="round" d="M267.3 386.1q1.2 2.7 0.8 2.2"/>
<path fill="none" stroke="#f8c8b8" stroke-width="0.8" stroke-linecap="round" d="M256.3 360.2q3.6 -1.0 4.5 0.3M270.1 354.0q-1.2 1.9 -1.4 2.8"/>
<path fill="none" stroke="#d83030" stroke-width="1.1" stroke-linecap="round" opacity="1" d="M383.6,244.6C383.6,253.8 383.6,277.8 383.6,300C383.6,322.2 383.6,365.0 383.6,378"/>
<path fill="none" stroke="#c82020" stroke-width="1.3" stroke-linecap="round" opacity="1" d="M365,378C366.2,377.8 369.8,377.3 372,377C374.2,376.7 376.1,376.0 378,376C379.9,376.0 382.7,376.8 383.6,377"/>
<path fill="none" stroke="#c82828" stroke-width="1.3" stroke-linecap="round" opacity="0.95" d="M308,249C308.7,250.2 310.3,254.3 312,256C313.7,257.7 316.2,259.0 318,259C319.8,259.0 322.5,257.3 323,256C323.5,254.7 321.3,251.8 321,251"/>
<path fill="none" stroke="#c82828" stroke-width="1.2" stroke-linecap="round" opacity="0.95" d="M314,262C314.8,262.7 317.3,265.3 319,266C320.7,266.7 322.5,265.3 324,266C325.5,266.7 326.5,269.0 328,270C329.5,271.0 332.2,271.7 333,272"/>
<path fill="none" stroke="#c02020" stroke-width="1.3" stroke-linecap="round" opacity="0.95" d="M364,245C364.5,246.2 365.7,250.2 367,252C368.3,253.8 370.2,255.7 372,256C373.8,256.3 376.5,255.2 378,254C379.5,252.8 380.5,249.8 381,249"/>
<path fill="none" stroke="#c82828" stroke-width="1.1" stroke-linecap="round" opacity="0.9" d="M370,247C370.7,247.7 372.7,250.7 374,251C375.3,251.3 377.3,249.3 378,249"/>
<path fill="none" stroke="#c82020" stroke-width="1.3" stroke-linecap="round" opacity="0.95" d="M330,273C331.2,273.2 335.2,273.2 337,274C338.8,274.8 339.7,276.3 341,278C342.3,279.7 344.0,281.8 345,284C346.0,286.2 347.2,289.2 347,291C346.8,292.8 344.5,294.3 344,295"/>
<path fill="none" stroke="#c02020" stroke-width="1.2" stroke-linecap="round" opacity="0.95" d="M336,281C336.5,280.7 338.0,278.8 339,279C340.0,279.2 341.7,280.8 342,282C342.3,283.2 341.8,285.3 341,286C340.2,286.7 337.8,286.8 337,286C336.2,285.2 336.2,281.8 336,281"/>
<path fill="none" stroke="#f09080" stroke-width="0.9" stroke-linecap="round" opacity="0.8" d="M392,262C392.7,264.2 394.8,270.3 396,275C397.2,279.7 398.5,287.5 399,290"/>
<path fill="none" stroke="#f09080" stroke-width="0.9" stroke-linecap="round" opacity="0.8" d="M400,256C400.7,258.3 402.8,265.2 404,270C405.2,274.8 406.3,280.3 407,285C407.7,289.7 407.8,295.8 408,298"/>
<path fill="none" stroke="#f4a898" stroke-width="0.9" stroke-linecap="round" opacity="0.7" d="M410,262C410.5,264.3 412.3,271.3 413,276C413.7,280.7 413.8,287.7 414,290"/>
<path fill="none" stroke="#f4a090" stroke-width="0.9" stroke-linecap="round" opacity="0.7" d="M389,300C390.0,301.2 392.8,305.3 395,307C397.2,308.7 400.8,309.5 402,310"/>
<path fill="none" stroke="#f09080" stroke-width="0.9" stroke-linecap="round" opacity="0.8" d="M392,372C392.8,373.7 395.7,378.7 397,382C398.3,385.3 399.2,389.5 400,392C400.8,394.5 401.7,396.2 402,397"/>
<path fill="none" stroke="#f09080" stroke-width="0.9" stroke-linecap="round" opacity="0.8" d="M406,395C406.7,393.5 408.3,388.2 410,386C411.7,383.8 414.0,382.5 416,382C418.0,381.5 421.0,382.8 422,383"/>
<path fill="none" stroke="#f4a898" stroke-width="0.9" stroke-linecap="round" opacity="0.7" d="M255,357C256.2,358.3 259.5,362.5 262,365C264.5,367.5 267.7,370.2 270,372C272.3,373.8 275.0,375.3 276,376"/>
<path fill="none" stroke="#f4b0a0" stroke-width="0.9" stroke-linecap="round" opacity="0.6" d="M300,345C301.0,346.2 305.0,350.8 306,352"/>
<ellipse cx="246" cy="270.7" rx="2.6" ry="3.3" fill="#7a0010"/>
<ellipse cx="252" cy="283" rx="2.2" ry="2.2" fill="#8a0010"/>
<ellipse cx="255.5" cy="289" rx="2.4" ry="2.4" fill="#7a0010"/>
<ellipse cx="250" cy="291" rx="1.6" ry="1.6" fill="#a00c10"/>
<ellipse cx="247.5" cy="297" rx="1.6" ry="1.6" fill="#c01818"/>
<ellipse cx="261.5" cy="278.8" rx="2.2" ry="2.0" fill="#900010"/>
<ellipse cx="273.8" cy="266.5" rx="1.5" ry="1.5" fill="#b01010"/>
<ellipse cx="278" cy="280.6" rx="1.6" ry="1.6" fill="#a00c10"/>
<ellipse cx="282" cy="281" rx="1.4" ry="1.4" fill="#a00c10"/>
<ellipse cx="285" cy="289" rx="1.2" ry="1.2" fill="#c02020"/>
<ellipse cx="298.2" cy="281.5" rx="2.0" ry="2.0" fill="#700010"/>
<ellipse cx="305.8" cy="293.8" rx="3.0" ry="2.5" fill="#600010"/>
<ellipse cx="313.3" cy="302" rx="2.6" ry="2.6" fill="#700010"/>
<ellipse cx="328" cy="318" rx="3.0" ry="2.6" fill="#600010"/>
<ellipse cx="331.5" cy="325.5" rx="2.6" ry="2.4" fill="#500008"/>
<ellipse cx="326" cy="323" rx="2" ry="2" fill="#700010"/>
<ellipse cx="345" cy="308" rx="3.6" ry="3.2" fill="#500008"/>
<ellipse cx="350" cy="305" rx="2.4" ry="2.2" fill="#600010"/>
<ellipse cx="341" cy="311" rx="2" ry="2" fill="#700010"/>
<ellipse cx="340" cy="333" rx="3" ry="2.6" fill="#600010"/>
<ellipse cx="336" cy="329" rx="1.6" ry="1.6" fill="#800010"/>
<ellipse cx="322" cy="316" rx="2" ry="2" fill="#900010"/>
<ellipse cx="306" cy="293.5" rx="2" ry="2" fill="#700010"/>
<ellipse cx="376" cy="265.5" rx="2.6" ry="3.6" fill="#4a0008"/>
<ellipse cx="319" cy="274" rx="1.5" ry="1.5" fill="#b01010"/>
<ellipse cx="357" cy="258" rx="1.3" ry="1.3" fill="#c02020"/>
<ellipse cx="357" cy="278" rx="1.3" ry="1.3" fill="#c02020"/>
<ellipse cx="356" cy="338" rx="1.6" ry="1.6" fill="#a00c10"/>
<ellipse cx="362" cy="342" rx="1.6" ry="1.6" fill="#b01010"/>
<ellipse cx="318" cy="305" rx="1.6" ry="1.6" fill="#900010"/>
<ellipse cx="312" cy="300" rx="1.4" ry="1.4" fill="#a00c10"/>
<rect x="343" y="302" width="6" height="5" rx="1" fill="none" stroke="#a01018" stroke-width="1.1"/>
<rect x="351" y="304" width="5" height="6" rx="1" fill="none" stroke="#a01018" stroke-width="1.1"/>
<rect x="346" y="313" width="5" height="5" rx="1" fill="none" stroke="#a01018" stroke-width="1.1"/>
<rect x="354" y="313" width="6" height="5" rx="1" fill="none" stroke="#a01018" stroke-width="1.1"/>
<rect x="349" y="321" width="5" height="5" rx="1" fill="none" stroke="#a01018" stroke-width="1.1"/>
<rect x="356" y="323" width="5" height="6" rx="1" fill="none" stroke="#a01018" stroke-width="1.1"/>
<rect x="360" y="316" width="4" height="5" rx="1" fill="none" stroke="#a01018" stroke-width="1.1"/>
<rect x="352" y="330" width="5" height="4" rx="1" fill="none" stroke="#a01018" stroke-width="1.1"/>
<ellipse cx="360" cy="336" rx="3" ry="2.5" fill="none" stroke="#d03030" stroke-width="0.9"/>
<ellipse cx="366" cy="340" rx="2.5" ry="2" fill="none" stroke="#d03030" stroke-width="0.9"/>
<ellipse cx="372" cy="343" rx="3" ry="3" fill="none" stroke="#d03030" stroke-width="0.9"/>
<ellipse cx="378" cy="347" rx="2.5" ry="2.5" fill="none" stroke="#d03030" stroke-width="0.9"/>
<ellipse cx="368" cy="349" rx="2" ry="2.5" fill="none" stroke="#d03030" stroke-width="0.9"/>
<ellipse cx="383" cy="350" rx="2.2" ry="2.2" fill="none" stroke="#d03030" stroke-width="0.9"/>
<circle cx="332.7" cy="321.5" r="2.3" fill="#fff" stroke="#500008" stroke-width="1.1"/>
</g>
<text x="285.9" y="342.1" font-family="'Liberation Sans', sans-serif" font-size="11.6" fill="#111" stroke="#111" stroke-width="0.3" textLength="64.4" lengthAdjust="spacingAndGlyphs">tank location</text>
<rect x="248.1" y="388" width="28.3" height="4.5" fill="#000"/>
<rect x="276.4" y="388.3" width="27.2" height="3.9" fill="#fff" stroke="#000" stroke-width="0.6"/>
<text x="245.20" y="384.5" font-family="'Liberation Serif', serif" font-size="10.8" fill="#222" stroke="#222" stroke-width="0.3">0</text>
<text x="273.10" y="384.5" font-family="'Liberation Serif', serif" font-size="10.8" fill="#222" stroke="#222" stroke-width="0.3">1</text>
<text x="300.50 308.05 312.56 318.76" y="384.5" font-family="'Liberation Serif', serif" font-size="10.8" fill="#222" stroke="#222" stroke-width="0.3">2 <tspan textLength="6.08" lengthAdjust="spacingAndGlyphs">K</tspan><tspan textLength="6.08" lengthAdjust="spacingAndGlyphs">M</tspan></text>
<path fill="#fff" fill-rule="evenodd" d="M29.3 19.2H192V204.3H29.3Z M32.1 22.0V201.5H189.2V22.0Z"/>
<rect x="32.1" y="19.2" width="30.4" height="2.8" fill="#000"/>
<rect x="166.7" y="19.2" width="22.5" height="2.8" fill="#000"/>
<rect x="32.1" y="201.5" width="32.4" height="2.8" fill="#000"/>
<rect x="168.0" y="201.5" width="21.2" height="2.8" fill="#000"/>
<rect x="29.3" y="22.0" width="2.8" height="88.4" fill="#000"/>
<rect x="189.2" y="22.0" width="2.8" height="87.0" fill="#000"/>
<rect x="29.6" y="19.5" width="162.1" height="184.5" fill="none" stroke="#000" stroke-width="0.6"/>
<rect x="31.8" y="21.7" width="157.7" height="180.1" fill="none" stroke="#000" stroke-width="0.6"/>
<path fill="#fff" fill-rule="evenodd" d="M237.4 21.5H396.8V202.2H237.4Z M240.20000000000002 24.3V199.39999999999998H394.0V24.3Z"/>
<rect x="240.2" y="21.5" width="30.3" height="2.8" fill="#000"/>
<rect x="371.8" y="21.5" width="22.2" height="2.8" fill="#000"/>
<rect x="240.2" y="199.4" width="31.4" height="2.8" fill="#000"/>
<rect x="374.0" y="199.4" width="20.0" height="2.8" fill="#000"/>
<rect x="237.4" y="24.3" width="2.8" height="86.1" fill="#000"/>
<rect x="394.0" y="24.3" width="2.8" height="84.7" fill="#000"/>
<rect x="237.70000000000002" y="21.8" width="158.8" height="180.1" fill="none" stroke="#000" stroke-width="0.6"/>
<rect x="239.9" y="24.0" width="154.4" height="175.7" fill="none" stroke="#000" stroke-width="0.6"/>
<path fill="#fff" fill-rule="evenodd" d="M17.8 242.3H208.5V406H17.8Z M20.6 245.10000000000002V403.2H205.7V245.10000000000002Z"/>
<rect x="20.6" y="242.3" width="34.1" height="2.8" fill="#000"/>
<rect x="165.9" y="242.3" width="39.8" height="2.8" fill="#000"/>
<rect x="20.6" y="403.2" width="36.4" height="2.8" fill="#000"/>
<rect x="168.5" y="403.2" width="37.2" height="2.8" fill="#000"/>
<rect x="17.8" y="245.1" width="2.8" height="58.4" fill="#000"/>
<rect x="17.8" y="398.0" width="2.8" height="5.2" fill="#000"/>
<rect x="205.7" y="245.1" width="2.8" height="55.3" fill="#000"/>
<rect x="205.7" y="395.0" width="2.8" height="8.2" fill="#000"/>
<rect x="18.1" y="242.60000000000002" width="190.1" height="163.1" fill="none" stroke="#000" stroke-width="0.6"/>
<rect x="20.3" y="244.8" width="185.7" height="158.7" fill="none" stroke="#000" stroke-width="0.6"/>
<path fill="#fff" fill-rule="evenodd" d="M238.4 241.8H425.6V400.4H238.4Z M241.20000000000002 244.60000000000002V397.59999999999997H422.8V244.60000000000002Z"/>
<rect x="241.2" y="241.8" width="33.4" height="2.8" fill="#000"/>
<rect x="383.6" y="241.8" width="39.2" height="2.8" fill="#000"/>
<rect x="241.2" y="397.6" width="35.6" height="2.8" fill="#000"/>
<rect x="385.9" y="397.6" width="36.9" height="2.8" fill="#000"/>
<rect x="238.4" y="244.6" width="2.8" height="56.4" fill="#000"/>
<rect x="238.4" y="392.6" width="2.8" height="5.0" fill="#000"/>
<rect x="422.8" y="244.6" width="2.8" height="53.4" fill="#000"/>
<rect x="422.8" y="389.4" width="2.8" height="8.2" fill="#000"/>
<rect x="238.70000000000002" y="242.10000000000002" width="186.6" height="158.0" fill="none" stroke="#000" stroke-width="0.6"/>
<rect x="240.9" y="244.3" width="182.2" height="153.6" fill="none" stroke="#000" stroke-width="0.6"/>
<text x="44.56 50.36 57.58 61.96 67.76 73.56" y="17.4" font-family="'Liberation Serif', serif" font-size="11.4" fill="#2a2a2a" stroke="#2a2a2a" stroke-width="0.3"><tspan textLength="5.68" lengthAdjust="spacingAndGlyphs">8</tspan><tspan textLength="5.68" lengthAdjust="spacingAndGlyphs">7</tspan>.<tspan textLength="5.68" lengthAdjust="spacingAndGlyphs">7</tspan><tspan textLength="5.68" lengthAdjust="spacingAndGlyphs">0</tspan><tspan textLength="5.68" lengthAdjust="spacingAndGlyphs">0</tspan></text>
<text x="148.36 154.16 161.38 165.76 171.56 177.36" y="17.4" font-family="'Liberation Serif', serif" font-size="11.4" fill="#2a2a2a" stroke="#2a2a2a" stroke-width="0.3"><tspan textLength="5.68" lengthAdjust="spacingAndGlyphs">8</tspan><tspan textLength="5.68" lengthAdjust="spacingAndGlyphs">7</tspan>.<tspan textLength="5.68" lengthAdjust="spacingAndGlyphs">8</tspan><tspan textLength="5.68" lengthAdjust="spacingAndGlyphs">0</tspan><tspan textLength="5.68" lengthAdjust="spacingAndGlyphs">0</tspan></text>
<text x="46.66 52.46 59.67 64.06 69.86 75.66" y="213" font-family="'Liberation Serif', serif" font-size="11.4" fill="#2a2a2a" stroke="#2a2a2a" stroke-width="0.3"><tspan textLength="5.68" lengthAdjust="spacingAndGlyphs">8</tspan><tspan textLength="5.68" lengthAdjust="spacingAndGlyphs">7</tspan>.<tspan textLength="5.68" lengthAdjust="spacingAndGlyphs">7</tspan><tspan textLength="5.68" lengthAdjust="spacingAndGlyphs">0</tspan><tspan textLength="5.68" lengthAdjust="spacingAndGlyphs">0</tspan></text>
<text x="151.26 157.06 164.27 168.66 174.46 180.26" y="213" font-family="'Liberation Serif', serif" font-size="11.4" fill="#2a2a2a" stroke="#2a2a2a" stroke-width="0.3"><tspan textLength="5.68" lengthAdjust="spacingAndGlyphs">8</tspan><tspan textLength="5.68" lengthAdjust="spacingAndGlyphs">7</tspan>.<tspan textLength="5.68" lengthAdjust="spacingAndGlyphs">8</tspan><tspan textLength="5.68" lengthAdjust="spacingAndGlyphs">0</tspan><tspan textLength="5.68" lengthAdjust="spacingAndGlyphs">0</tspan></text>
<g transform="translate(28.0,110.2) rotate(-90)"><text x="-17.94 -12.14 -4.93 -0.54 5.26 11.06" y="0" font-family="'Liberation Serif', serif" font-size="11.4" fill="#2a2a2a" stroke="#2a2a2a" stroke-width="0.3"><tspan textLength="5.68" lengthAdjust="spacingAndGlyphs">6</tspan><tspan textLength="5.68" lengthAdjust="spacingAndGlyphs">9</tspan>.<tspan textLength="5.68" lengthAdjust="spacingAndGlyphs">3</tspan><tspan textLength="5.68" lengthAdjust="spacingAndGlyphs">0</tspan><tspan textLength="5.68" lengthAdjust="spacingAndGlyphs">0</tspan></text></g>
<g transform="translate(192.9,108.6) rotate(90)"><text x="-17.94 -12.14 -4.93 -0.54 5.26 11.06" y="0" font-family="'Liberation Serif', serif" font-size="11.4" fill="#2a2a2a" stroke="#2a2a2a" stroke-width="0.3"><tspan textLength="5.68" lengthAdjust="spacingAndGlyphs">6</tspan><tspan textLength="5.68" lengthAdjust="spacingAndGlyphs">9</tspan>.<tspan textLength="5.68" lengthAdjust="spacingAndGlyphs">3</tspan><tspan textLength="5.68" lengthAdjust="spacingAndGlyphs">0</tspan><tspan textLength="5.68" lengthAdjust="spacingAndGlyphs">0</tspan></text></g>
<text x="253.06 258.86 266.08 270.46 276.26 282.06" y="19.7" font-family="'Liberation Serif', serif" font-size="11.4" fill="#2a2a2a" stroke="#2a2a2a" stroke-width="0.3"><tspan textLength="5.68" lengthAdjust="spacingAndGlyphs">8</tspan><tspan textLength="5.68" lengthAdjust="spacingAndGlyphs">7</tspan>.<tspan textLength="5.68" lengthAdjust="spacingAndGlyphs">7</tspan><tspan textLength="5.68" lengthAdjust="spacingAndGlyphs">0</tspan><tspan textLength="5.68" lengthAdjust="spacingAndGlyphs">0</tspan></text>
<text x="354.06 359.86 367.08 371.46 377.26 383.06" y="19.7" font-family="'Liberation Serif', serif" font-size="11.4" fill="#2a2a2a" stroke="#2a2a2a" stroke-width="0.3"><tspan textLength="5.68" lengthAdjust="spacingAndGlyphs">8</tspan><tspan textLength="5.68" lengthAdjust="spacingAndGlyphs">7</tspan>.<tspan textLength="5.68" lengthAdjust="spacingAndGlyphs">8</tspan><tspan textLength="5.68" lengthAdjust="spacingAndGlyphs">0</tspan><tspan textLength="5.68" lengthAdjust="spacingAndGlyphs">0</tspan></text>
<text x="254.06 259.86 267.08 271.46 277.26 283.06" y="211.5" font-family="'Liberation Serif', serif" font-size="11.4" fill="#2a2a2a" stroke="#2a2a2a" stroke-width="0.3"><tspan textLength="5.68" lengthAdjust="spacingAndGlyphs">8</tspan><tspan textLength="5.68" lengthAdjust="spacingAndGlyphs">7</tspan>.<tspan textLength="5.68" lengthAdjust="spacingAndGlyphs">7</tspan><tspan textLength="5.68" lengthAdjust="spacingAndGlyphs">0</tspan><tspan textLength="5.68" lengthAdjust="spacingAndGlyphs">0</tspan></text>
<text x="355.66 361.46 368.68 373.06 378.86 384.66" y="212" font-family="'Liberation Serif', serif" font-size="11.4" fill="#2a2a2a" stroke="#2a2a2a" stroke-width="0.3"><tspan textLength="5.68" lengthAdjust="spacingAndGlyphs">8</tspan><tspan textLength="5.68" lengthAdjust="spacingAndGlyphs">7</tspan>.<tspan textLength="5.68" lengthAdjust="spacingAndGlyphs">8</tspan><tspan textLength="5.68" lengthAdjust="spacingAndGlyphs">0</tspan><tspan textLength="5.68" lengthAdjust="spacingAndGlyphs">0</tspan></text>
<g transform="translate(236.5,110.7) rotate(-90)"><text x="-17.94 -12.14 -4.93 -0.54 5.26 11.06" y="0" font-family="'Liberation Serif', serif" font-size="11.4" fill="#2a2a2a" stroke="#2a2a2a" stroke-width="0.3"><tspan textLength="5.68" lengthAdjust="spacingAndGlyphs">6</tspan><tspan textLength="5.68" lengthAdjust="spacingAndGlyphs">9</tspan>.<tspan textLength="5.68" lengthAdjust="spacingAndGlyphs">3</tspan><tspan textLength="5.68" lengthAdjust="spacingAndGlyphs">0</tspan><tspan textLength="5.68" lengthAdjust="spacingAndGlyphs">0</tspan></text></g>
<g transform="translate(398.4,108.6) rotate(90)"><text x="-17.94 -12.14 -4.93 -0.54 5.26 11.06" y="0" font-family="'Liberation Serif', serif" font-size="11.4" fill="#2a2a2a" stroke="#2a2a2a" stroke-width="0.3"><tspan textLength="5.68" lengthAdjust="spacingAndGlyphs">6</tspan><tspan textLength="5.68" lengthAdjust="spacingAndGlyphs">9</tspan>.<tspan textLength="5.68" lengthAdjust="spacingAndGlyphs">3</tspan><tspan textLength="5.68" lengthAdjust="spacingAndGlyphs">0</tspan><tspan textLength="5.68" lengthAdjust="spacingAndGlyphs">0</tspan></text></g>
<text x="36.66 42.46 49.68 54.06 59.86 65.66" y="241" font-family="'Liberation Serif', serif" font-size="11.4" fill="#2a2a2a" stroke="#2a2a2a" stroke-width="0.3"><tspan textLength="5.68" lengthAdjust="spacingAndGlyphs">8</tspan><tspan textLength="5.68" lengthAdjust="spacingAndGlyphs">7</tspan>.<tspan textLength="5.68" lengthAdjust="spacingAndGlyphs">9</tspan><tspan textLength="5.68" lengthAdjust="spacingAndGlyphs">0</tspan><tspan textLength="5.68" lengthAdjust="spacingAndGlyphs">0</tspan></text>
<text x="148.06 153.86 161.07 165.46 171.26 177.06" y="241" font-family="'Liberation Serif', serif" font-size="11.4" fill="#2a2a2a" stroke="#2a2a2a" stroke-width="0.3"><tspan textLength="5.68" lengthAdjust="spacingAndGlyphs">8</tspan><tspan textLength="5.68" lengthAdjust="spacingAndGlyphs">8</tspan>.<tspan textLength="5.68" lengthAdjust="spacingAndGlyphs">0</tspan><tspan textLength="5.68" lengthAdjust="spacingAndGlyphs">0</tspan><tspan textLength="5.68" lengthAdjust="spacingAndGlyphs">0</tspan></text>
<text x="39.06 44.86 52.08 56.46 62.26 68.06" y="414" font-family="'Liberation Serif', serif" font-size="11.4" fill="#2a2a2a" stroke="#2a2a2a" stroke-width="0.3"><tspan textLength="5.68" lengthAdjust="spacingAndGlyphs">8</tspan><tspan textLength="5.68" lengthAdjust="spacingAndGlyphs">7</tspan>.<tspan textLength="5.68" lengthAdjust="spacingAndGlyphs">9</tspan><tspan textLength="5.68" lengthAdjust="spacingAndGlyphs">0</tspan><tspan textLength="5.68" lengthAdjust="spacingAndGlyphs">0</tspan></text>
<text x="150.56 156.36 163.57 167.96 173.76 179.56" y="414" font-family="'Liberation Serif', serif" font-size="11.4" fill="#2a2a2a" stroke="#2a2a2a" stroke-width="0.3"><tspan textLength="5.68" lengthAdjust="spacingAndGlyphs">8</tspan><tspan textLength="5.68" lengthAdjust="spacingAndGlyphs">8</tspan>.<tspan textLength="5.68" lengthAdjust="spacingAndGlyphs">0</tspan><tspan textLength="5.68" lengthAdjust="spacingAndGlyphs">0</tspan><tspan textLength="5.68" lengthAdjust="spacingAndGlyphs">0</tspan></text>
<g transform="translate(15.6,303.5) rotate(-90)"><text x="-17.94 -12.14 -4.93 -0.54 5.26 11.06" y="0" font-family="'Liberation Serif', serif" font-size="11.4" fill="#2a2a2a" stroke="#2a2a2a" stroke-width="0.3"><tspan textLength="5.68" lengthAdjust="spacingAndGlyphs">6</tspan><tspan textLength="5.68" lengthAdjust="spacingAndGlyphs">9</tspan>.<tspan textLength="5.68" lengthAdjust="spacingAndGlyphs">3</tspan><tspan textLength="5.68" lengthAdjust="spacingAndGlyphs">3</tspan><tspan textLength="5.68" lengthAdjust="spacingAndGlyphs">0</tspan></text></g>
<g transform="translate(16.2,397.8) rotate(-90)"><text x="-17.94 -12.14 -4.93 -0.54 5.26 11.06" y="0" font-family="'Liberation Serif', serif" font-size="11.4" fill="#2a2a2a" stroke="#2a2a2a" stroke-width="0.3"><tspan textLength="5.68" lengthAdjust="spacingAndGlyphs">6</tspan><tspan textLength="5.68" lengthAdjust="spacingAndGlyphs">9</tspan>.<tspan textLength="5.68" lengthAdjust="spacingAndGlyphs">3</tspan><tspan textLength="5.68" lengthAdjust="spacingAndGlyphs">0</tspan><tspan textLength="5.68" lengthAdjust="spacingAndGlyphs">0</tspan></text></g>
<g transform="translate(210.6,300.4) rotate(90)"><text x="-17.94 -12.14 -4.93 -0.54 5.26 11.06" y="0" font-family="'Liberation Serif', serif" font-size="11.4" fill="#2a2a2a" stroke="#2a2a2a" stroke-width="0.3"><tspan textLength="5.68" lengthAdjust="spacingAndGlyphs">6</tspan><tspan textLength="5.68" lengthAdjust="spacingAndGlyphs">9</tspan>.<tspan textLength="5.68" lengthAdjust="spacingAndGlyphs">3</tspan><tspan textLength="5.68" lengthAdjust="spacingAndGlyphs">3</tspan><tspan textLength="5.68" lengthAdjust="spacingAndGlyphs">0</tspan></text></g>
<g transform="translate(210.6,395) rotate(90)"><text x="-17.94 -12.14 -4.93 -0.54 5.26 11.06" y="0" font-family="'Liberation Serif', serif" font-size="11.4" fill="#2a2a2a" stroke="#2a2a2a" stroke-width="0.3"><tspan textLength="5.68" lengthAdjust="spacingAndGlyphs">6</tspan><tspan textLength="5.68" lengthAdjust="spacingAndGlyphs">9</tspan>.<tspan textLength="5.68" lengthAdjust="spacingAndGlyphs">3</tspan><tspan textLength="5.68" lengthAdjust="spacingAndGlyphs">0</tspan><tspan textLength="5.68" lengthAdjust="spacingAndGlyphs">0</tspan></text></g>
<text x="256.66 262.46 269.68 274.06 279.86 285.66" y="239.8" font-family="'Liberation Serif', serif" font-size="11.4" fill="#2a2a2a" stroke="#2a2a2a" stroke-width="0.3"><tspan textLength="5.68" lengthAdjust="spacingAndGlyphs">8</tspan><tspan textLength="5.68" lengthAdjust="spacingAndGlyphs">7</tspan>.<tspan textLength="5.68" lengthAdjust="spacingAndGlyphs">9</tspan><tspan textLength="5.68" lengthAdjust="spacingAndGlyphs">0</tspan><tspan textLength="5.68" lengthAdjust="spacingAndGlyphs">0</tspan></text>
<text x="365.46 371.26 378.48 382.86 388.66 394.46" y="239.8" font-family="'Liberation Serif', serif" font-size="11.4" fill="#2a2a2a" stroke="#2a2a2a" stroke-width="0.3"><tspan textLength="5.68" lengthAdjust="spacingAndGlyphs">8</tspan><tspan textLength="5.68" lengthAdjust="spacingAndGlyphs">8</tspan>.<tspan textLength="5.68" lengthAdjust="spacingAndGlyphs">0</tspan><tspan textLength="5.68" lengthAdjust="spacingAndGlyphs">0</tspan><tspan textLength="5.68" lengthAdjust="spacingAndGlyphs">0</tspan></text>
<text x="258.86 264.66 271.88 276.26 282.06 287.86" y="408.5" font-family="'Liberation Serif', serif" font-size="11.4" fill="#2a2a2a" stroke="#2a2a2a" stroke-width="0.3"><tspan textLength="5.68" lengthAdjust="spacingAndGlyphs">8</tspan><tspan textLength="5.68" lengthAdjust="spacingAndGlyphs">7</tspan>.<tspan textLength="5.68" lengthAdjust="spacingAndGlyphs">9</tspan><tspan textLength="5.68" lengthAdjust="spacingAndGlyphs">0</tspan><tspan textLength="5.68" lengthAdjust="spacingAndGlyphs">0</tspan></text>
<text x="367.96 373.76 380.98 385.36 391.16 396.96" y="408.5" font-family="'Liberation Serif', serif" font-size="11.4" fill="#2a2a2a" stroke="#2a2a2a" stroke-width="0.3"><tspan textLength="5.68" lengthAdjust="spacingAndGlyphs">8</tspan><tspan textLength="5.68" lengthAdjust="spacingAndGlyphs">8</tspan>.<tspan textLength="5.68" lengthAdjust="spacingAndGlyphs">0</tspan><tspan textLength="5.68" lengthAdjust="spacingAndGlyphs">0</tspan><tspan textLength="5.68" lengthAdjust="spacingAndGlyphs">0</tspan></text>
<g transform="translate(237,300.8) rotate(-90)"><text x="-17.94 -12.14 -4.93 -0.54 5.26 11.06" y="0" font-family="'Liberation Serif', serif" font-size="11.4" fill="#2a2a2a" stroke="#2a2a2a" stroke-width="0.3"><tspan textLength="5.68" lengthAdjust="spacingAndGlyphs">6</tspan><tspan textLength="5.68" lengthAdjust="spacingAndGlyphs">9</tspan>.<tspan textLength="5.68" lengthAdjust="spacingAndGlyphs">3</tspan><tspan textLength="5.68" lengthAdjust="spacingAndGlyphs">3</tspan><tspan textLength="5.68" lengthAdjust="spacingAndGlyphs">0</tspan></text></g>
<g transform="translate(237,392.6) rotate(-90)"><text x="-17.94 -12.14 -4.93 -0.54 5.26 11.06" y="0" font-family="'Liberation Serif', serif" font-size="11.4" fill="#2a2a2a" stroke="#2a2a2a" stroke-width="0.3"><tspan textLength="5.68" lengthAdjust="spacingAndGlyphs">6</tspan><tspan textLength="5.68" lengthAdjust="spacingAndGlyphs">9</tspan>.<tspan textLength="5.68" lengthAdjust="spacingAndGlyphs">3</tspan><tspan textLength="5.68" lengthAdjust="spacingAndGlyphs">0</tspan><tspan textLength="5.68" lengthAdjust="spacingAndGlyphs">0</tspan></text></g>
<g transform="translate(427.4,297.6) rotate(90)"><text x="-17.94 -12.14 -4.93 -0.54 5.26 11.06" y="0" font-family="'Liberation Serif', serif" font-size="11.4" fill="#2a2a2a" stroke="#2a2a2a" stroke-width="0.3"><tspan textLength="5.68" lengthAdjust="spacingAndGlyphs">6</tspan><tspan textLength="5.68" lengthAdjust="spacingAndGlyphs">9</tspan>.<tspan textLength="5.68" lengthAdjust="spacingAndGlyphs">3</tspan><tspan textLength="5.68" lengthAdjust="spacingAndGlyphs">3</tspan><tspan textLength="5.68" lengthAdjust="spacingAndGlyphs">0</tspan></text></g>
<g transform="translate(427.4,393) rotate(90)"><text x="-17.94 -12.14 -4.93 -0.54 5.26 11.06" y="0" font-family="'Liberation Serif', serif" font-size="11.4" fill="#2a2a2a" stroke="#2a2a2a" stroke-width="0.3"><tspan textLength="5.68" lengthAdjust="spacingAndGlyphs">6</tspan><tspan textLength="5.68" lengthAdjust="spacingAndGlyphs">9</tspan>.<tspan textLength="5.68" lengthAdjust="spacingAndGlyphs">3</tspan><tspan textLength="5.68" lengthAdjust="spacingAndGlyphs">0</tspan><tspan textLength="5.68" lengthAdjust="spacingAndGlyphs">0</tspan></text></g>
<text x="205.5" y="43" font-family="'Liberation Sans', sans-serif" font-size="31" fill="#000" stroke="#000" stroke-width="0.5">a</text>
<text x="447.5" y="43" font-family="'Liberation Sans', sans-serif" font-size="31" fill="#000" stroke="#000" stroke-width="0.5">b</text>
<text x="213" y="264.5" font-family="'Liberation Sans', sans-serif" font-size="31" fill="#000" stroke="#000" stroke-width="0.5">c</text>
<text x="454.5" y="264.5" font-family="'Liberation Sans', sans-serif" font-size="31" fill="#000" stroke="#000" stroke-width="0.5">d</text>
<polygon points="46,27.7 46.5,51.8 33,60.6" fill="#c9c9c9"/><polygon points="46,27.7 60.7,61.7 46.5,51.8" fill="#fff"/><polygon points="46,27.7 60.7,61.7 46.5,51.8 33,60.6" fill="none" stroke="#000" stroke-width="1.6" stroke-linejoin="miter"/>
<polygon points="254.6,28.8 254.6,51.4 241.5,61.7" fill="#c9c9c9"/><polygon points="254.6,28.8 268.4,63.9 254.6,51.4" fill="#fff"/><polygon points="254.6,28.8 268.4,63.9 254.6,51.4 241.5,61.7" fill="none" stroke="#000" stroke-width="1.6" stroke-linejoin="miter"/>
<polygon points="40.4,254.7 40.4,276 27.7,287.9" fill="#c9c9c9"/><polygon points="40.4,254.7 54,288.8 40.4,276" fill="#fff"/><polygon points="40.4,254.7 54,288.8 40.4,276 27.7,287.9" fill="none" stroke="#000" stroke-width="1.6" stroke-linejoin="miter"/>
<polygon points="258.1,249.1 258.1,270.8 244.7,283.5" fill="#c9c9c9"/><polygon points="258.1,249.1 271.9,284.2 258.1,270.8" fill="#fff"/><polygon points="258.1,249.1 271.9,284.2 258.1,270.8 244.7,283.5" fill="none" stroke="#000" stroke-width="1.6" stroke-linejoin="miter"/>
<text x="415.23 420.47 424.19 428.91 433.85 439.49 443.29 447.79 452.51 458.23 462.17 467.41 471.39 476.33 480.83 486.29 490.49 495.21 500.45" y="72.7" font-family="'Liberation Serif', serif" font-size="9.4" fill="#505050" stroke="#505050" stroke-width="0.1">sl<tspan textLength="4.63" lengthAdjust="spacingAndGlyphs">o</tspan><tspan textLength="4.63" lengthAdjust="spacingAndGlyphs">p</tspan>e a<tspan textLength="4.63" lengthAdjust="spacingAndGlyphs">n</tspan><tspan textLength="4.63" lengthAdjust="spacingAndGlyphs">g</tspan>le(<tspan textLength="4.63" lengthAdjust="spacingAndGlyphs">d</tspan>e<tspan textLength="4.63" lengthAdjust="spacingAndGlyphs">g</tspan>ree)</text>
<rect x="415.3" y="77.0" width="8.4" height="5.5" fill="#fff5f0"/>
<text x="426.95 431.67 437.53 441.11" y="82.8" font-family="'Liberation Serif', serif" font-size="9.4" fill="#404040" stroke="#404040" stroke-width="0.1"><tspan textLength="4.63" lengthAdjust="spacingAndGlyphs">&lt;</tspan><tspan textLength="4.63" lengthAdjust="spacingAndGlyphs">=</tspan> <tspan textLength="4.63" lengthAdjust="spacingAndGlyphs">8</tspan></text>
<rect x="415.3" y="86.9" width="8.4" height="5.5" fill="#fee0d2"/>
<text x="426.95 432.81 437.13 442.25 445.83 450.55" y="92.7" font-family="'Liberation Serif', serif" font-size="9.4" fill="#404040" stroke="#404040" stroke-width="0.1"><tspan textLength="4.63" lengthAdjust="spacingAndGlyphs">8</tspan> - <tspan textLength="4.63" lengthAdjust="spacingAndGlyphs">1</tspan><tspan textLength="4.63" lengthAdjust="spacingAndGlyphs">0</tspan></text>
<rect x="415.3" y="96.8" width="8.4" height="5.5" fill="#fcbba1"/>
<text x="426.95 431.67 437.53 441.85 446.97 450.55 455.27" y="102.6" font-family="'Liberation Serif', serif" font-size="9.4" fill="#404040" stroke="#404040" stroke-width="0.1"><tspan textLength="4.63" lengthAdjust="spacingAndGlyphs">1</tspan><tspan textLength="4.63" lengthAdjust="spacingAndGlyphs">0</tspan> - <tspan textLength="4.63" lengthAdjust="spacingAndGlyphs">1</tspan><tspan textLength="4.63" lengthAdjust="spacingAndGlyphs">3</tspan></text>
<rect x="415.3" y="106.7" width="8.4" height="5.5" fill="#fc9272"/>
<text x="426.95 431.67 437.53 441.85 446.97 450.55 455.27" y="112.5" font-family="'Liberation Serif', serif" font-size="9.4" fill="#404040" stroke="#404040" stroke-width="0.1"><tspan textLength="4.63" lengthAdjust="spacingAndGlyphs">1</tspan><tspan textLength="4.63" lengthAdjust="spacingAndGlyphs">3</tspan> - <tspan textLength="4.63" lengthAdjust="spacingAndGlyphs">1</tspan><tspan textLength="4.63" lengthAdjust="spacingAndGlyphs">5</tspan></text>
<rect x="415.3" y="116.6" width="8.4" height="5.5" fill="#fb6a4a"/>
<text x="426.95 431.67 437.53 441.85 446.97 450.55 455.27" y="122.4" font-family="'Liberation Serif', serif" font-size="9.4" fill="#404040" stroke="#404040" stroke-width="0.1"><tspan textLength="4.63" lengthAdjust="spacingAndGlyphs">1</tspan><tspan textLength="4.63" lengthAdjust="spacingAndGlyphs">5</tspan> - <tspan textLength="4.63" lengthAdjust="spacingAndGlyphs">1</tspan><tspan textLength="4.63" lengthAdjust="spacingAndGlyphs">8</tspan></text>
<rect x="415.3" y="126.5" width="8.4" height="5.5" fill="#f03e2e"/>
<text x="426.95 431.67 437.53 441.85 446.97 450.55 455.27" y="132.3" font-family="'Liberation Serif', serif" font-size="9.4" fill="#404040" stroke="#404040" stroke-width="0.1"><tspan textLength="4.63" lengthAdjust="spacingAndGlyphs">1</tspan><tspan textLength="4.63" lengthAdjust="spacingAndGlyphs">8</tspan> - <tspan textLength="4.63" lengthAdjust="spacingAndGlyphs">2</tspan><tspan textLength="4.63" lengthAdjust="spacingAndGlyphs">0</tspan></text>
<rect x="415.3" y="136.4" width="8.4" height="5.5" fill="#dc2020"/>
<text x="426.95 431.67 437.53 441.85 446.97 450.55 455.27" y="142.2" font-family="'Liberation Serif', serif" font-size="9.4" fill="#404040" stroke="#404040" stroke-width="0.1"><tspan textLength="4.63" lengthAdjust="spacingAndGlyphs">2</tspan><tspan textLength="4.63" lengthAdjust="spacingAndGlyphs">0</tspan> - <tspan textLength="4.63" lengthAdjust="spacingAndGlyphs">2</tspan><tspan textLength="4.63" lengthAdjust="spacingAndGlyphs">3</tspan></text>
<rect x="415.3" y="146.3" width="8.4" height="5.5" fill="#c0141a"/>
<text x="426.95 431.67 437.53 441.85 446.97 450.55 455.27" y="152.1" font-family="'Liberation Serif', serif" font-size="9.4" fill="#404040" stroke="#404040" stroke-width="0.1"><tspan textLength="4.63" lengthAdjust="spacingAndGlyphs">2</tspan><tspan textLength="4.63" lengthAdjust="spacingAndGlyphs">3</tspan> - <tspan textLength="4.63" lengthAdjust="spacingAndGlyphs">2</tspan><tspan textLength="4.63" lengthAdjust="spacingAndGlyphs">5</tspan></text>
<rect x="415.3" y="156.2" width="8.4" height="5.5" fill="#a00c14"/>
<text x="426.95 431.67 437.53 441.85 446.97 450.55 455.27" y="162.0" font-family="'Liberation Serif', serif" font-size="9.4" fill="#404040" stroke="#404040" stroke-width="0.1"><tspan textLength="4.63" lengthAdjust="spacingAndGlyphs">2</tspan><tspan textLength="4.63" lengthAdjust="spacingAndGlyphs">5</tspan> - <tspan textLength="4.63" lengthAdjust="spacingAndGlyphs">2</tspan><tspan textLength="4.63" lengthAdjust="spacingAndGlyphs">8</tspan></text>
<rect x="415.3" y="166.1" width="8.4" height="5.5" fill="#67000d"/>
<text x="426.95 432.81 436.39 441.11" y="171.9" font-family="'Liberation Serif', serif" font-size="9.4" fill="#404040" stroke="#404040" stroke-width="0.1"><tspan textLength="4.63" lengthAdjust="spacingAndGlyphs">&gt;</tspan> <tspan textLength="4.63" lengthAdjust="spacingAndGlyphs">2</tspan><tspan textLength="4.63" lengthAdjust="spacingAndGlyphs">8</tspan></text>
<text x="454.63 459.87 463.59 468.31 473.25 478.88 482.69 487.19 491.91 497.63 501.57 506.81 510.79 515.73 520.23 525.69 529.89 534.61 539.85" y="288.5" font-family="'Liberation Serif', serif" font-size="9.4" fill="#505050" stroke="#505050" stroke-width="0.1">sl<tspan textLength="4.63" lengthAdjust="spacingAndGlyphs">o</tspan><tspan textLength="4.63" lengthAdjust="spacingAndGlyphs">p</tspan>e a<tspan textLength="4.63" lengthAdjust="spacingAndGlyphs">n</tspan><tspan textLength="4.63" lengthAdjust="spacingAndGlyphs">g</tspan>le(<tspan textLength="4.63" lengthAdjust="spacingAndGlyphs">d</tspan>e<tspan textLength="4.63" lengthAdjust="spacingAndGlyphs">g</tspan>ree)</text>
<rect x="454.7" y="292.0" width="8.4" height="5.5" fill="#fff5f0"/>
<text x="466.35 471.07 476.93 480.51" y="297.8" font-family="'Liberation Serif', serif" font-size="9.4" fill="#404040" stroke="#404040" stroke-width="0.1"><tspan textLength="4.63" lengthAdjust="spacingAndGlyphs">&lt;</tspan><tspan textLength="4.63" lengthAdjust="spacingAndGlyphs">=</tspan> <tspan textLength="4.63" lengthAdjust="spacingAndGlyphs">8</tspan></text>
<rect x="454.7" y="301.9" width="8.4" height="5.5" fill="#fee0d2"/>
<text x="466.35 472.21 476.53 481.65 485.23 489.95" y="307.7" font-family="'Liberation Serif', serif" font-size="9.4" fill="#404040" stroke="#404040" stroke-width="0.1"><tspan textLength="4.63" lengthAdjust="spacingAndGlyphs">8</tspan> - <tspan textLength="4.63" lengthAdjust="spacingAndGlyphs">1</tspan><tspan textLength="4.63" lengthAdjust="spacingAndGlyphs">0</tspan></text>
<rect x="454.7" y="311.8" width="8.4" height="5.5" fill="#fcbba1"/>
<text x="466.35 471.07 476.93 481.25 486.37 489.95 494.67" y="317.6" font-family="'Liberation Serif', serif" font-size="9.4" fill="#404040" stroke="#404040" stroke-width="0.1"><tspan textLength="4.63" lengthAdjust="spacingAndGlyphs">1</tspan><tspan textLength="4.63" lengthAdjust="spacingAndGlyphs">0</tspan> - <tspan textLength="4.63" lengthAdjust="spacingAndGlyphs">1</tspan><tspan textLength="4.63" lengthAdjust="spacingAndGlyphs">3</tspan></text>
<rect x="454.7" y="321.7" width="8.4" height="5.5" fill="#fc9272"/>
<text x="466.35 471.07 476.93 481.25 486.37 489.95 494.67" y="327.5" font-family="'Liberation Serif', serif" font-size="9.4" fill="#404040" stroke="#404040" stroke-width="0.1"><tspan textLength="4.63" lengthAdjust="spacingAndGlyphs">1</tspan><tspan textLength="4.63" lengthAdjust="spacingAndGlyphs">3</tspan> - <tspan textLength="4.63" lengthAdjust="spacingAndGlyphs">1</tspan><tspan textLength="4.63" lengthAdjust="spacingAndGlyphs">5</tspan></text>
<rect x="454.7" y="331.6" width="8.4" height="5.5" fill="#fb6a4a"/>
<text x="466.35 471.07 476.93 481.25 486.37 489.95 494.67" y="337.4" font-family="'Liberation Serif', serif" font-size="9.4" fill="#404040" stroke="#404040" stroke-width="0.1"><tspan textLength="4.63" lengthAdjust="spacingAndGlyphs">1</tspan><tspan textLength="4.63" lengthAdjust="spacingAndGlyphs">5</tspan> - <tspan textLength="4.63" lengthAdjust="spacingAndGlyphs">1</tspan><tspan textLength="4.63" lengthAdjust="spacingAndGlyphs">8</tspan></text>
<rect x="454.7" y="341.5" width="8.4" height="5.5" fill="#f03e2e"/>
<text x="466.35 471.07 476.93 481.25 486.37 489.95 494.67" y="347.3" font-family="'Liberation Serif', serif" font-size="9.4" fill="#404040" stroke="#404040" stroke-width="0.1"><tspan textLength="4.63" lengthAdjust="spacingAndGlyphs">1</tspan><tspan textLength="4.63" lengthAdjust="spacingAndGlyphs">8</tspan> - <tspan textLength="4.63" lengthAdjust="spacingAndGlyphs">2</tspan><tspan textLength="4.63" lengthAdjust="spacingAndGlyphs">0</tspan></text>
<rect x="454.7" y="351.4" width="8.4" height="5.5" fill="#dc2020"/>
<text x="466.35 471.07 476.93 481.25 486.37 489.95 494.67" y="357.2" font-family="'Liberation Serif', serif" font-size="9.4" fill="#404040" stroke="#404040" stroke-width="0.1"><tspan textLength="4.63" lengthAdjust="spacingAndGlyphs">2</tspan><tspan textLength="4.63" lengthAdjust="spacingAndGlyphs">0</tspan> - <tspan textLength="4.63" lengthAdjust="spacingAndGlyphs">2</tspan><tspan textLength="4.63" lengthAdjust="spacingAndGlyphs">3</tspan></text>
<rect x="454.7" y="361.3" width="8.4" height="5.5" fill="#c0141a"/>
<text x="466.35 471.07 476.93 481.25 486.37 489.95 494.67" y="367.1" font-family="'Liberation Serif', serif" font-size="9.4" fill="#404040" stroke="#404040" stroke-width="0.1"><tspan textLength="4.63" lengthAdjust="spacingAndGlyphs">2</tspan><tspan textLength="4.63" lengthAdjust="spacingAndGlyphs">3</tspan> - <tspan textLength="4.63" lengthAdjust="spacingAndGlyphs">2</tspan><tspan textLength="4.63" lengthAdjust="spacingAndGlyphs">5</tspan></text>
<rect x="454.7" y="371.2" width="8.4" height="5.5" fill="#a00c14"/>
<text x="466.35 471.07 476.93 481.25 486.37 489.95 494.67" y="377.0" font-family="'Liberation Serif', serif" font-size="9.4" fill="#404040" stroke="#404040" stroke-width="0.1"><tspan textLength="4.63" lengthAdjust="spacingAndGlyphs">2</tspan><tspan textLength="4.63" lengthAdjust="spacingAndGlyphs">5</tspan> - <tspan textLength="4.63" lengthAdjust="spacingAndGlyphs">2</tspan><tspan textLength="4.63" lengthAdjust="spacingAndGlyphs">8</tspan></text>
<rect x="454.7" y="381.1" width="8.4" height="5.5" fill="#67000d"/>
<text x="466.35 472.21 475.79 480.51" y="386.9" font-family="'Liberation Serif', serif" font-size="9.4" fill="#404040" stroke="#404040" stroke-width="0.1"><tspan textLength="4.63" lengthAdjust="spacingAndGlyphs">&gt;</tspan> <tspan textLength="4.63" lengthAdjust="spacingAndGlyphs">2</tspan><tspan textLength="4.63" lengthAdjust="spacingAndGlyphs">8</tspan></text>
</svg></body></html>
